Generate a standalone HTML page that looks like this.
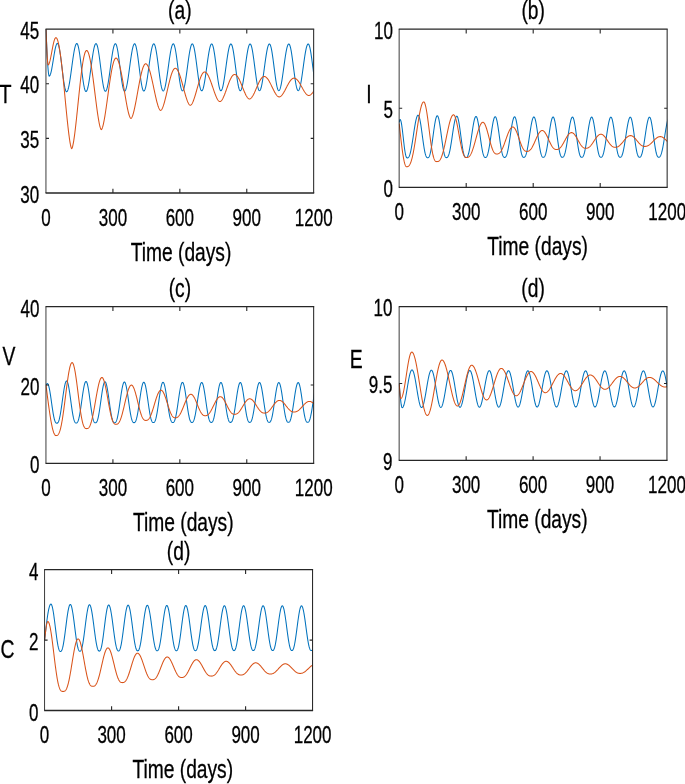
<!DOCTYPE html><html><head><meta charset="utf-8"><title>Figure</title>
<style>html,body{margin:0;padding:0;background:#fff;overflow:hidden}svg{display:block}text{font-family:"Liberation Sans",Arial,Helvetica,sans-serif;fill:#000;stroke:#000;stroke-width:0.3px}</style></head><body>
<svg width="685" height="784" viewBox="0 0 685 784">
<rect width="685" height="784" fill="#fff"/>
<g id="panel-a">
<clipPath id="cpa"><rect x="45.50" y="28.00" width="268.20" height="166.20"/></clipPath>
<g clip-path="url(#cpa)" fill="none" stroke-width="1.05" stroke-linejoin="round">
<path d="M46.00,29.20 L46.27,35.32 L46.53,41.34 L46.80,47.15 L47.07,52.65 L47.33,57.75 L47.60,62.36 L47.87,66.41 L48.13,69.82 L48.40,72.53 L48.67,74.50 L48.93,75.70 L49.20,76.10 L49.46,76.02 L49.71,75.79 L49.97,75.40 L50.23,74.86 L50.48,74.17 L50.74,73.34 L50.99,72.39 L51.25,71.31 L51.51,70.12 L51.76,68.83 L52.02,67.46 L52.27,66.01 L52.53,64.50 L52.79,62.94 L53.04,61.35 L53.30,59.75 L53.56,58.15 L53.81,56.56 L54.07,55.00 L54.33,53.49 L54.58,52.04 L54.84,50.67 L55.09,49.38 L55.35,48.19 L55.61,47.11 L55.86,46.16 L56.12,45.33 L56.38,44.64 L56.63,44.10 L56.89,43.71 L57.14,43.48 L57.40,43.40 L57.66,43.49 L57.91,43.77 L58.17,44.22 L58.42,44.86 L58.68,45.67 L58.93,46.64 L59.19,47.78 L59.44,49.06 L59.70,50.49 L59.96,52.04 L60.21,53.72 L60.47,55.50 L60.72,57.37 L60.98,59.32 L61.23,61.34 L61.49,63.40 L61.74,65.49 L62.00,67.60 L62.26,69.71 L62.51,71.80 L62.77,73.86 L63.02,75.88 L63.28,77.83 L63.53,79.70 L63.79,81.48 L64.04,83.16 L64.30,84.71 L64.56,86.14 L64.81,87.42 L65.07,88.56 L65.32,89.53 L65.58,90.34 L65.83,90.98 L66.09,91.43 L66.34,91.71 L66.60,91.80 L66.85,91.73 L67.11,91.50 L67.36,91.13 L67.62,90.62 L67.88,89.96 L68.13,89.17 L68.38,88.24 L68.64,87.19 L68.89,86.02 L69.15,84.73 L69.41,83.34 L69.66,81.85 L69.91,80.28 L70.17,78.62 L70.42,76.90 L70.68,75.12 L70.94,73.30 L71.19,71.44 L71.44,69.56 L71.70,67.67 L71.95,65.77 L72.21,63.89 L72.46,62.03 L72.72,60.21 L72.97,58.43 L73.23,56.71 L73.48,55.06 L73.74,53.48 L73.99,51.99 L74.25,50.60 L74.50,49.31 L74.76,48.14 L75.02,47.09 L75.27,46.16 L75.52,45.37 L75.78,44.71 L76.03,44.20 L76.29,43.83 L76.55,43.61 L76.80,43.53 L77.06,43.62 L77.31,43.90 L77.57,44.35 L77.82,44.98 L78.08,45.78 L78.33,46.75 L78.59,47.87 L78.84,49.15 L79.10,50.56 L79.36,52.11 L79.61,53.77 L79.87,55.53 L80.12,57.39 L80.38,59.32 L80.63,61.32 L80.89,63.37 L81.14,65.44 L81.40,67.53 L81.66,69.63 L81.91,71.70 L82.17,73.75 L82.42,75.74 L82.68,77.68 L82.93,79.53 L83.19,81.30 L83.44,82.96 L83.70,84.50 L83.96,85.92 L84.21,87.19 L84.47,88.32 L84.72,89.29 L84.98,90.09 L85.23,90.72 L85.49,91.17 L85.74,91.44 L86.00,91.53 L86.25,91.46 L86.50,91.24 L86.75,90.87 L87.00,90.36 L87.25,89.71 L87.50,88.92 L87.75,88.01 L88.00,86.96 L88.25,85.80 L88.50,84.52 L88.75,83.14 L89.00,81.66 L89.25,80.10 L89.50,78.46 L89.75,76.75 L90.00,74.99 L90.25,73.18 L90.50,71.33 L90.75,69.46 L91.00,67.59 L91.25,65.71 L91.50,63.84 L91.75,61.99 L92.00,60.18 L92.25,58.42 L92.50,56.71 L92.75,55.07 L93.00,53.51 L93.25,52.03 L93.50,50.65 L93.75,49.37 L94.00,48.21 L94.25,47.17 L94.50,46.25 L94.75,45.46 L95.00,44.81 L95.25,44.30 L95.50,43.93 L95.75,43.71 L96.00,43.64 L96.25,43.72 L96.51,43.98 L96.76,44.41 L97.02,45.00 L97.27,45.75 L97.52,46.66 L97.78,47.73 L98.03,48.93 L98.29,50.27 L98.54,51.73 L98.79,53.30 L99.05,54.98 L99.30,56.75 L99.56,58.59 L99.81,60.50 L100.06,62.46 L100.32,64.45 L100.57,66.47 L100.83,68.49 L101.08,70.51 L101.34,72.51 L101.59,74.46 L101.84,76.37 L102.10,78.22 L102.35,79.98 L102.61,81.66 L102.86,83.24 L103.11,84.70 L103.37,86.03 L103.62,87.24 L103.88,88.30 L104.13,89.21 L104.38,89.97 L104.64,90.56 L104.89,90.98 L105.15,91.24 L105.40,91.33 L105.65,91.25 L105.90,91.03 L106.15,90.67 L106.40,90.16 L106.65,89.52 L106.90,88.73 L107.15,87.82 L107.40,86.78 L107.65,85.62 L107.90,84.36 L108.15,82.98 L108.40,81.51 L108.65,79.96 L108.90,78.33 L109.15,76.63 L109.40,74.88 L109.65,73.08 L109.90,71.25 L110.15,69.39 L110.40,67.52 L110.65,65.65 L110.90,63.80 L111.15,61.96 L111.40,60.17 L111.65,58.41 L111.90,56.71 L112.15,55.08 L112.40,53.53 L112.65,52.06 L112.90,50.69 L113.15,49.42 L113.40,48.26 L113.65,47.22 L113.90,46.31 L114.15,45.53 L114.40,44.88 L114.65,44.37 L114.90,44.01 L115.15,43.79 L115.40,43.72 L115.66,43.81 L115.91,44.08 L116.17,44.52 L116.42,45.15 L116.68,45.94 L116.93,46.90 L117.19,48.01 L117.44,49.27 L117.70,50.67 L117.96,52.19 L118.21,53.83 L118.47,55.58 L118.72,57.42 L118.98,59.33 L119.23,61.30 L119.49,63.32 L119.74,65.37 L120.00,67.44 L120.26,69.51 L120.51,71.56 L120.77,73.58 L121.02,75.56 L121.28,77.47 L121.53,79.30 L121.79,81.05 L122.04,82.69 L122.30,84.22 L122.56,85.62 L122.81,86.88 L123.07,87.99 L123.32,88.94 L123.58,89.74 L123.83,90.36 L124.09,90.81 L124.34,91.08 L124.60,91.17 L124.85,91.09 L125.10,90.88 L125.35,90.51 L125.60,90.01 L125.85,89.36 L126.10,88.58 L126.35,87.68 L126.60,86.64 L126.85,85.49 L127.10,84.23 L127.35,82.86 L127.60,81.40 L127.85,79.85 L128.10,78.23 L128.35,76.54 L128.60,74.79 L128.85,73.00 L129.10,71.18 L129.35,69.33 L129.60,67.47 L129.85,65.61 L130.10,63.77 L130.35,61.94 L130.60,60.15 L130.85,58.41 L131.10,56.72 L131.35,55.09 L131.60,53.55 L131.85,52.09 L132.10,50.72 L132.35,49.46 L132.60,48.30 L132.85,47.27 L133.10,46.36 L133.35,45.58 L133.60,44.94 L133.85,44.43 L134.10,44.07 L134.35,43.85 L134.60,43.78 L134.86,43.87 L135.11,44.14 L135.37,44.58 L135.62,45.20 L135.88,45.99 L136.13,46.95 L136.39,48.05 L136.64,49.31 L136.90,50.70 L137.16,52.22 L137.41,53.86 L137.67,55.59 L137.92,57.42 L138.18,59.33 L138.43,61.29 L138.69,63.31 L138.94,65.35 L139.20,67.41 L139.46,69.47 L139.71,71.51 L139.97,73.53 L140.22,75.49 L140.48,77.40 L140.73,79.23 L140.99,80.96 L141.24,82.60 L141.50,84.12 L141.76,85.51 L142.01,86.77 L142.27,87.88 L142.52,88.83 L142.78,89.62 L143.03,90.24 L143.29,90.68 L143.54,90.95 L143.80,91.04 L144.05,90.97 L144.30,90.75 L144.55,90.39 L144.80,89.89 L145.05,89.24 L145.30,88.47 L145.55,87.56 L145.80,86.53 L146.05,85.39 L146.30,84.13 L146.55,82.77 L146.80,81.31 L147.05,79.77 L147.30,78.15 L147.55,76.47 L147.80,74.73 L148.05,72.95 L148.30,71.13 L148.55,69.29 L148.80,67.43 L149.05,65.58 L149.30,63.74 L149.55,61.92 L149.80,60.14 L150.05,58.40 L150.30,56.72 L150.55,55.10 L150.80,53.56 L151.05,52.10 L151.30,50.74 L151.55,49.48 L151.80,48.34 L152.05,47.31 L152.30,46.40 L152.55,45.63 L152.80,44.98 L153.05,44.48 L153.30,44.12 L153.55,43.90 L153.80,43.83 L154.05,43.91 L154.31,44.17 L154.56,44.59 L154.82,45.17 L155.07,45.92 L155.32,46.82 L155.58,47.87 L155.83,49.06 L156.09,50.38 L156.34,51.82 L156.59,53.38 L156.85,55.03 L157.10,56.78 L157.36,58.60 L157.61,60.49 L157.86,62.42 L158.12,64.39 L158.37,66.39 L158.63,68.39 L158.88,70.38 L159.14,72.35 L159.39,74.28 L159.64,76.17 L159.90,77.99 L160.15,79.74 L160.41,81.39 L160.66,82.95 L160.91,84.39 L161.17,85.71 L161.42,86.90 L161.68,87.95 L161.93,88.85 L162.18,89.60 L162.44,90.18 L162.69,90.60 L162.95,90.86 L163.20,90.94 L163.45,90.87 L163.70,90.65 L163.96,90.29 L164.21,89.79 L164.46,89.15 L164.72,88.38 L164.97,87.48 L165.22,86.45 L165.47,85.30 L165.72,84.05 L165.98,82.69 L166.23,81.24 L166.48,79.70 L166.73,78.09 L166.99,76.41 L167.24,74.68 L167.49,72.90 L167.75,71.09 L168.00,69.25 L168.25,67.40 L168.50,65.56 L168.75,63.72 L169.01,61.91 L169.26,60.13 L169.51,58.40 L169.77,56.72 L170.02,55.11 L170.27,53.57 L170.52,52.12 L170.78,50.76 L171.03,49.51 L171.28,48.36 L171.53,47.33 L171.78,46.43 L172.04,45.66 L172.29,45.02 L172.54,44.52 L172.80,44.16 L173.05,43.94 L173.30,43.87 L173.56,43.96 L173.81,44.22 L174.07,44.67 L174.32,45.28 L174.58,46.07 L174.83,47.01 L175.09,48.12 L175.34,49.36 L175.60,50.75 L175.86,52.26 L176.11,53.89 L176.37,55.62 L176.62,57.44 L176.88,59.33 L177.13,61.28 L177.39,63.29 L177.64,65.32 L177.90,67.37 L178.16,69.42 L178.41,71.45 L178.67,73.45 L178.92,75.40 L179.18,77.30 L179.43,79.12 L179.69,80.85 L179.94,82.47 L180.20,83.98 L180.46,85.37 L180.71,86.62 L180.97,87.72 L181.22,88.67 L181.48,89.45 L181.73,90.07 L181.99,90.51 L182.24,90.78 L182.50,90.87 L182.75,90.79 L183.00,90.56 L183.25,90.19 L183.51,89.66 L183.76,88.99 L184.01,88.18 L184.26,87.23 L184.51,86.16 L184.76,84.96 L185.01,83.65 L185.26,82.24 L185.52,80.72 L185.77,79.12 L186.02,77.45 L186.27,75.71 L186.52,73.92 L186.77,72.08 L187.02,70.21 L187.27,68.33 L187.53,66.44 L187.78,64.55 L188.03,62.68 L188.28,60.85 L188.53,59.05 L188.78,57.31 L189.03,55.64 L189.28,54.04 L189.54,52.53 L189.79,51.11 L190.04,49.80 L190.29,48.61 L190.54,47.53 L190.79,46.59 L191.04,45.78 L191.29,45.10 L191.55,44.58 L191.80,44.20 L192.05,43.97 L192.30,43.90 L192.55,43.98 L192.81,44.23 L193.06,44.65 L193.32,45.24 L193.57,45.98 L193.82,46.87 L194.08,47.92 L194.33,49.10 L194.59,50.42 L194.84,51.86 L195.09,53.40 L195.35,55.05 L195.60,56.79 L195.86,58.61 L196.11,60.48 L196.36,62.41 L196.62,64.37 L196.87,66.36 L197.13,68.35 L197.38,70.33 L197.64,72.29 L197.89,74.22 L198.14,76.10 L198.40,77.91 L198.65,79.65 L198.91,81.30 L199.16,82.85 L199.41,84.29 L199.67,85.60 L199.92,86.79 L200.18,87.83 L200.43,88.73 L200.68,89.47 L200.94,90.05 L201.19,90.47 L201.45,90.72 L201.70,90.81 L201.95,90.74 L202.20,90.52 L202.45,90.16 L202.70,89.66 L202.95,89.02 L203.20,88.25 L203.45,87.35 L203.70,86.33 L203.95,85.19 L204.20,83.94 L204.45,82.59 L204.70,81.14 L204.95,79.61 L205.20,78.01 L205.45,76.34 L205.70,74.61 L205.95,72.84 L206.20,71.03 L206.45,69.20 L206.70,67.36 L206.95,65.52 L207.20,63.70 L207.45,61.89 L207.70,60.12 L207.95,58.39 L208.20,56.72 L208.45,55.11 L208.70,53.58 L208.95,52.14 L209.20,50.79 L209.45,49.54 L209.70,48.40 L209.95,47.37 L210.20,46.47 L210.45,45.70 L210.70,45.07 L210.95,44.57 L211.20,44.21 L211.45,43.99 L211.70,43.92 L211.96,44.01 L212.21,44.27 L212.47,44.72 L212.72,45.33 L212.98,46.11 L213.23,47.06 L213.49,48.15 L213.74,49.40 L214.00,50.78 L214.26,52.29 L214.51,53.91 L214.77,55.63 L215.02,57.44 L215.28,59.33 L215.53,61.28 L215.79,63.27 L216.04,65.30 L216.30,67.34 L216.56,69.38 L216.81,71.41 L217.07,73.40 L217.32,75.35 L217.58,77.24 L217.83,79.05 L218.09,80.77 L218.34,82.40 L218.60,83.90 L218.86,85.28 L219.11,86.53 L219.37,87.62 L219.62,88.57 L219.88,89.35 L220.13,89.96 L220.39,90.41 L220.64,90.67 L220.90,90.76 L221.15,90.69 L221.40,90.47 L221.65,90.12 L221.90,89.62 L222.15,88.98 L222.40,88.21 L222.65,87.31 L222.90,86.29 L223.15,85.15 L223.40,83.90 L223.65,82.55 L223.90,81.11 L224.15,79.58 L224.40,77.98 L224.65,76.31 L224.90,74.58 L225.15,72.82 L225.40,71.01 L225.65,69.19 L225.90,67.35 L226.15,65.51 L226.40,63.69 L226.65,61.88 L226.90,60.11 L227.15,58.39 L227.40,56.72 L227.65,55.12 L227.90,53.59 L228.15,52.14 L228.40,50.79 L228.65,49.55 L228.90,48.41 L229.15,47.39 L229.40,46.49 L229.65,45.72 L229.90,45.08 L230.15,44.58 L230.40,44.23 L230.65,44.01 L230.90,43.94 L231.15,44.02 L231.41,44.27 L231.66,44.69 L231.92,45.27 L232.17,46.01 L232.42,46.91 L232.68,47.95 L232.93,49.13 L233.19,50.44 L233.44,51.88 L233.69,53.42 L233.95,55.07 L234.20,56.80 L234.46,58.61 L234.71,60.48 L234.96,62.40 L235.22,64.36 L235.47,66.34 L235.73,68.32 L235.98,70.30 L236.24,72.26 L236.49,74.18 L236.74,76.05 L237.00,77.86 L237.25,79.60 L237.51,81.24 L237.76,82.79 L238.01,84.22 L238.27,85.53 L238.52,86.71 L238.78,87.76 L239.03,88.65 L239.28,89.39 L239.54,89.97 L239.79,90.39 L240.05,90.64 L240.30,90.73 L240.55,90.65 L240.80,90.42 L241.05,90.05 L241.31,89.52 L241.56,88.85 L241.81,88.05 L242.06,87.11 L242.31,86.04 L242.56,84.84 L242.81,83.54 L243.06,82.13 L243.32,80.62 L243.57,79.03 L243.82,77.36 L244.07,75.63 L244.32,73.85 L244.57,72.02 L244.82,70.16 L245.07,68.28 L245.33,66.40 L245.58,64.52 L245.83,62.66 L246.08,60.83 L246.33,59.05 L246.58,57.31 L246.83,55.64 L247.08,54.05 L247.34,52.55 L247.59,51.14 L247.84,49.83 L248.09,48.64 L248.34,47.57 L248.59,46.63 L248.84,45.82 L249.09,45.15 L249.35,44.63 L249.60,44.25 L249.85,44.03 L250.10,43.95 L250.35,44.03 L250.61,44.29 L250.86,44.70 L251.12,45.29 L251.37,46.03 L251.62,46.92 L251.88,47.96 L252.13,49.14 L252.39,50.45 L252.64,51.88 L252.89,53.43 L253.15,55.07 L253.40,56.80 L253.66,58.61 L253.91,60.48 L254.16,62.40 L254.42,64.36 L254.67,66.33 L254.93,68.32 L255.18,70.29 L255.44,72.25 L255.69,74.17 L255.94,76.04 L256.20,77.85 L256.45,79.58 L256.71,81.22 L256.96,82.77 L257.21,84.20 L257.47,85.51 L257.72,86.69 L257.98,87.73 L258.23,88.62 L258.48,89.36 L258.74,89.94 L258.99,90.36 L259.25,90.61 L259.50,90.70 L259.75,90.62 L260.01,90.40 L260.26,90.02 L260.52,89.50 L260.77,88.83 L261.02,88.02 L261.28,87.08 L261.53,86.01 L261.78,84.82 L262.04,83.52 L262.29,82.11 L262.55,80.60 L262.80,79.01 L263.05,77.35 L263.31,75.62 L263.56,73.83 L263.82,72.00 L264.07,70.15 L264.32,68.27 L264.58,66.39 L264.83,64.51 L265.08,62.66 L265.34,60.83 L265.59,59.04 L265.85,57.31 L266.10,55.65 L266.35,54.06 L266.61,52.55 L266.86,51.14 L267.12,49.84 L267.37,48.65 L267.62,47.58 L267.88,46.64 L268.13,45.83 L268.38,45.16 L268.64,44.64 L268.89,44.26 L269.15,44.04 L269.40,43.96 L269.65,44.05 L269.91,44.30 L270.16,44.72 L270.42,45.30 L270.67,46.04 L270.92,46.93 L271.18,47.97 L271.43,49.15 L271.69,50.46 L271.94,51.89 L272.19,53.43 L272.45,55.07 L272.70,56.80 L272.96,58.61 L273.21,60.48 L273.46,62.40 L273.72,64.35 L273.97,66.33 L274.23,68.31 L274.48,70.29 L274.74,72.24 L274.99,74.16 L275.24,76.03 L275.50,77.83 L275.75,79.57 L276.01,81.21 L276.26,82.75 L276.51,84.18 L276.77,85.49 L277.02,86.67 L277.28,87.71 L277.53,88.60 L277.78,89.34 L278.04,89.92 L278.29,90.34 L278.55,90.59 L278.80,90.68 L279.05,90.60 L279.30,90.39 L279.55,90.03 L279.80,89.53 L280.05,88.90 L280.30,88.13 L280.55,87.24 L280.80,86.22 L281.05,85.08 L281.30,83.84 L281.55,82.49 L281.80,81.05 L282.05,79.53 L282.30,77.93 L282.55,76.26 L282.80,74.54 L283.05,72.78 L283.30,70.98 L283.55,69.16 L283.80,67.32 L284.05,65.49 L284.30,63.67 L284.55,61.87 L284.80,60.11 L285.05,58.39 L285.30,56.72 L285.55,55.12 L285.80,53.60 L286.05,52.16 L286.30,50.81 L286.55,49.57 L286.80,48.43 L287.05,47.41 L287.30,46.52 L287.55,45.75 L287.80,45.11 L288.05,44.62 L288.30,44.26 L288.55,44.04 L288.80,43.97 L289.05,44.05 L289.31,44.31 L289.56,44.72 L289.82,45.30 L290.07,46.04 L290.32,46.93 L290.58,47.97 L290.83,49.15 L291.09,50.46 L291.34,51.89 L291.59,53.43 L291.85,55.08 L292.10,56.81 L292.36,58.61 L292.61,60.48 L292.86,62.40 L293.12,64.35 L293.37,66.32 L293.63,68.31 L293.88,70.28 L294.14,72.23 L294.39,74.15 L294.64,76.02 L294.90,77.82 L295.15,79.55 L295.41,81.20 L295.66,82.74 L295.91,84.17 L296.17,85.48 L296.42,86.66 L296.68,87.70 L296.93,88.59 L297.18,89.33 L297.44,89.91 L297.69,90.32 L297.95,90.58 L298.20,90.66 L298.45,90.59 L298.70,90.37 L298.95,90.01 L299.20,89.52 L299.45,88.88 L299.70,88.12 L299.95,87.22 L300.20,86.20 L300.45,85.07 L300.70,83.82 L300.95,82.48 L301.20,81.04 L301.45,79.51 L301.70,77.92 L301.95,76.25 L302.20,74.53 L302.45,72.77 L302.70,70.97 L302.95,69.15 L303.20,67.32 L303.45,65.49 L303.70,63.67 L303.95,61.87 L304.20,60.11 L304.45,58.39 L304.70,56.72 L304.95,55.12 L305.20,53.60 L305.45,52.16 L305.70,50.81 L305.95,49.57 L306.20,48.43 L306.45,47.42 L306.70,46.52 L306.95,45.75 L307.20,45.12 L307.45,44.62 L307.70,44.26 L307.95,44.05 L308.20,43.98 L308.45,44.06 L308.70,44.31 L308.95,44.73 L309.21,45.31 L309.46,46.05 L309.71,46.94 L309.96,47.98 L310.21,49.16 L310.46,50.46 L310.71,51.89 L310.96,53.44 L311.22,55.08 L311.47,56.81 L311.72,58.61 L311.97,60.48 L312.22,62.40 L312.47,64.35 L312.72,66.32 L312.98,68.30 L313.23,70.28 L313.48,72.23 L313.73,74.14 L313.98,76.01 L314.23,77.82 L314.48,79.55" stroke="#0072BD"/>
<path d="M46.00,29.20 L46.27,36.16 L46.55,42.86 L46.83,49.03 L47.10,54.44 L47.38,58.88 L47.65,62.18 L47.93,64.21 L48.20,64.90 L48.46,64.78 L48.71,64.46 L48.97,63.98 L49.23,63.36 L49.48,62.60 L49.74,61.72 L50.00,60.73 L50.25,59.65 L50.51,58.48 L50.77,57.24 L51.02,55.94 L51.28,54.60 L51.54,53.23 L51.79,51.85 L52.05,50.46 L52.31,49.09 L52.56,47.74 L52.82,46.44 L53.08,45.18 L53.33,43.99 L53.59,42.87 L53.85,41.84 L54.10,40.91 L54.36,40.08 L54.62,39.37 L54.87,38.78 L55.13,38.31 L55.39,37.97 L55.64,37.77 L55.90,37.70 L56.15,37.76 L56.40,37.92 L56.65,38.20 L56.90,38.58 L57.15,39.07 L57.40,39.68 L57.66,40.38 L57.91,41.20 L58.16,42.12 L58.41,43.14 L58.66,44.26 L58.91,45.48 L59.16,46.79 L59.41,48.21 L59.66,49.71 L59.91,51.30 L60.16,52.98 L60.41,54.74 L60.67,56.59 L60.92,58.51 L61.17,60.50 L61.42,62.56 L61.67,64.69 L61.92,66.89 L62.17,69.14 L62.42,71.44 L62.67,73.80 L62.92,76.20 L63.17,78.64 L63.42,81.12 L63.67,83.64 L63.93,86.18 L64.18,88.74 L64.43,91.32 L64.68,93.92 L64.93,96.52 L65.18,99.13 L65.43,101.73 L65.68,104.33 L65.93,106.91 L66.18,109.48 L66.43,112.02 L66.68,114.53 L66.93,117.01 L67.19,119.44 L67.44,121.84 L67.69,124.17 L67.94,126.46 L68.19,128.67 L68.44,130.82 L68.69,132.89 L68.94,134.88 L69.19,136.78 L69.44,138.58 L69.69,140.28 L69.94,141.86 L70.20,143.32 L70.45,144.65 L70.70,145.83 L70.95,146.85 L71.20,147.69 L71.45,148.30 L71.70,148.60 L71.95,148.33 L72.21,147.77 L72.46,147.00 L72.71,146.05 L72.96,144.94 L73.22,143.68 L73.47,142.30 L73.72,140.79 L73.97,139.17 L74.23,137.45 L74.48,135.63 L74.73,133.72 L74.98,131.73 L75.24,129.66 L75.49,127.53 L75.74,125.34 L75.99,123.09 L76.25,120.79 L76.50,118.45 L76.75,116.07 L77.00,113.67 L77.26,111.23 L77.51,108.78 L77.76,106.32 L78.01,103.85 L78.27,101.38 L78.52,98.92 L78.77,96.46 L79.02,94.02 L79.28,91.60 L79.53,89.21 L79.78,86.85 L80.03,84.53 L80.29,82.25 L80.54,80.01 L80.79,77.83 L81.04,75.70 L81.30,73.64 L81.55,71.64 L81.80,69.71 L82.05,67.85 L82.31,66.07 L82.56,64.37 L82.81,62.76 L83.06,61.23 L83.32,59.79 L83.57,58.45 L83.82,57.21 L84.07,56.07 L84.33,55.02 L84.58,54.08 L84.83,53.25 L85.08,52.53 L85.34,51.91 L85.59,51.40 L85.84,51.01 L86.09,50.73 L86.35,50.56 L86.60,50.50 L86.85,50.55 L87.11,50.69 L87.36,50.94 L87.61,51.27 L87.87,51.71 L88.12,52.24 L88.37,52.86 L88.63,53.57 L88.88,54.37 L89.13,55.27 L89.39,56.24 L89.64,57.31 L89.89,58.45 L90.15,59.67 L90.40,60.98 L90.66,62.35 L90.91,63.79 L91.16,65.31 L91.42,66.88 L91.67,68.52 L91.92,70.21 L92.18,71.96 L92.43,73.75 L92.68,75.59 L92.94,77.47 L93.19,79.39 L93.44,81.34 L93.70,83.31 L93.95,85.31 L94.20,87.33 L94.46,89.35 L94.71,91.39 L94.96,93.43 L95.22,95.47 L95.47,97.50 L95.72,99.52 L95.98,101.52 L96.23,103.50 L96.48,105.45 L96.74,107.37 L96.99,109.25 L97.24,111.08 L97.50,112.87 L97.75,114.61 L98.01,116.28 L98.26,117.89 L98.51,119.43 L98.77,120.89 L99.02,122.27 L99.27,123.56 L99.53,124.76 L99.78,125.85 L100.03,126.83 L100.29,127.69 L100.54,128.42 L100.79,129.00 L101.05,129.41 L101.30,129.60 L101.55,129.44 L101.81,129.09 L102.06,128.58 L102.31,127.94 L102.57,127.19 L102.82,126.32 L103.07,125.36 L103.33,124.30 L103.58,123.15 L103.83,121.93 L104.09,120.62 L104.34,119.25 L104.59,117.81 L104.85,116.30 L105.10,114.75 L105.36,113.14 L105.61,111.49 L105.86,109.79 L106.12,108.06 L106.37,106.30 L106.62,104.52 L106.88,102.71 L107.13,100.88 L107.38,99.04 L107.64,97.20 L107.89,95.35 L108.14,93.50 L108.40,91.66 L108.65,89.83 L108.90,88.02 L109.16,86.22 L109.41,84.45 L109.66,82.71 L109.92,81.00 L110.17,79.32 L110.42,77.69 L110.68,76.09 L110.93,74.55 L111.18,73.06 L111.44,71.62 L111.69,70.24 L111.94,68.92 L112.20,67.67 L112.45,66.48 L112.71,65.36 L112.96,64.32 L113.21,63.35 L113.47,62.46 L113.72,61.64 L113.97,60.91 L114.23,60.25 L114.48,59.69 L114.73,59.20 L114.99,58.81 L115.24,58.50 L115.49,58.28 L115.75,58.14 L116.00,58.10 L116.25,58.14 L116.51,58.25 L116.76,58.43 L117.01,58.69 L117.26,59.02 L117.52,59.42 L117.77,59.89 L118.02,60.43 L118.27,61.04 L118.53,61.71 L118.78,62.45 L119.03,63.26 L119.28,64.13 L119.54,65.05 L119.79,66.04 L120.04,67.08 L120.29,68.17 L120.55,69.32 L120.80,70.51 L121.05,71.75 L121.30,73.03 L121.56,74.35 L121.81,75.71 L122.06,77.10 L122.31,78.52 L122.57,79.97 L122.82,81.45 L123.07,82.94 L123.32,84.45 L123.58,85.97 L123.83,87.50 L124.08,89.04 L124.33,90.58 L124.59,92.11 L124.84,93.65 L125.09,95.17 L125.34,96.68 L125.60,98.17 L125.85,99.64 L126.10,101.09 L126.35,102.51 L126.61,103.89 L126.86,105.24 L127.11,106.55 L127.36,107.82 L127.62,109.03 L127.87,110.20 L128.12,111.31 L128.37,112.35 L128.63,113.34 L128.88,114.25 L129.13,115.09 L129.38,115.86 L129.64,116.54 L129.89,117.13 L130.14,117.63 L130.39,118.01 L130.65,118.28 L130.90,118.40 L131.15,118.30 L131.40,118.07 L131.65,117.73 L131.90,117.29 L132.15,116.77 L132.41,116.17 L132.66,115.49 L132.91,114.74 L133.16,113.92 L133.41,113.04 L133.66,112.10 L133.91,111.11 L134.16,110.06 L134.41,108.97 L134.66,107.83 L134.91,106.65 L135.16,105.44 L135.42,104.19 L135.67,102.91 L135.92,101.60 L136.17,100.27 L136.42,98.92 L136.67,97.55 L136.92,96.17 L137.17,94.78 L137.42,93.39 L137.67,91.99 L137.92,90.59 L138.17,89.20 L138.43,87.82 L138.68,86.45 L138.93,85.09 L139.18,83.75 L139.43,82.43 L139.68,81.14 L139.93,79.87 L140.18,78.63 L140.43,77.43 L140.68,76.26 L140.93,75.13 L141.18,74.04 L141.44,73.00 L141.69,72.00 L141.94,71.05 L142.19,70.15 L142.44,69.31 L142.69,68.51 L142.94,67.78 L143.19,67.10 L143.44,66.48 L143.69,65.93 L143.94,65.43 L144.19,65.00 L144.45,64.64 L144.70,64.34 L144.95,64.10 L145.20,63.93 L145.45,63.83 L145.70,63.80 L145.95,63.83 L146.21,63.92 L146.46,64.06 L146.71,64.26 L146.96,64.52 L147.22,64.84 L147.47,65.21 L147.72,65.64 L147.97,66.12 L148.23,66.65 L148.48,67.24 L148.73,67.88 L148.98,68.56 L149.24,69.29 L149.49,70.07 L149.74,70.89 L149.99,71.75 L150.25,72.65 L150.50,73.59 L150.75,74.56 L151.00,75.57 L151.26,76.61 L151.51,77.67 L151.76,78.76 L152.01,79.88 L152.27,81.01 L152.52,82.16 L152.77,83.33 L153.02,84.51 L153.28,85.69 L153.53,86.89 L153.78,88.08 L154.03,89.28 L154.29,90.47 L154.54,91.66 L154.79,92.84 L155.04,94.00 L155.30,95.16 L155.55,96.29 L155.80,97.40 L156.05,98.49 L156.31,99.55 L156.56,100.58 L156.81,101.58 L157.06,102.54 L157.32,103.47 L157.57,104.35 L157.82,105.18 L158.07,105.97 L158.33,106.71 L158.58,107.39 L158.83,108.01 L159.08,108.57 L159.34,109.07 L159.59,109.50 L159.84,109.86 L160.09,110.13 L160.35,110.32 L160.60,110.40 L160.85,110.33 L161.11,110.16 L161.36,109.91 L161.61,109.59 L161.87,109.20 L162.12,108.74 L162.37,108.23 L162.63,107.66 L162.88,107.03 L163.13,106.35 L163.39,105.63 L163.64,104.86 L163.89,104.05 L164.15,103.20 L164.40,102.31 L164.66,101.39 L164.91,100.44 L165.16,99.46 L165.42,98.45 L165.67,97.42 L165.92,96.38 L166.18,95.31 L166.43,94.24 L166.68,93.15 L166.94,92.05 L167.19,90.95 L167.44,89.85 L167.70,88.75 L167.95,87.65 L168.20,86.56 L168.46,85.48 L168.71,84.41 L168.96,83.36 L169.22,82.32 L169.47,81.31 L169.72,80.31 L169.98,79.34 L170.23,78.40 L170.48,77.49 L170.74,76.61 L170.99,75.77 L171.24,74.96 L171.50,74.19 L171.75,73.46 L172.01,72.78 L172.26,72.13 L172.51,71.54 L172.77,70.99 L173.02,70.49 L173.27,70.03 L173.53,69.63 L173.78,69.28 L174.03,68.98 L174.29,68.74 L174.54,68.55 L174.79,68.41 L175.05,68.33 L175.30,68.30 L175.55,68.32 L175.80,68.39 L176.05,68.50 L176.30,68.66 L176.55,68.87 L176.80,69.11 L177.05,69.40 L177.30,69.74 L177.55,70.11 L177.80,70.53 L178.05,70.99 L178.30,71.48 L178.55,72.02 L178.80,72.59 L179.05,73.20 L179.30,73.84 L179.55,74.51 L179.80,75.22 L180.05,75.95 L180.30,76.71 L180.55,77.50 L180.80,78.31 L181.05,79.14 L181.30,80.00 L181.55,80.87 L181.80,81.76 L182.05,82.66 L182.30,83.57 L182.55,84.49 L182.80,85.42 L183.05,86.36 L183.30,87.30 L183.55,88.24 L183.80,89.17 L184.05,90.10 L184.30,91.03 L184.55,91.95 L184.80,92.85 L185.05,93.75 L185.30,94.62 L185.55,95.48 L185.80,96.32 L186.05,97.14 L186.30,97.93 L186.55,98.69 L186.80,99.42 L187.05,100.13 L187.30,100.79 L187.55,101.43 L187.80,102.02 L188.05,102.57 L188.30,103.09 L188.55,103.55 L188.80,103.97 L189.05,104.34 L189.30,104.65 L189.55,104.91 L189.80,105.11 L190.05,105.25 L190.30,105.30 L190.55,105.25 L190.80,105.12 L191.05,104.93 L191.30,104.68 L191.55,104.38 L191.81,104.02 L192.06,103.61 L192.31,103.16 L192.56,102.66 L192.81,102.12 L193.06,101.55 L193.31,100.93 L193.56,100.28 L193.81,99.60 L194.06,98.88 L194.31,98.14 L194.56,97.38 L194.82,96.59 L195.07,95.77 L195.32,94.94 L195.57,94.10 L195.82,93.24 L196.07,92.37 L196.32,91.49 L196.57,90.60 L196.82,89.71 L197.07,88.82 L197.32,87.93 L197.58,87.05 L197.83,86.17 L198.08,85.30 L198.33,84.43 L198.58,83.59 L198.83,82.75 L199.08,81.94 L199.33,81.14 L199.58,80.37 L199.83,79.62 L200.08,78.89 L200.34,78.20 L200.59,77.53 L200.84,76.89 L201.09,76.29 L201.34,75.72 L201.59,75.19 L201.84,74.69 L202.09,74.23 L202.34,73.82 L202.59,73.44 L202.84,73.11 L203.09,72.82 L203.35,72.57 L203.60,72.36 L203.85,72.21 L204.10,72.09 L204.35,72.02 L204.60,72.00 L204.85,72.02 L205.10,72.07 L205.35,72.16 L205.60,72.28 L205.85,72.44 L206.10,72.64 L206.36,72.87 L206.61,73.13 L206.86,73.42 L207.11,73.75 L207.36,74.11 L207.61,74.50 L207.86,74.92 L208.11,75.37 L208.36,75.85 L208.61,76.35 L208.86,76.88 L209.11,77.43 L209.37,78.01 L209.62,78.61 L209.87,79.23 L210.12,79.87 L210.37,80.52 L210.62,81.20 L210.87,81.88 L211.12,82.58 L211.37,83.29 L211.62,84.01 L211.87,84.74 L212.12,85.47 L212.38,86.21 L212.63,86.95 L212.88,87.69 L213.13,88.43 L213.38,89.17 L213.63,89.90 L213.88,90.63 L214.13,91.35 L214.38,92.06 L214.63,92.75 L214.88,93.44 L215.13,94.10 L215.39,94.75 L215.64,95.39 L215.89,96.00 L216.14,96.59 L216.39,97.15 L216.64,97.69 L216.89,98.20 L217.14,98.69 L217.39,99.14 L217.64,99.56 L217.89,99.95 L218.14,100.30 L218.40,100.62 L218.65,100.89 L218.90,101.13 L219.15,101.32 L219.40,101.47 L219.65,101.56 L219.90,101.60 L220.15,101.56 L220.41,101.47 L220.66,101.33 L220.91,101.14 L221.17,100.90 L221.42,100.63 L221.67,100.32 L221.93,99.97 L222.18,99.59 L222.43,99.17 L222.69,98.72 L222.94,98.24 L223.19,97.73 L223.45,97.20 L223.70,96.64 L223.96,96.05 L224.21,95.45 L224.46,94.83 L224.72,94.19 L224.97,93.53 L225.22,92.86 L225.48,92.18 L225.73,91.48 L225.98,90.78 L226.24,90.07 L226.49,89.36 L226.74,88.65 L227.00,87.93 L227.25,87.22 L227.50,86.51 L227.76,85.80 L228.01,85.11 L228.26,84.42 L228.52,83.74 L228.77,83.07 L229.02,82.42 L229.28,81.79 L229.53,81.17 L229.78,80.57 L230.04,79.99 L230.29,79.44 L230.54,78.90 L230.80,78.40 L231.05,77.91 L231.31,77.46 L231.56,77.04 L231.81,76.64 L232.07,76.28 L232.32,75.95 L232.57,75.65 L232.83,75.38 L233.08,75.15 L233.33,74.95 L233.59,74.79 L233.84,74.66 L234.09,74.57 L234.35,74.52 L234.60,74.50 L234.85,74.52 L235.11,74.56 L235.36,74.64 L235.61,74.75 L235.86,74.90 L236.12,75.07 L236.37,75.27 L236.62,75.51 L236.87,75.77 L237.13,76.06 L237.38,76.38 L237.63,76.73 L237.88,77.10 L238.14,77.50 L238.39,77.93 L238.64,78.37 L238.89,78.84 L239.15,79.33 L239.40,79.84 L239.65,80.37 L239.90,80.92 L240.16,81.48 L240.41,82.05 L240.66,82.64 L240.91,83.24 L241.17,83.85 L241.42,84.47 L241.67,85.10 L241.92,85.73 L242.18,86.36 L242.43,87.00 L242.68,87.63 L242.93,88.27 L243.19,88.90 L243.44,89.53 L243.69,90.15 L243.94,90.76 L244.20,91.36 L244.45,91.95 L244.70,92.53 L244.95,93.10 L245.21,93.64 L245.46,94.17 L245.71,94.68 L245.96,95.17 L246.22,95.64 L246.47,96.09 L246.72,96.50 L246.97,96.90 L247.23,97.26 L247.48,97.59 L247.73,97.90 L247.98,98.17 L248.24,98.40 L248.49,98.60 L248.74,98.77 L248.99,98.89 L249.25,98.97 L249.50,99.00 L249.75,98.97 L250.01,98.90 L250.26,98.78 L250.51,98.63 L250.77,98.44 L251.02,98.22 L251.27,97.97 L251.53,97.68 L251.78,97.37 L252.03,97.03 L252.29,96.66 L252.54,96.27 L252.79,95.85 L253.05,95.41 L253.30,94.95 L253.56,94.47 L253.81,93.97 L254.06,93.45 L254.32,92.92 L254.57,92.38 L254.82,91.82 L255.08,91.26 L255.33,90.68 L255.58,90.10 L255.84,89.51 L256.09,88.92 L256.34,88.32 L256.60,87.73 L256.85,87.13 L257.10,86.54 L257.36,85.96 L257.61,85.37 L257.86,84.80 L258.12,84.23 L258.37,83.68 L258.62,83.13 L258.88,82.60 L259.13,82.08 L259.38,81.58 L259.64,81.10 L259.89,80.63 L260.14,80.19 L260.40,79.76 L260.65,79.36 L260.91,78.98 L261.16,78.63 L261.41,78.30 L261.67,77.99 L261.92,77.71 L262.17,77.46 L262.43,77.24 L262.68,77.04 L262.93,76.88 L263.19,76.74 L263.44,76.64 L263.69,76.56 L263.95,76.52 L264.20,76.50 L264.45,76.51 L264.70,76.55 L264.95,76.62 L265.20,76.71 L265.45,76.82 L265.70,76.96 L265.95,77.13 L266.20,77.32 L266.45,77.53 L266.70,77.77 L266.95,78.03 L267.20,78.31 L267.45,78.62 L267.70,78.94 L267.95,79.29 L268.20,79.65 L268.45,80.03 L268.70,80.43 L268.95,80.85 L269.20,81.28 L269.45,81.72 L269.70,82.18 L269.95,82.65 L270.20,83.13 L270.45,83.62 L270.70,84.12 L270.95,84.63 L271.20,85.14 L271.45,85.66 L271.70,86.17 L271.95,86.70 L272.20,87.22 L272.45,87.74 L272.70,88.26 L272.95,88.78 L273.20,89.29 L273.45,89.79 L273.70,90.29 L273.95,90.78 L274.20,91.26 L274.45,91.73 L274.70,92.19 L274.95,92.63 L275.20,93.06 L275.45,93.47 L275.70,93.86 L275.95,94.24 L276.20,94.59 L276.45,94.93 L276.70,95.24 L276.95,95.53 L277.20,95.79 L277.45,96.03 L277.70,96.25 L277.95,96.43 L278.20,96.59 L278.45,96.72 L278.70,96.81 L278.95,96.88 L279.20,96.90 L279.45,96.88 L279.71,96.82 L279.96,96.73 L280.21,96.61 L280.46,96.46 L280.72,96.29 L280.97,96.09 L281.22,95.86 L281.47,95.61 L281.73,95.34 L281.98,95.04 L282.23,94.72 L282.48,94.39 L282.74,94.03 L282.99,93.66 L283.24,93.27 L283.49,92.87 L283.75,92.45 L284.00,92.02 L284.25,91.58 L284.50,91.13 L284.76,90.67 L285.01,90.20 L285.26,89.72 L285.51,89.24 L285.77,88.75 L286.02,88.26 L286.27,87.77 L286.52,87.28 L286.78,86.80 L287.03,86.31 L287.28,85.83 L287.53,85.35 L287.79,84.88 L288.04,84.41 L288.29,83.96 L288.54,83.51 L288.80,83.08 L289.05,82.66 L289.30,82.25 L289.55,81.85 L289.81,81.47 L290.06,81.11 L290.31,80.76 L290.56,80.43 L290.82,80.12 L291.07,79.83 L291.32,79.56 L291.57,79.31 L291.83,79.09 L292.08,78.88 L292.33,78.70 L292.58,78.54 L292.84,78.41 L293.09,78.30 L293.34,78.21 L293.59,78.15 L293.85,78.11 L294.10,78.10 L294.35,78.11 L294.61,78.15 L294.86,78.21 L295.11,78.29 L295.37,78.40 L295.62,78.53 L295.87,78.68 L296.13,78.85 L296.38,79.05 L296.63,79.27 L296.89,79.50 L297.14,79.76 L297.39,80.04 L297.65,80.34 L297.90,80.65 L298.16,80.98 L298.41,81.33 L298.66,81.69 L298.92,82.07 L299.17,82.46 L299.42,82.87 L299.68,83.28 L299.93,83.70 L300.18,84.14 L300.44,84.58 L300.69,85.02 L300.94,85.48 L301.20,85.93 L301.45,86.39 L301.70,86.86 L301.96,87.32 L302.21,87.78 L302.46,88.24 L302.72,88.69 L302.97,89.14 L303.22,89.59 L303.48,90.02 L303.73,90.45 L303.98,90.87 L304.24,91.28 L304.49,91.68 L304.74,92.06 L305.00,92.43 L305.25,92.78 L305.51,93.12 L305.76,93.44 L306.01,93.74 L306.27,94.02 L306.52,94.28 L306.77,94.52 L307.03,94.73 L307.28,94.92 L307.53,95.09 L307.79,95.23 L308.04,95.34 L308.29,95.43 L308.55,95.48 L308.80,95.50 L309.05,95.48 L309.30,95.43 L309.55,95.36 L309.80,95.26 L310.05,95.14 L310.31,94.99 L310.56,94.82 L310.81,94.63 L311.06,94.42 L311.31,94.19 L311.56,93.94 L311.81,93.68 L312.06,93.39 L312.31,93.09 L312.56,92.78 L312.81,92.45 L313.06,92.11 L313.32,91.75 L313.57,91.39 L313.82,91.01 L314.07,90.63 L314.32,90.23 L314.57,89.83" stroke="#D95319"/>
</g>
<path d="M112.92,193.00 v-4.30 M112.92,29.20 v4.30 M179.85,193.00 v-4.30 M179.85,29.20 v4.30 M246.77,193.00 v-4.30 M246.77,29.20 v4.30 M46.00,83.80 h3.00 M313.70,83.80 h-3.00 M46.00,138.40 h3.00 M313.70,138.40 h-3.00" stroke="#262626" stroke-width="1.1" fill="none"/>
<path d="M45.55,29.20 H314.20 M45.55,193.00 H314.20" fill="none" stroke="#262626" stroke-width="1.3"/>
<path d="M45.95,29.20 V193.00" fill="none" stroke="#262626" stroke-width="0.9"/>
<path d="M313.65,29.20 V193.00" fill="none" stroke="#262626" stroke-width="1.05"/>
<text transform="translate(46.00,225.50) scale(0.715,1)" font-size="23.80" text-anchor="middle">0</text>
<text transform="translate(112.92,225.50) scale(0.715,1)" font-size="23.80" text-anchor="middle">300</text>
<text transform="translate(179.85,225.50) scale(0.715,1)" font-size="23.80" text-anchor="middle">600</text>
<text transform="translate(246.77,225.50) scale(0.715,1)" font-size="23.80" text-anchor="middle">900</text>
<text transform="translate(313.70,225.50) scale(0.715,1)" font-size="23.80" text-anchor="middle">1200</text>
<text transform="translate(39.25,38.76) scale(0.715,1)" font-size="23.80" text-anchor="end">45</text>
<text transform="translate(39.25,93.36) scale(0.715,1)" font-size="23.80" text-anchor="end">40</text>
<text transform="translate(39.25,147.96) scale(0.715,1)" font-size="23.80" text-anchor="end">35</text>
<text transform="translate(39.25,202.56) scale(0.715,1)" font-size="23.80" text-anchor="end">30</text>
<text transform="translate(181.05,261.30) scale(0.762,1)" font-size="25.20" text-anchor="middle">Time (days)</text>
<text transform="translate(179.85,18.60) scale(0.762,1)" font-size="25.20" text-anchor="middle">(a)</text>
<text transform="translate(5.30,102.70) scale(0.762,1)" font-size="26.40" text-anchor="middle">T</text>
</g>
<g id="panel-b">
<clipPath id="cpb"><rect x="398.70" y="28.00" width="268.50" height="160.55"/></clipPath>
<g clip-path="url(#cpb)" fill="none" stroke-width="1.05" stroke-linejoin="round">
<path d="M399.20,122.50 L399.35,121.72 L399.50,121.00 L399.65,120.38 L399.80,119.90 L399.95,119.60 L400.10,119.50 L400.36,119.65 L400.61,120.09 L400.87,120.83 L401.13,121.83 L401.39,123.10 L401.64,124.60 L401.90,126.32 L402.16,128.22 L402.41,130.27 L402.67,132.44 L402.93,134.69 L403.19,136.99 L403.44,139.30 L403.70,141.58 L403.96,143.81 L404.21,145.94 L404.47,147.95 L404.73,149.82 L404.99,151.51 L405.24,153.01 L405.50,154.32 L405.76,155.41 L406.01,156.29 L406.27,156.96 L406.53,157.43 L406.79,157.73 L407.04,157.87 L407.30,157.90 L407.55,157.89 L407.80,157.84 L408.05,157.73 L408.30,157.55 L408.56,157.30 L408.81,156.96 L409.06,156.53 L409.31,156.00 L409.56,155.37 L409.81,154.64 L410.06,153.82 L410.31,152.89 L410.57,151.86 L410.82,150.74 L411.07,149.54 L411.32,148.24 L411.57,146.87 L411.82,145.43 L412.07,143.93 L412.32,142.37 L412.57,140.76 L412.83,139.12 L413.08,137.46 L413.33,135.78 L413.58,134.10 L413.83,132.43 L414.08,130.78 L414.33,129.16 L414.58,127.58 L414.83,126.05 L415.09,124.59 L415.34,123.20 L415.59,121.90 L415.84,120.69 L416.09,119.58 L416.34,118.59 L416.59,117.71 L416.84,116.95 L417.10,116.33 L417.35,115.84 L417.60,115.48 L417.85,115.27 L418.10,115.20 L418.35,115.29 L418.61,115.56 L418.86,116.01 L419.11,116.64 L419.36,117.43 L419.62,118.38 L419.87,119.48 L420.12,120.73 L420.37,122.10 L420.63,123.60 L420.88,125.19 L421.13,126.88 L421.38,128.64 L421.64,130.46 L421.89,132.32 L422.14,134.20 L422.39,136.10 L422.65,137.99 L422.90,139.85 L423.15,141.68 L423.41,143.45 L423.66,145.16 L423.91,146.79 L424.16,148.33 L424.42,149.76 L424.67,151.09 L424.92,152.30 L425.17,153.39 L425.43,154.35 L425.68,155.19 L425.93,155.89 L426.18,156.47 L426.44,156.93 L426.69,157.28 L426.94,157.52 L427.19,157.66 L427.45,157.73 L427.70,157.75 L427.95,157.73 L428.21,157.66 L428.46,157.52 L428.71,157.28 L428.96,156.94 L429.22,156.48 L429.47,155.91 L429.72,155.21 L429.97,154.38 L430.23,153.43 L430.48,152.36 L430.73,151.16 L430.98,149.85 L431.24,148.43 L431.49,146.91 L431.74,145.30 L431.99,143.62 L432.25,141.87 L432.50,140.06 L432.75,138.22 L433.01,136.36 L433.26,134.49 L433.51,132.64 L433.76,130.80 L434.02,129.01 L434.27,127.28 L434.52,125.61 L434.77,124.04 L435.03,122.57 L435.28,121.21 L435.53,119.99 L435.78,118.90 L436.04,117.96 L436.29,117.18 L436.54,116.57 L436.79,116.12 L437.05,115.86 L437.30,115.77 L437.56,115.87 L437.81,116.16 L438.07,116.65 L438.32,117.33 L438.58,118.20 L438.83,119.23 L439.09,120.43 L439.34,121.78 L439.60,123.27 L439.86,124.87 L440.11,126.59 L440.37,128.38 L440.62,130.25 L440.88,132.17 L441.13,134.13 L441.39,136.09 L441.64,138.05 L441.90,139.99 L442.16,141.88 L442.41,143.72 L442.67,145.49 L442.92,147.16 L443.18,148.73 L443.43,150.19 L443.69,151.53 L443.94,152.74 L444.20,153.81 L444.46,154.74 L444.71,155.53 L444.97,156.19 L445.22,156.70 L445.48,157.09 L445.73,157.36 L445.99,157.53 L446.24,157.61 L446.50,157.62 L446.75,157.61 L447.00,157.56 L447.25,157.44 L447.50,157.24 L447.76,156.96 L448.01,156.58 L448.26,156.11 L448.51,155.53 L448.76,154.84 L449.01,154.05 L449.26,153.15 L449.51,152.15 L449.77,151.04 L450.02,149.84 L450.27,148.55 L450.52,147.17 L450.77,145.71 L451.02,144.19 L451.27,142.60 L451.52,140.97 L451.78,139.31 L452.03,137.61 L452.28,135.90 L452.53,134.20 L452.78,132.50 L453.03,130.83 L453.28,129.19 L453.53,127.60 L453.79,126.08 L454.04,124.63 L454.29,123.26 L454.54,121.99 L454.79,120.82 L455.04,119.77 L455.29,118.84 L455.54,118.04 L455.80,117.37 L456.05,116.85 L456.30,116.48 L456.55,116.25 L456.80,116.17 L457.06,116.27 L457.31,116.56 L457.57,117.05 L457.82,117.72 L458.08,118.57 L458.33,119.59 L458.59,120.78 L458.84,122.11 L459.10,123.57 L459.36,125.16 L459.61,126.85 L459.87,128.63 L460.12,130.47 L460.38,132.37 L460.63,134.29 L460.89,136.24 L461.14,138.17 L461.40,140.08 L461.66,141.96 L461.91,143.77 L462.17,145.52 L462.42,147.17 L462.68,148.73 L462.93,150.17 L463.19,151.49 L463.44,152.69 L463.70,153.75 L463.96,154.67 L464.21,155.46 L464.47,156.10 L464.72,156.62 L464.98,157.00 L465.23,157.27 L465.49,157.44 L465.74,157.51 L466.00,157.53 L466.25,157.52 L466.50,157.46 L466.75,157.33 L467.00,157.12 L467.25,156.83 L467.50,156.43 L467.75,155.93 L468.00,155.32 L468.25,154.60 L468.50,153.77 L468.75,152.83 L469.00,151.78 L469.25,150.62 L469.50,149.37 L469.75,148.02 L470.00,146.59 L470.25,145.08 L470.50,143.50 L470.75,141.87 L471.00,140.20 L471.25,138.49 L471.50,136.76 L471.75,135.02 L472.00,133.30 L472.25,131.59 L472.50,129.91 L472.75,128.28 L473.00,126.72 L473.25,125.22 L473.50,123.81 L473.75,122.49 L474.00,121.29 L474.25,120.19 L474.50,119.23 L474.75,118.40 L475.00,117.71 L475.25,117.17 L475.50,116.78 L475.75,116.54 L476.00,116.46 L476.25,116.56 L476.51,116.83 L476.76,117.29 L477.02,117.92 L477.27,118.72 L477.52,119.68 L477.78,120.79 L478.03,122.04 L478.29,123.43 L478.54,124.93 L478.79,126.53 L479.05,128.22 L479.30,129.98 L479.56,131.79 L479.81,133.63 L480.06,135.50 L480.32,137.37 L480.57,139.23 L480.83,141.06 L481.08,142.84 L481.34,144.56 L481.59,146.21 L481.84,147.77 L482.10,149.23 L482.35,150.59 L482.61,151.83 L482.86,152.95 L483.11,153.94 L483.37,154.80 L483.62,155.53 L483.88,156.13 L484.13,156.61 L484.38,156.97 L484.64,157.22 L484.89,157.37 L485.15,157.44 L485.40,157.46 L485.65,157.44 L485.90,157.38 L486.15,157.25 L486.41,157.03 L486.66,156.71 L486.91,156.29 L487.16,155.76 L487.41,155.12 L487.66,154.36 L487.91,153.48 L488.16,152.49 L488.42,151.39 L488.67,150.18 L488.92,148.87 L489.17,147.46 L489.42,145.97 L489.67,144.40 L489.92,142.77 L490.17,141.09 L490.43,139.36 L490.68,137.61 L490.93,135.85 L491.18,134.08 L491.43,132.33 L491.68,130.61 L491.93,128.94 L492.18,127.32 L492.44,125.77 L492.69,124.31 L492.94,122.95 L493.19,121.69 L493.44,120.56 L493.69,119.56 L493.94,118.69 L494.19,117.97 L494.45,117.41 L494.70,117.00 L494.95,116.75 L495.20,116.67 L495.45,116.76 L495.71,117.04 L495.96,117.49 L496.22,118.11 L496.47,118.91 L496.72,119.86 L496.98,120.97 L497.23,122.21 L497.49,123.59 L497.74,125.08 L497.99,126.67 L498.25,128.34 L498.50,130.09 L498.76,131.89 L499.01,133.72 L499.26,135.58 L499.52,137.44 L499.77,139.28 L500.03,141.10 L500.28,142.87 L500.54,144.58 L500.79,146.21 L501.04,147.77 L501.30,149.22 L501.55,150.57 L501.81,151.80 L502.06,152.91 L502.31,153.90 L502.57,154.75 L502.82,155.48 L503.08,156.08 L503.33,156.55 L503.58,156.91 L503.84,157.16 L504.09,157.31 L504.35,157.38 L504.60,157.40 L504.85,157.39 L505.10,157.33 L505.35,157.20 L505.60,157.00 L505.85,156.70 L506.10,156.31 L506.35,155.81 L506.60,155.21 L506.85,154.49 L507.10,153.67 L507.35,152.74 L507.60,151.70 L507.85,150.56 L508.10,149.31 L508.35,147.98 L508.60,146.57 L508.85,145.07 L509.10,143.52 L509.35,141.91 L509.60,140.25 L509.85,138.56 L510.10,136.86 L510.35,135.14 L510.60,133.44 L510.85,131.75 L511.10,130.10 L511.35,128.49 L511.60,126.94 L511.85,125.46 L512.10,124.07 L512.35,122.77 L512.60,121.58 L512.85,120.50 L513.10,119.55 L513.35,118.73 L513.60,118.05 L513.85,117.52 L514.10,117.13 L514.35,116.90 L514.60,116.82 L514.86,116.92 L515.11,117.20 L515.37,117.68 L515.62,118.34 L515.88,119.17 L516.13,120.17 L516.39,121.32 L516.64,122.63 L516.90,124.06 L517.16,125.61 L517.41,127.26 L517.67,129.00 L517.92,130.81 L518.18,132.66 L518.43,134.55 L518.69,136.45 L518.94,138.35 L519.20,140.22 L519.46,142.06 L519.71,143.84 L519.97,145.55 L520.22,147.17 L520.48,148.70 L520.73,150.11 L520.99,151.41 L521.24,152.59 L521.50,153.63 L521.76,154.54 L522.01,155.31 L522.27,155.95 L522.52,156.45 L522.78,156.83 L523.03,157.10 L523.29,157.26 L523.54,157.34 L523.80,157.36 L524.05,157.34 L524.30,157.28 L524.56,157.16 L524.81,156.95 L525.06,156.66 L525.31,156.27 L525.57,155.77 L525.82,155.17 L526.07,154.46 L526.32,153.64 L526.58,152.71 L526.83,151.67 L527.08,150.53 L527.33,149.29 L527.59,147.97 L527.84,146.56 L528.09,145.07 L528.34,143.52 L528.60,141.91 L528.85,140.26 L529.10,138.58 L529.36,136.88 L529.61,135.18 L529.86,133.48 L530.11,131.80 L530.37,130.15 L530.62,128.55 L530.87,127.00 L531.12,125.53 L531.38,124.15 L531.63,122.85 L531.88,121.67 L532.13,120.59 L532.38,119.65 L532.64,118.83 L532.89,118.15 L533.14,117.62 L533.39,117.24 L533.65,117.01 L533.90,116.93 L534.15,117.02 L534.41,117.29 L534.66,117.74 L534.92,118.36 L535.17,119.14 L535.42,120.09 L535.68,121.18 L535.93,122.42 L536.19,123.78 L536.44,125.26 L536.69,126.83 L536.95,128.49 L537.20,130.22 L537.46,132.01 L537.71,133.83 L537.96,135.67 L538.22,137.51 L538.47,139.34 L538.73,141.14 L538.98,142.89 L539.24,144.59 L539.49,146.21 L539.74,147.75 L540.00,149.20 L540.25,150.53 L540.51,151.76 L540.76,152.86 L541.01,153.84 L541.27,154.69 L541.52,155.41 L541.78,156.00 L542.03,156.48 L542.28,156.83 L542.54,157.08 L542.79,157.23 L543.05,157.31 L543.30,157.32 L543.55,157.31 L543.80,157.24 L544.05,157.11 L544.31,156.89 L544.56,156.58 L544.81,156.16 L545.06,155.64 L545.31,155.00 L545.56,154.25 L545.81,153.38 L546.06,152.40 L546.32,151.31 L546.57,150.11 L546.82,148.81 L547.07,147.42 L547.32,145.95 L547.57,144.40 L547.82,142.78 L548.07,141.12 L548.33,139.41 L548.58,137.68 L548.83,135.94 L549.08,134.20 L549.33,132.47 L549.58,130.77 L549.83,129.11 L550.08,127.52 L550.34,125.99 L550.59,124.55 L550.84,123.20 L551.09,121.96 L551.34,120.84 L551.59,119.85 L551.84,119.00 L552.09,118.29 L552.35,117.73 L552.60,117.33 L552.85,117.09 L553.10,117.01 L553.36,117.10 L553.61,117.39 L553.87,117.86 L554.12,118.51 L554.38,119.34 L554.63,120.33 L554.89,121.48 L555.14,122.77 L555.40,124.20 L555.66,125.74 L555.91,127.38 L556.17,129.11 L556.42,130.90 L556.68,132.74 L556.93,134.62 L557.19,136.51 L557.44,138.39 L557.70,140.25 L557.96,142.08 L558.21,143.85 L558.47,145.55 L558.72,147.16 L558.98,148.68 L559.23,150.09 L559.49,151.38 L559.74,152.55 L560.00,153.58 L560.26,154.49 L560.51,155.26 L560.77,155.89 L561.02,156.39 L561.28,156.77 L561.53,157.04 L561.79,157.20 L562.04,157.28 L562.30,157.29 L562.55,157.28 L562.81,157.22 L563.06,157.10 L563.32,156.89 L563.57,156.60 L563.83,156.21 L564.08,155.71 L564.34,155.11 L564.59,154.41 L564.85,153.59 L565.11,152.66 L565.36,151.63 L565.62,150.50 L565.87,149.26 L566.12,147.94 L566.38,146.54 L566.63,145.06 L566.89,143.52 L567.14,141.92 L567.40,140.28 L567.65,138.60 L567.91,136.91 L568.16,135.21 L568.42,133.52 L568.67,131.85 L568.93,130.21 L569.18,128.62 L569.44,127.08 L569.69,125.62 L569.95,124.24 L570.21,122.95 L570.46,121.77 L570.72,120.71 L570.97,119.76 L571.23,118.95 L571.48,118.28 L571.74,117.75 L571.99,117.37 L572.25,117.14 L572.50,117.06 L572.76,117.16 L573.01,117.44 L573.27,117.91 L573.52,118.56 L573.78,119.39 L574.03,120.38 L574.29,121.52 L574.54,122.81 L574.80,124.24 L575.06,125.77 L575.31,127.41 L575.57,129.14 L575.82,130.93 L576.08,132.77 L576.33,134.64 L576.59,136.52 L576.84,138.40 L577.10,140.26 L577.36,142.08 L577.61,143.85 L577.87,145.54 L578.12,147.16 L578.38,148.67 L578.63,150.08 L578.89,151.37 L579.14,152.53 L579.40,153.57 L579.66,154.47 L579.91,155.24 L580.17,155.87 L580.42,156.37 L580.68,156.75 L580.93,157.02 L581.19,157.18 L581.44,157.26 L581.70,157.27 L581.95,157.26 L582.20,157.20 L582.45,157.08 L582.70,156.87 L582.95,156.58 L583.20,156.19 L583.45,155.70 L583.70,155.10 L583.95,154.39 L584.20,153.57 L584.45,152.65 L584.70,151.62 L584.95,150.48 L585.20,149.25 L585.45,147.93 L585.70,146.53 L585.95,145.05 L586.20,143.51 L586.45,141.92 L586.70,140.28 L586.95,138.61 L587.20,136.92 L587.45,135.22 L587.70,133.53 L587.95,131.86 L588.20,130.23 L588.45,128.64 L588.70,127.11 L588.95,125.65 L589.20,124.27 L589.45,122.98 L589.70,121.81 L589.95,120.74 L590.20,119.80 L590.45,118.99 L590.70,118.32 L590.95,117.79 L591.20,117.41 L591.45,117.18 L591.70,117.10 L591.96,117.20 L592.21,117.48 L592.47,117.95 L592.72,118.60 L592.98,119.42 L593.23,120.41 L593.49,121.56 L593.74,122.85 L594.00,124.26 L594.26,125.80 L594.51,127.44 L594.77,129.16 L595.02,130.94 L595.28,132.78 L595.53,134.65 L595.79,136.53 L596.04,138.41 L596.30,140.27 L596.56,142.09 L596.81,143.85 L597.07,145.54 L597.32,147.15 L597.58,148.66 L597.83,150.07 L598.09,151.36 L598.34,152.52 L598.60,153.56 L598.86,154.46 L599.11,155.22 L599.37,155.86 L599.62,156.36 L599.88,156.74 L600.13,157.00 L600.39,157.16 L600.64,157.24 L600.90,157.26 L601.15,157.24 L601.40,157.18 L601.65,157.06 L601.90,156.86 L602.15,156.56 L602.40,156.17 L602.65,155.68 L602.90,155.08 L603.15,154.37 L603.40,153.56 L603.65,152.63 L603.90,151.60 L604.15,150.47 L604.40,149.24 L604.65,147.93 L604.90,146.52 L605.15,145.05 L605.40,143.51 L605.65,141.92 L605.90,140.28 L606.15,138.61 L606.40,136.92 L606.65,135.23 L606.90,133.54 L607.15,131.87 L607.40,130.24 L607.65,128.65 L607.90,127.12 L608.15,125.66 L608.40,124.29 L608.65,123.01 L608.90,121.83 L609.15,120.76 L609.40,119.82 L609.65,119.02 L609.90,118.34 L610.15,117.82 L610.40,117.43 L610.65,117.21 L610.90,117.13 L611.16,117.22 L611.41,117.51 L611.67,117.97 L611.92,118.62 L612.18,119.45 L612.43,120.44 L612.69,121.58 L612.94,122.87 L613.20,124.28 L613.46,125.82 L613.71,127.45 L613.97,129.17 L614.22,130.96 L614.48,132.79 L614.73,134.66 L614.99,136.54 L615.24,138.42 L615.50,140.27 L615.76,142.09 L616.01,143.85 L616.27,145.54 L616.52,147.15 L616.78,148.66 L617.03,150.06 L617.29,151.35 L617.54,152.51 L617.80,153.55 L618.06,154.45 L618.31,155.21 L618.57,155.84 L618.82,156.35 L619.08,156.72 L619.33,156.99 L619.59,157.15 L619.84,157.23 L620.10,157.24 L620.36,157.23 L620.61,157.17 L620.87,157.05 L621.12,156.84 L621.38,156.55 L621.63,156.16 L621.88,155.67 L622.14,155.07 L622.39,154.36 L622.65,153.55 L622.90,152.62 L623.16,151.59 L623.41,150.46 L623.67,149.24 L623.92,147.92 L624.18,146.52 L624.43,145.05 L624.69,143.51 L624.94,141.91 L625.20,140.28 L625.46,138.61 L625.71,136.93 L625.97,135.23 L626.22,133.55 L626.48,131.88 L626.73,130.25 L626.99,128.66 L627.24,127.13 L627.50,125.68 L627.75,124.30 L628.00,123.02 L628.26,121.84 L628.51,120.78 L628.77,119.84 L629.02,119.03 L629.28,118.36 L629.53,117.84 L629.79,117.45 L630.04,117.23 L630.30,117.15 L630.56,117.24 L630.81,117.53 L631.07,117.99 L631.32,118.64 L631.58,119.47 L631.83,120.45 L632.09,121.60 L632.34,122.88 L632.60,124.30 L632.86,125.83 L633.11,127.46 L633.37,129.18 L633.62,130.97 L633.88,132.80 L634.13,134.66 L634.39,136.54 L634.64,138.42 L634.90,140.27 L635.16,142.09 L635.41,143.85 L635.67,145.54 L635.92,147.14 L636.18,148.65 L636.43,150.06 L636.69,151.34 L636.94,152.51 L637.20,153.54 L637.46,154.44 L637.71,155.20 L637.97,155.83 L638.22,156.34 L638.48,156.71 L638.73,156.98 L638.99,157.14 L639.24,157.22 L639.50,157.23 L639.75,157.22 L640.00,157.16 L640.25,157.04 L640.50,156.83 L640.75,156.54 L641.00,156.15 L641.25,155.66 L641.50,155.06 L641.75,154.35 L642.00,153.54 L642.25,152.62 L642.50,151.59 L642.75,150.46 L643.00,149.23 L643.25,147.91 L643.50,146.51 L643.75,145.04 L644.00,143.50 L644.25,141.91 L644.50,140.28 L644.75,138.61 L645.00,136.93 L645.25,135.24 L645.50,133.55 L645.75,131.89 L646.00,130.25 L646.25,128.67 L646.50,127.14 L646.75,125.68 L647.00,124.31 L647.25,123.03 L647.50,121.85 L647.75,120.79 L648.00,119.85 L648.25,119.05 L648.50,118.38 L648.75,117.85 L649.00,117.47 L649.25,117.24 L649.50,117.16 L649.76,117.26 L650.01,117.54 L650.27,118.01 L650.52,118.66 L650.78,119.48 L651.03,120.47 L651.29,121.61 L651.54,122.89 L651.80,124.31 L652.06,125.84 L652.31,127.47 L652.57,129.19 L652.82,130.97 L653.08,132.80 L653.33,134.67 L653.59,136.55 L653.84,138.42 L654.10,140.27 L654.36,142.09 L654.61,143.85 L654.87,145.53 L655.12,147.14 L655.38,148.65 L655.63,150.05 L655.89,151.34 L656.14,152.50 L656.40,153.53 L656.66,154.43 L656.91,155.20 L657.17,155.83 L657.42,156.33 L657.68,156.71 L657.93,156.97 L658.19,157.13 L658.44,157.21 L658.70,157.23 L658.95,157.22 L659.21,157.16 L659.46,157.05 L659.72,156.87 L659.97,156.61 L660.23,156.26 L660.48,155.83 L660.74,155.29 L660.99,154.66 L661.25,153.93 L661.50,153.11 L661.76,152.18 L662.01,151.16 L662.27,150.05 L662.52,148.86 L662.78,147.58 L663.03,146.24 L663.29,144.82 L663.54,143.35 L663.80,141.83 L664.05,140.28 L664.30,138.69 L664.56,137.09 L664.81,135.48 L665.07,133.87 L665.32,132.28 L665.58,130.72 L665.83,129.20 L666.09,127.72 L666.34,126.31 L666.60,124.96 L666.85,123.70 L667.11,122.52 L667.36,121.44 L667.62,120.48 L667.87,119.62 L668.13,118.88" stroke="#0072BD"/>
<path d="M399.20,123.50 L399.45,125.84 L399.70,128.17 L399.96,130.49 L400.21,132.79 L400.46,135.06 L400.71,137.29 L400.96,139.49 L401.21,141.64 L401.47,143.74 L401.72,145.77 L401.97,147.74 L402.22,149.64 L402.47,151.47 L402.72,153.21 L402.98,154.86 L403.23,156.43 L403.48,157.89 L403.73,159.26 L403.98,160.52 L404.23,161.67 L404.49,162.71 L404.74,163.63 L404.99,164.44 L405.24,165.13 L405.49,165.69 L405.74,166.13 L406.00,166.45 L406.25,166.64 L406.50,166.70 L406.75,166.70 L407.01,166.69 L407.26,166.66 L407.51,166.62 L407.76,166.55 L408.02,166.45 L408.27,166.31 L408.52,166.14 L408.78,165.92 L409.03,165.66 L409.28,165.34 L409.54,164.98 L409.79,164.56 L410.04,164.08 L410.29,163.55 L410.55,162.96 L410.80,162.30 L411.05,161.58 L411.31,160.80 L411.56,159.95 L411.81,159.05 L412.06,158.08 L412.32,157.04 L412.57,155.95 L412.82,154.80 L413.08,153.59 L413.33,152.32 L413.58,151.01 L413.84,149.64 L414.09,148.22 L414.34,146.76 L414.59,145.26 L414.85,143.72 L415.10,142.15 L415.35,140.54 L415.61,138.92 L415.86,137.27 L416.11,135.60 L416.36,133.93 L416.62,132.25 L416.87,130.57 L417.12,128.89 L417.38,127.22 L417.63,125.56 L417.88,123.92 L418.14,122.31 L418.39,120.73 L418.64,119.18 L418.89,117.67 L419.15,116.20 L419.40,114.78 L419.65,113.42 L419.91,112.12 L420.16,110.87 L420.41,109.70 L420.66,108.59 L420.92,107.56 L421.17,106.61 L421.42,105.73 L421.68,104.94 L421.93,104.24 L422.18,103.62 L422.44,103.10 L422.69,102.67 L422.94,102.33 L423.19,102.09 L423.45,101.95 L423.70,101.90 L423.95,101.98 L424.21,102.20 L424.46,102.57 L424.72,103.09 L424.97,103.76 L425.22,104.56 L425.48,105.50 L425.73,106.57 L425.98,107.76 L426.24,109.07 L426.49,110.49 L426.75,112.01 L427.00,113.62 L427.25,115.32 L427.51,117.10 L427.76,118.94 L428.02,120.83 L428.27,122.77 L428.52,124.74 L428.78,126.74 L429.03,128.75 L429.28,130.77 L429.54,132.78 L429.79,134.77 L430.05,136.74 L430.30,138.67 L430.55,140.56 L430.81,142.40 L431.06,144.18 L431.32,145.89 L431.57,147.52 L431.82,149.08 L432.08,150.55 L432.33,151.93 L432.58,153.22 L432.84,154.41 L433.09,155.50 L433.35,156.50 L433.60,157.39 L433.85,158.19 L434.11,158.89 L434.36,159.50 L434.62,160.02 L434.87,160.45 L435.12,160.80 L435.38,161.07 L435.63,161.28 L435.88,161.43 L436.14,161.52 L436.39,161.57 L436.65,161.60 L436.90,161.60 L437.15,161.60 L437.40,161.59 L437.65,161.56 L437.91,161.51 L438.16,161.44 L438.41,161.34 L438.66,161.21 L438.91,161.04 L439.16,160.84 L439.42,160.59 L439.67,160.31 L439.92,159.99 L440.17,159.62 L440.42,159.20 L440.67,158.74 L440.92,158.23 L441.18,157.67 L441.43,157.07 L441.68,156.42 L441.93,155.72 L442.18,154.98 L442.43,154.19 L442.68,153.35 L442.94,152.47 L443.19,151.55 L443.44,150.60 L443.69,149.60 L443.94,148.57 L444.19,147.50 L444.45,146.41 L444.70,145.29 L444.95,144.14 L445.20,142.97 L445.45,141.79 L445.70,140.58 L445.95,139.37 L446.21,138.15 L446.46,136.92 L446.71,135.69 L446.96,134.47 L447.21,133.25 L447.46,132.04 L447.72,130.85 L447.97,129.67 L448.22,128.52 L448.47,127.39 L448.72,126.28 L448.97,125.22 L449.22,124.18 L449.48,123.19 L449.73,122.24 L449.98,121.33 L450.23,120.48 L450.48,119.67 L450.73,118.92 L450.98,118.23 L451.24,117.59 L451.49,117.01 L451.74,116.50 L451.99,116.06 L452.24,115.67 L452.49,115.36 L452.75,115.12 L453.00,114.94 L453.25,114.84 L453.50,114.80 L453.75,114.85 L454.00,115.00 L454.26,115.26 L454.51,115.61 L454.76,116.06 L455.01,116.61 L455.26,117.25 L455.52,117.98 L455.77,118.79 L456.02,119.69 L456.27,120.66 L456.52,121.70 L456.77,122.81 L457.03,123.97 L457.28,125.20 L457.53,126.46 L457.78,127.77 L458.03,129.12 L458.29,130.49 L458.54,131.88 L458.79,133.29 L459.04,134.70 L459.29,136.12 L459.55,137.53 L459.80,138.92 L460.05,140.30 L460.30,141.64 L460.55,142.96 L460.81,144.24 L461.06,145.48 L461.31,146.67 L461.56,147.81 L461.81,148.90 L462.07,149.92 L462.32,150.88 L462.57,151.78 L462.82,152.61 L463.07,153.37 L463.33,154.06 L463.58,154.69 L463.83,155.24 L464.08,155.72 L464.33,156.14 L464.58,156.50 L464.84,156.79 L465.09,157.02 L465.34,157.20 L465.59,157.33 L465.84,157.42 L466.10,157.47 L466.35,157.50 L466.60,157.50 L466.85,157.50 L467.10,157.48 L467.35,157.46 L467.60,157.41 L467.85,157.34 L468.10,157.25 L468.36,157.13 L468.61,156.98 L468.86,156.80 L469.11,156.59 L469.36,156.34 L469.61,156.06 L469.86,155.75 L470.11,155.40 L470.36,155.01 L470.61,154.59 L470.86,154.13 L471.11,153.63 L471.36,153.10 L471.62,152.53 L471.87,151.93 L472.12,151.29 L472.37,150.63 L472.62,149.93 L472.87,149.20 L473.12,148.44 L473.37,147.66 L473.62,146.85 L473.87,146.03 L474.12,145.18 L474.37,144.31 L474.62,143.42 L474.88,142.53 L475.13,141.62 L475.38,140.71 L475.63,139.79 L475.88,138.86 L476.13,137.94 L476.38,137.02 L476.63,136.10 L476.88,135.19 L477.13,134.30 L477.38,133.42 L477.63,132.55 L477.88,131.70 L478.14,130.88 L478.39,130.08 L478.64,129.31 L478.89,128.56 L479.14,127.85 L479.39,127.18 L479.64,126.54 L479.89,125.93 L480.14,125.37 L480.39,124.85 L480.64,124.38 L480.89,123.95 L481.14,123.57 L481.40,123.24 L481.65,122.95 L481.90,122.72 L482.15,122.54 L482.40,122.40 L482.65,122.33 L482.90,122.30 L483.15,122.33 L483.41,122.43 L483.66,122.59 L483.91,122.82 L484.16,123.11 L484.42,123.46 L484.67,123.87 L484.92,124.34 L485.17,124.86 L485.43,125.44 L485.68,126.07 L485.93,126.74 L486.19,127.47 L486.44,128.23 L486.69,129.03 L486.94,129.87 L487.20,130.74 L487.45,131.64 L487.70,132.56 L487.95,133.50 L488.21,134.45 L488.46,135.42 L488.71,136.40 L488.97,137.37 L489.22,138.35 L489.47,139.33 L489.72,140.29 L489.98,141.24 L490.23,142.18 L490.48,143.10 L490.73,143.99 L490.99,144.86 L491.24,145.70 L491.49,146.50 L491.75,147.27 L492.00,148.01 L492.25,148.70 L492.50,149.36 L492.76,149.97 L493.01,150.54 L493.26,151.06 L493.51,151.54 L493.77,151.97 L494.02,152.36 L494.27,152.70 L494.53,153.00 L494.78,153.25 L495.03,153.46 L495.28,153.63 L495.54,153.77 L495.79,153.87 L496.04,153.94 L496.29,153.98 L496.55,154.00 L496.80,154.00 L497.05,154.00 L497.31,153.98 L497.56,153.96 L497.82,153.91 L498.07,153.84 L498.32,153.76 L498.58,153.64 L498.83,153.51 L499.09,153.34 L499.34,153.15 L499.59,152.93 L499.85,152.68 L500.10,152.41 L500.36,152.10 L500.61,151.76 L500.86,151.40 L501.12,151.00 L501.37,150.58 L501.63,150.12 L501.88,149.64 L502.13,149.14 L502.39,148.61 L502.64,148.05 L502.90,147.47 L503.15,146.87 L503.40,146.25 L503.66,145.61 L503.91,144.95 L504.17,144.28 L504.42,143.59 L504.67,142.89 L504.93,142.19 L505.18,141.47 L505.43,140.75 L505.69,140.03 L505.94,139.31 L506.20,138.59 L506.45,137.87 L506.70,137.16 L506.96,136.46 L507.21,135.76 L507.47,135.08 L507.72,134.42 L507.97,133.77 L508.23,133.14 L508.48,132.53 L508.74,131.94 L508.99,131.38 L509.24,130.85 L509.50,130.34 L509.75,129.87 L510.01,129.43 L510.26,129.02 L510.51,128.64 L510.77,128.30 L511.02,128.00 L511.28,127.74 L511.53,127.52 L511.78,127.33 L512.04,127.19 L512.29,127.08 L512.55,127.02 L512.80,127.00 L513.05,127.02 L513.30,127.09 L513.56,127.21 L513.81,127.37 L514.06,127.58 L514.31,127.83 L514.56,128.13 L514.81,128.47 L515.07,128.85 L515.32,129.27 L515.57,129.72 L515.82,130.21 L516.07,130.74 L516.32,131.29 L516.58,131.88 L516.83,132.49 L517.08,133.13 L517.33,133.79 L517.58,134.46 L517.84,135.16 L518.09,135.86 L518.34,136.58 L518.59,137.30 L518.84,138.03 L519.09,138.76 L519.35,139.50 L519.60,140.22 L519.85,140.94 L520.10,141.66 L520.35,142.36 L520.61,143.04 L520.86,143.71 L521.11,144.37 L521.36,145.00 L521.61,145.60 L521.86,146.19 L522.12,146.74 L522.37,147.27 L522.62,147.77 L522.87,148.23 L523.12,148.67 L523.38,149.07 L523.63,149.44 L523.88,149.77 L524.13,150.08 L524.38,150.34 L524.63,150.58 L524.89,150.78 L525.14,150.95 L525.39,151.09 L525.64,151.20 L525.89,151.28 L526.14,151.34 L526.40,151.38 L526.65,151.40 L526.90,151.40 L527.15,151.40 L527.40,151.38 L527.65,151.36 L527.90,151.31 L528.15,151.25 L528.40,151.17 L528.66,151.07 L528.91,150.94 L529.16,150.79 L529.41,150.62 L529.66,150.43 L529.91,150.21 L530.16,149.96 L530.41,149.70 L530.66,149.40 L530.91,149.09 L531.16,148.75 L531.41,148.39 L531.67,148.00 L531.92,147.60 L532.17,147.17 L532.42,146.72 L532.67,146.26 L532.92,145.78 L533.17,145.28 L533.42,144.77 L533.67,144.24 L533.92,143.70 L534.17,143.16 L534.42,142.60 L534.68,142.04 L534.93,141.47 L535.18,140.90 L535.43,140.33 L535.68,139.76 L535.93,139.19 L536.18,138.62 L536.43,138.06 L536.68,137.51 L536.93,136.97 L537.18,136.44 L537.43,135.92 L537.69,135.42 L537.94,134.93 L538.19,134.46 L538.44,134.01 L538.69,133.59 L538.94,133.18 L539.19,132.80 L539.44,132.45 L539.69,132.12 L539.94,131.82 L540.19,131.55 L540.44,131.31 L540.70,131.09 L540.95,130.91 L541.20,130.77 L541.45,130.65 L541.70,130.57 L541.95,130.52 L542.20,130.50 L542.45,130.52 L542.70,130.57 L542.95,130.65 L543.20,130.77 L543.45,130.93 L543.71,131.11 L543.96,131.33 L544.21,131.58 L544.46,131.86 L544.71,132.16 L544.96,132.50 L545.21,132.86 L545.46,133.25 L545.71,133.66 L545.96,134.09 L546.21,134.55 L546.46,135.02 L546.72,135.51 L546.97,136.01 L547.22,136.53 L547.47,137.06 L547.72,137.60 L547.97,138.14 L548.22,138.69 L548.47,139.25 L548.72,139.80 L548.97,140.36 L549.22,140.91 L549.48,141.45 L549.73,141.99 L549.98,142.52 L550.23,143.04 L550.48,143.55 L550.73,144.05 L550.98,144.53 L551.23,144.99 L551.48,145.43 L551.73,145.86 L551.98,146.26 L552.24,146.64 L552.49,147.00 L552.74,147.34 L552.99,147.65 L553.24,147.94 L553.49,148.20 L553.74,148.43 L553.99,148.65 L554.24,148.83 L554.49,148.99 L554.74,149.13 L554.99,149.24 L555.25,149.33 L555.50,149.40 L555.75,149.45 L556.00,149.48 L556.25,149.50 L556.50,149.50 L556.75,149.50 L557.00,149.48 L557.25,149.46 L557.50,149.42 L557.75,149.36 L558.00,149.29 L558.25,149.19 L558.50,149.08 L558.75,148.95 L559.00,148.80 L559.25,148.63 L559.50,148.44 L559.75,148.23 L560.00,148.00 L560.25,147.74 L560.50,147.47 L560.75,147.18 L561.00,146.87 L561.25,146.55 L561.50,146.20 L561.75,145.84 L562.00,145.46 L562.25,145.07 L562.50,144.67 L562.75,144.25 L563.00,143.83 L563.25,143.39 L563.50,142.94 L563.75,142.49 L564.00,142.03 L564.25,141.57 L564.50,141.11 L564.75,140.64 L565.00,140.17 L565.25,139.71 L565.50,139.25 L565.75,138.79 L566.00,138.34 L566.25,137.89 L566.50,137.46 L566.75,137.04 L567.00,136.62 L567.25,136.23 L567.50,135.84 L567.75,135.48 L568.00,135.13 L568.25,134.80 L568.50,134.49 L568.75,134.19 L569.00,133.93 L569.25,133.68 L569.50,133.46 L569.75,133.26 L570.00,133.09 L570.25,132.94 L570.50,132.82 L570.75,132.72 L571.00,132.65 L571.25,132.61 L571.50,132.60 L571.75,132.61 L572.00,132.66 L572.25,132.73 L572.50,132.82 L572.75,132.95 L573.01,133.10 L573.26,133.27 L573.51,133.48 L573.76,133.70 L574.01,133.95 L574.26,134.23 L574.51,134.52 L574.76,134.84 L575.01,135.17 L575.26,135.52 L575.51,135.89 L575.76,136.28 L576.02,136.68 L576.27,137.09 L576.52,137.51 L576.77,137.95 L577.02,138.39 L577.27,138.83 L577.52,139.28 L577.77,139.74 L578.02,140.19 L578.27,140.65 L578.52,141.10 L578.78,141.55 L579.03,142.00 L579.28,142.43 L579.53,142.86 L579.78,143.29 L580.03,143.70 L580.28,144.09 L580.53,144.48 L580.78,144.85 L581.03,145.20 L581.28,145.54 L581.54,145.86 L581.79,146.16 L582.04,146.45 L582.29,146.71 L582.54,146.95 L582.79,147.17 L583.04,147.37 L583.29,147.55 L583.54,147.71 L583.79,147.85 L584.04,147.97 L584.29,148.07 L584.55,148.15 L584.80,148.21 L585.05,148.25 L585.30,148.28 L585.55,148.30 L585.80,148.30 L586.05,148.30 L586.30,148.28 L586.55,148.26 L586.81,148.23 L587.06,148.17 L587.31,148.11 L587.56,148.03 L587.81,147.93 L588.06,147.82 L588.32,147.69 L588.57,147.54 L588.82,147.38 L589.07,147.19 L589.32,147.00 L589.57,146.78 L589.83,146.55 L590.08,146.31 L590.33,146.04 L590.58,145.77 L590.83,145.48 L591.08,145.17 L591.34,144.86 L591.59,144.53 L591.84,144.19 L592.09,143.84 L592.34,143.49 L592.59,143.12 L592.85,142.75 L593.10,142.37 L593.35,141.99 L593.60,141.61 L593.85,141.22 L594.11,140.83 L594.36,140.45 L594.61,140.06 L594.86,139.68 L595.11,139.30 L595.36,138.93 L595.62,138.56 L595.87,138.20 L596.12,137.85 L596.37,137.51 L596.62,137.18 L596.87,136.87 L597.12,136.57 L597.38,136.28 L597.63,136.01 L597.88,135.75 L598.13,135.51 L598.38,135.29 L598.63,135.09 L598.89,134.90 L599.14,134.74 L599.39,134.60 L599.64,134.48 L599.89,134.38 L600.14,134.30 L600.40,134.24 L600.65,134.21 L600.90,134.20 L601.15,134.21 L601.40,134.25 L601.65,134.30 L601.90,134.38 L602.15,134.48 L602.41,134.61 L602.66,134.75 L602.91,134.92 L603.16,135.11 L603.41,135.31 L603.66,135.54 L603.91,135.78 L604.16,136.04 L604.41,136.32 L604.66,136.61 L604.91,136.91 L605.16,137.23 L605.42,137.56 L605.67,137.90 L605.92,138.25 L606.17,138.61 L606.42,138.97 L606.67,139.34 L606.92,139.71 L607.17,140.09 L607.42,140.47 L607.67,140.85 L607.92,141.22 L608.18,141.60 L608.43,141.97 L608.68,142.33 L608.93,142.69 L609.18,143.04 L609.43,143.39 L609.68,143.72 L609.93,144.04 L610.18,144.35 L610.43,144.65 L610.68,144.94 L610.94,145.21 L611.19,145.46 L611.44,145.70 L611.69,145.93 L611.94,146.13 L612.19,146.32 L612.44,146.49 L612.69,146.65 L612.94,146.79 L613.19,146.91 L613.44,147.01 L613.69,147.10 L613.95,147.17 L614.20,147.22 L614.45,147.26 L614.70,147.28 L614.95,147.30 L615.20,147.30 L615.45,147.30 L615.70,147.29 L615.95,147.27 L616.20,147.24 L616.45,147.19 L616.70,147.14 L616.96,147.07 L617.21,146.99 L617.46,146.89 L617.71,146.79 L617.96,146.67 L618.21,146.53 L618.46,146.38 L618.71,146.22 L618.96,146.04 L619.21,145.86 L619.46,145.66 L619.71,145.44 L619.97,145.22 L620.22,144.98 L620.47,144.74 L620.72,144.48 L620.97,144.21 L621.22,143.94 L621.47,143.66 L621.72,143.37 L621.97,143.07 L622.22,142.77 L622.47,142.47 L622.72,142.16 L622.98,141.85 L623.23,141.53 L623.48,141.22 L623.73,140.90 L623.98,140.59 L624.23,140.28 L624.48,139.97 L624.73,139.67 L624.98,139.37 L625.23,139.07 L625.48,138.78 L625.73,138.50 L625.99,138.23 L626.24,137.97 L626.49,137.72 L626.74,137.48 L626.99,137.25 L627.24,137.03 L627.49,136.83 L627.74,136.64 L627.99,136.46 L628.24,136.30 L628.49,136.16 L628.74,136.03 L629.00,135.92 L629.25,135.82 L629.50,135.74 L629.75,135.68 L630.00,135.64 L630.25,135.61 L630.50,135.60 L630.75,135.61 L631.00,135.64 L631.25,135.68 L631.50,135.75 L631.75,135.83 L632.01,135.93 L632.26,136.05 L632.51,136.19 L632.76,136.34 L633.01,136.50 L633.26,136.69 L633.51,136.88 L633.76,137.10 L634.01,137.32 L634.26,137.56 L634.51,137.81 L634.76,138.07 L635.02,138.33 L635.27,138.61 L635.52,138.90 L635.77,139.19 L636.02,139.49 L636.27,139.79 L636.52,140.10 L636.77,140.40 L637.02,140.71 L637.27,141.02 L637.52,141.33 L637.78,141.64 L638.03,141.95 L638.28,142.25 L638.53,142.54 L638.78,142.83 L639.03,143.12 L639.28,143.39 L639.53,143.66 L639.78,143.92 L640.03,144.17 L640.28,144.40 L640.54,144.63 L640.79,144.84 L641.04,145.04 L641.29,145.23 L641.54,145.40 L641.79,145.56 L642.04,145.71 L642.29,145.84 L642.54,145.96 L642.79,146.06 L643.04,146.15 L643.29,146.22 L643.55,146.28 L643.80,146.33 L644.05,146.36 L644.30,146.39 L644.55,146.40 L644.80,146.40 L645.05,146.40 L645.30,146.39 L645.56,146.37 L645.81,146.34 L646.06,146.30 L646.31,146.26 L646.57,146.20 L646.82,146.13 L647.07,146.05 L647.32,145.95 L647.58,145.85 L647.83,145.73 L648.08,145.61 L648.33,145.47 L648.59,145.32 L648.84,145.16 L649.09,144.99 L649.34,144.81 L649.60,144.62 L649.85,144.42 L650.10,144.21 L650.35,144.00 L650.61,143.77 L650.86,143.54 L651.11,143.30 L651.36,143.06 L651.62,142.81 L651.87,142.56 L652.12,142.31 L652.37,142.05 L652.63,141.79 L652.88,141.53 L653.13,141.26 L653.38,141.00 L653.64,140.74 L653.89,140.48 L654.14,140.22 L654.39,139.97 L654.65,139.72 L654.90,139.48 L655.15,139.24 L655.40,139.01 L655.66,138.78 L655.91,138.56 L656.16,138.35 L656.41,138.15 L656.67,137.97 L656.92,137.79 L657.17,137.62 L657.42,137.46 L657.68,137.31 L657.93,137.18 L658.18,137.06 L658.43,136.95 L658.69,136.86 L658.94,136.78 L659.19,136.72 L659.44,136.67 L659.70,136.63 L659.95,136.61 L660.20,136.60 L660.45,136.61 L660.71,136.63 L660.96,136.67 L661.21,136.72 L661.46,136.79 L661.72,136.87 L661.97,136.97 L662.22,137.08 L662.47,137.21 L662.73,137.34 L662.98,137.50 L663.23,137.66 L663.48,137.83 L663.74,138.02 L663.99,138.21 L664.24,138.42 L664.49,138.63 L664.75,138.85 L665.00,139.08 L665.25,139.32 L665.51,139.56 L665.76,139.81 L666.01,140.06 L666.26,140.31 L666.52,140.57 L666.77,140.82 L667.02,141.08 L667.27,141.34 L667.53,141.59 L667.78,141.85 L668.03,142.10" stroke="#D95319"/>
</g>
<path d="M466.20,187.35 v-4.30 M466.20,29.20 v4.30 M533.20,187.35 v-4.30 M533.20,29.20 v4.30 M600.20,187.35 v-4.30 M600.20,29.20 v4.30 M399.20,108.20 h3.00 M667.20,108.20 h-3.00" stroke="#262626" stroke-width="1.1" fill="none"/>
<path d="M398.75,29.20 H667.70 M398.75,187.35 H667.70" fill="none" stroke="#262626" stroke-width="1.3"/>
<path d="M399.15,29.20 V187.35" fill="none" stroke="#262626" stroke-width="0.9"/>
<path d="M667.15,29.20 V187.35" fill="none" stroke="#262626" stroke-width="1.05"/>
<text transform="translate(399.20,219.50) scale(0.715,1)" font-size="23.80" text-anchor="middle">0</text>
<text transform="translate(466.20,219.50) scale(0.715,1)" font-size="23.80" text-anchor="middle">300</text>
<text transform="translate(533.20,219.50) scale(0.715,1)" font-size="23.80" text-anchor="middle">600</text>
<text transform="translate(600.20,219.50) scale(0.715,1)" font-size="23.80" text-anchor="middle">900</text>
<text transform="translate(667.20,219.50) scale(0.715,1)" font-size="23.80" text-anchor="middle">1200</text>
<text transform="translate(392.85,39.21) scale(0.715,1)" font-size="23.80" text-anchor="end">10</text>
<text transform="translate(392.85,118.21) scale(0.715,1)" font-size="23.80" text-anchor="end">5</text>
<text transform="translate(392.85,197.36) scale(0.715,1)" font-size="23.80" text-anchor="end">0</text>
<text transform="translate(537.60,255.10) scale(0.762,1)" font-size="25.20" text-anchor="middle">Time (days)</text>
<text transform="translate(533.20,18.60) scale(0.762,1)" font-size="25.20" text-anchor="middle">(b)</text>
<text transform="translate(368.90,102.60) scale(0.762,1)" font-size="25.40" text-anchor="middle">I</text>
</g>
<g id="panel-c">
<clipPath id="cpc"><rect x="45.50" y="305.40" width="268.20" height="159.25"/></clipPath>
<g clip-path="url(#cpc)" fill="none" stroke-width="1.05" stroke-linejoin="round">
<path d="M46.00,385.00 L46.23,384.64 L46.47,384.30 L46.70,384.01 L46.93,383.79 L47.17,383.65 L47.40,383.60 L47.65,383.69 L47.91,383.95 L48.16,384.39 L48.42,385.00 L48.67,385.77 L48.92,386.70 L49.18,387.77 L49.43,388.98 L49.69,390.31 L49.94,391.76 L50.19,393.30 L50.45,394.93 L50.70,396.62 L50.96,398.37 L51.21,400.15 L51.46,401.96 L51.72,403.76 L51.97,405.56 L52.23,407.32 L52.48,409.04 L52.74,410.70 L52.99,412.30 L53.24,413.81 L53.50,415.22 L53.75,416.53 L54.01,417.73 L54.26,418.82 L54.51,419.78 L54.77,420.61 L55.02,421.32 L55.28,421.90 L55.53,422.37 L55.78,422.72 L56.04,422.96 L56.29,423.11 L56.55,423.18 L56.80,423.20 L57.05,423.19 L57.30,423.12 L57.55,422.99 L57.81,422.77 L58.06,422.44 L58.31,422.02 L58.56,421.48 L58.81,420.82 L59.06,420.04 L59.31,419.14 L59.56,418.12 L59.82,416.99 L60.07,415.74 L60.32,414.39 L60.57,412.94 L60.82,411.40 L61.07,409.78 L61.32,408.09 L61.57,406.35 L61.83,404.56 L62.08,402.74 L62.33,400.91 L62.58,399.09 L62.83,397.27 L63.08,395.49 L63.33,393.75 L63.58,392.07 L63.84,390.46 L64.09,388.94 L64.34,387.53 L64.59,386.22 L64.84,385.04 L65.09,384.00 L65.34,383.10 L65.59,382.35 L65.85,381.77 L66.10,381.34 L66.35,381.09 L66.60,381.00 L66.85,381.09 L67.11,381.36 L67.36,381.80 L67.61,382.42 L67.86,383.20 L68.12,384.14 L68.37,385.23 L68.62,386.46 L68.87,387.82 L69.13,389.29 L69.38,390.87 L69.63,392.53 L69.88,394.27 L70.14,396.06 L70.39,397.90 L70.64,399.76 L70.89,401.63 L71.15,403.49 L71.40,405.33 L71.65,407.14 L71.91,408.89 L72.16,410.57 L72.41,412.18 L72.66,413.70 L72.92,415.12 L73.17,416.43 L73.42,417.63 L73.67,418.70 L73.93,419.65 L74.18,420.47 L74.43,421.17 L74.68,421.74 L74.94,422.20 L75.19,422.54 L75.44,422.77 L75.69,422.92 L75.95,422.99 L76.20,423.00 L76.45,422.99 L76.70,422.92 L76.95,422.79 L77.21,422.57 L77.46,422.25 L77.71,421.83 L77.96,421.29 L78.21,420.64 L78.46,419.87 L78.71,418.99 L78.96,417.98 L79.22,416.86 L79.47,415.63 L79.72,414.30 L79.97,412.87 L80.22,411.35 L80.47,409.76 L80.72,408.10 L80.97,406.38 L81.23,404.62 L81.48,402.83 L81.73,401.03 L81.98,399.23 L82.23,397.45 L82.48,395.69 L82.73,393.98 L82.98,392.33 L83.24,390.75 L83.49,389.26 L83.74,387.87 L83.99,386.59 L84.24,385.43 L84.49,384.40 L84.74,383.52 L84.99,382.78 L85.25,382.21 L85.50,381.79 L85.75,381.54 L86.00,381.45 L86.25,381.55 L86.51,381.82 L86.76,382.28 L87.02,382.92 L87.27,383.73 L87.52,384.70 L87.78,385.83 L88.03,387.10 L88.29,388.50 L88.54,390.02 L88.79,391.64 L89.05,393.35 L89.30,395.12 L89.56,396.96 L89.81,398.82 L90.06,400.71 L90.32,402.60 L90.57,404.48 L90.83,406.33 L91.08,408.13 L91.34,409.86 L91.59,411.53 L91.84,413.10 L92.10,414.58 L92.35,415.94 L92.61,417.19 L92.86,418.32 L93.11,419.31 L93.37,420.18 L93.62,420.91 L93.88,421.52 L94.13,421.99 L94.38,422.35 L94.64,422.61 L94.89,422.76 L95.15,422.83 L95.40,422.85 L95.65,422.83 L95.91,422.76 L96.16,422.62 L96.41,422.39 L96.66,422.05 L96.92,421.61 L97.17,421.04 L97.42,420.36 L97.67,419.55 L97.93,418.61 L98.18,417.56 L98.43,416.39 L98.68,415.11 L98.94,413.72 L99.19,412.23 L99.44,410.66 L99.69,409.01 L99.95,407.29 L100.20,405.53 L100.45,403.73 L100.71,401.91 L100.96,400.08 L101.21,398.27 L101.46,396.47 L101.72,394.72 L101.97,393.03 L102.22,391.40 L102.47,389.86 L102.73,388.43 L102.98,387.10 L103.23,385.90 L103.48,384.84 L103.74,383.92 L103.99,383.16 L104.24,382.56 L104.49,382.13 L104.75,381.87 L105.00,381.78 L105.25,381.87 L105.51,382.13 L105.76,382.56 L106.01,383.16 L106.26,383.92 L106.52,384.83 L106.77,385.89 L107.02,387.08 L107.27,388.40 L107.53,389.84 L107.78,391.37 L108.03,392.99 L108.28,394.68 L108.54,396.43 L108.79,398.21 L109.04,400.03 L109.29,401.85 L109.55,403.66 L109.80,405.46 L110.05,407.21 L110.31,408.92 L110.56,410.57 L110.81,412.13 L111.06,413.62 L111.32,415.00 L111.57,416.28 L111.82,417.45 L112.07,418.50 L112.33,419.43 L112.58,420.24 L112.83,420.92 L113.08,421.49 L113.34,421.93 L113.59,422.27 L113.84,422.50 L114.09,422.64 L114.35,422.71 L114.60,422.73 L114.85,422.71 L115.10,422.65 L115.35,422.52 L115.61,422.30 L115.86,421.98 L116.11,421.57 L116.36,421.04 L116.61,420.40 L116.86,419.64 L117.11,418.77 L117.36,417.78 L117.62,416.68 L117.87,415.47 L118.12,414.17 L118.37,412.76 L118.62,411.27 L118.87,409.71 L119.12,408.08 L119.37,406.40 L119.63,404.68 L119.88,402.93 L120.13,401.17 L120.38,399.40 L120.63,397.66 L120.88,395.94 L121.13,394.27 L121.38,392.65 L121.64,391.10 L121.89,389.64 L122.14,388.28 L122.39,387.03 L122.64,385.90 L122.89,384.89 L123.14,384.03 L123.39,383.31 L123.65,382.75 L123.90,382.34 L124.15,382.09 L124.40,382.01 L124.65,382.10 L124.91,382.36 L125.16,382.78 L125.41,383.38 L125.66,384.13 L125.92,385.03 L126.17,386.08 L126.42,387.27 L126.67,388.58 L126.93,390.00 L127.18,391.52 L127.43,393.12 L127.68,394.80 L127.94,396.53 L128.19,398.30 L128.44,400.10 L128.69,401.91 L128.95,403.71 L129.20,405.49 L129.45,407.23 L129.71,408.92 L129.96,410.55 L130.21,412.11 L130.46,413.58 L130.72,414.96 L130.97,416.23 L131.22,417.39 L131.47,418.43 L131.73,419.36 L131.98,420.16 L132.23,420.84 L132.48,421.40 L132.74,421.84 L132.99,422.18 L133.24,422.41 L133.49,422.55 L133.75,422.62 L134.00,422.63 L134.25,422.62 L134.50,422.55 L134.75,422.42 L135.01,422.20 L135.26,421.89 L135.51,421.48 L135.76,420.95 L136.01,420.32 L136.26,419.56 L136.51,418.69 L136.76,417.71 L137.02,416.62 L137.27,415.42 L137.52,414.12 L137.77,412.72 L138.02,411.24 L138.27,409.69 L138.52,408.07 L138.77,406.40 L139.03,404.69 L139.28,402.95 L139.53,401.20 L139.78,399.45 L140.03,397.71 L140.28,396.01 L140.53,394.35 L140.78,392.74 L141.04,391.21 L141.29,389.76 L141.54,388.40 L141.79,387.16 L142.04,386.04 L142.29,385.04 L142.54,384.18 L142.79,383.47 L143.05,382.91 L143.30,382.50 L143.55,382.26 L143.80,382.18 L144.05,382.26 L144.31,382.52 L144.56,382.95 L144.81,383.53 L145.06,384.28 L145.32,385.18 L145.57,386.22 L145.82,387.40 L146.07,388.70 L146.33,390.11 L146.58,391.62 L146.83,393.22 L147.08,394.88 L147.34,396.60 L147.59,398.36 L147.84,400.15 L148.09,401.95 L148.35,403.73 L148.60,405.50 L148.85,407.24 L149.11,408.92 L149.36,410.54 L149.61,412.09 L149.86,413.55 L150.12,414.92 L150.37,416.19 L150.62,417.34 L150.87,418.38 L151.13,419.30 L151.38,420.10 L151.63,420.77 L151.88,421.33 L152.14,421.77 L152.39,422.10 L152.64,422.33 L152.89,422.48 L153.15,422.54 L153.40,422.56 L153.65,422.54 L153.91,422.48 L154.16,422.33 L154.41,422.10 L154.66,421.77 L154.92,421.33 L155.17,420.78 L155.42,420.10 L155.67,419.30 L155.93,418.39 L156.18,417.35 L156.43,416.20 L156.68,414.94 L156.94,413.58 L157.19,412.12 L157.44,410.57 L157.69,408.96 L157.95,407.28 L158.20,405.55 L158.45,403.79 L158.71,402.00 L158.96,400.21 L159.21,398.43 L159.46,396.68 L159.72,394.96 L159.97,393.30 L160.22,391.71 L160.47,390.21 L160.73,388.80 L160.98,387.50 L161.23,386.33 L161.48,385.29 L161.74,384.39 L161.99,383.65 L162.24,383.06 L162.49,382.64 L162.75,382.38 L163.00,382.30 L163.25,382.38 L163.50,382.62 L163.75,383.02 L164.01,383.58 L164.26,384.29 L164.51,385.14 L164.76,386.13 L165.01,387.25 L165.26,388.48 L165.51,389.83 L165.76,391.27 L166.02,392.79 L166.27,394.38 L166.52,396.03 L166.77,397.73 L167.02,399.45 L167.27,401.19 L167.52,402.93 L167.77,404.66 L168.03,406.36 L168.28,408.02 L168.53,409.63 L168.78,411.17 L169.03,412.64 L169.28,414.03 L169.53,415.32 L169.78,416.52 L170.04,417.60 L170.29,418.58 L170.54,419.45 L170.79,420.19 L171.04,420.83 L171.29,421.35 L171.54,421.76 L171.79,422.08 L172.05,422.29 L172.30,422.42 L172.55,422.49 L172.80,422.50 L173.06,422.49 L173.31,422.42 L173.57,422.28 L173.82,422.05 L174.08,421.72 L174.33,421.28 L174.59,420.72 L174.84,420.05 L175.10,419.26 L175.35,418.34 L175.61,417.31 L175.86,416.16 L176.12,414.90 L176.37,413.54 L176.63,412.09 L176.88,410.55 L177.14,408.94 L177.39,407.27 L177.65,405.55 L177.91,403.79 L178.16,402.01 L178.42,400.23 L178.67,398.46 L178.93,396.71 L179.18,395.00 L179.44,393.35 L179.69,391.76 L179.95,390.26 L180.20,388.86 L180.46,387.57 L180.71,386.40 L180.97,385.37 L181.22,384.47 L181.48,383.73 L181.73,383.14 L181.99,382.72 L182.24,382.47 L182.50,382.38 L182.75,382.47 L183.01,382.74 L183.26,383.19 L183.52,383.80 L183.77,384.58 L184.02,385.52 L184.28,386.61 L184.53,387.83 L184.79,389.18 L185.04,390.65 L185.29,392.21 L185.55,393.86 L185.80,395.58 L186.06,397.35 L186.31,399.15 L186.56,400.98 L186.82,402.81 L187.07,404.62 L187.33,406.41 L187.58,408.15 L187.84,409.83 L188.09,411.44 L188.34,412.97 L188.60,414.40 L188.85,415.73 L189.11,416.94 L189.36,418.03 L189.61,419.00 L189.87,419.85 L190.12,420.56 L190.38,421.15 L190.63,421.62 L190.88,421.97 L191.14,422.22 L191.39,422.37 L191.65,422.44 L191.90,422.46 L192.15,422.44 L192.40,422.38 L192.65,422.25 L192.91,422.03 L193.16,421.72 L193.41,421.31 L193.66,420.79 L193.91,420.16 L194.16,419.41 L194.41,418.55 L194.66,417.58 L194.92,416.49 L195.17,415.31 L195.42,414.02 L195.67,412.64 L195.92,411.17 L196.17,409.64 L196.42,408.04 L196.67,406.38 L196.93,404.69 L197.18,402.97 L197.43,401.24 L197.68,399.51 L197.93,397.80 L198.18,396.11 L198.43,394.47 L198.68,392.88 L198.94,391.37 L199.19,389.93 L199.44,388.60 L199.69,387.37 L199.94,386.26 L200.19,385.27 L200.44,384.42 L200.69,383.72 L200.95,383.17 L201.20,382.77 L201.45,382.53 L201.70,382.44 L201.95,382.53 L202.21,382.78 L202.46,383.20 L202.71,383.79 L202.96,384.53 L203.22,385.41 L203.47,386.45 L203.72,387.61 L203.97,388.90 L204.23,390.29 L204.48,391.79 L204.73,393.36 L204.98,395.01 L205.24,396.71 L205.49,398.46 L205.74,400.22 L205.99,402.00 L206.25,403.77 L206.50,405.52 L206.75,407.24 L207.01,408.90 L207.26,410.51 L207.51,412.04 L207.76,413.49 L208.02,414.85 L208.27,416.10 L208.52,417.24 L208.77,418.27 L209.03,419.19 L209.28,419.98 L209.53,420.65 L209.78,421.20 L210.04,421.64 L210.29,421.97 L210.54,422.20 L210.79,422.34 L211.05,422.41 L211.30,422.42 L211.55,422.41 L211.81,422.34 L212.06,422.20 L212.31,421.97 L212.56,421.64 L212.82,421.20 L213.07,420.65 L213.32,419.98 L213.57,419.19 L213.83,418.28 L214.08,417.25 L214.33,416.11 L214.58,414.85 L214.84,413.50 L215.09,412.05 L215.34,410.52 L215.59,408.92 L215.85,407.25 L216.10,405.54 L216.35,403.79 L216.61,402.02 L216.86,400.25 L217.11,398.48 L217.36,396.74 L217.62,395.04 L217.87,393.40 L218.12,391.82 L218.37,390.33 L218.63,388.93 L218.88,387.65 L219.13,386.49 L219.38,385.46 L219.64,384.57 L219.89,383.83 L220.14,383.25 L220.39,382.83 L220.65,382.57 L220.90,382.49 L221.15,382.57 L221.41,382.83 L221.66,383.25 L221.91,383.83 L222.16,384.56 L222.42,385.45 L222.67,386.48 L222.92,387.64 L223.17,388.93 L223.43,390.32 L223.68,391.81 L223.93,393.39 L224.18,395.03 L224.44,396.73 L224.69,398.47 L224.94,400.23 L225.19,402.01 L225.45,403.77 L225.70,405.52 L225.95,407.23 L226.21,408.90 L226.46,410.50 L226.71,412.03 L226.96,413.48 L227.22,414.83 L227.47,416.08 L227.72,417.22 L227.97,418.25 L228.23,419.16 L228.48,419.95 L228.73,420.62 L228.98,421.18 L229.24,421.61 L229.49,421.94 L229.74,422.17 L229.99,422.31 L230.25,422.38 L230.50,422.39 L230.75,422.38 L231.00,422.32 L231.25,422.19 L231.51,421.97 L231.76,421.66 L232.01,421.25 L232.26,420.73 L232.51,420.10 L232.76,419.36 L233.01,418.50 L233.26,417.53 L233.52,416.45 L233.77,415.26 L234.02,413.98 L234.27,412.60 L234.52,411.15 L234.77,409.61 L235.02,408.02 L235.27,406.37 L235.53,404.69 L235.78,402.97 L236.03,401.25 L236.28,399.52 L236.53,397.81 L236.78,396.13 L237.03,394.50 L237.28,392.92 L237.54,391.41 L237.79,389.98 L238.04,388.65 L238.29,387.42 L238.54,386.32 L238.79,385.34 L239.04,384.49 L239.29,383.79 L239.55,383.24 L239.80,382.84 L240.05,382.60 L240.30,382.52 L240.55,382.61 L240.81,382.88 L241.06,383.32 L241.32,383.93 L241.57,384.70 L241.82,385.64 L242.08,386.72 L242.33,387.94 L242.59,389.28 L242.84,390.74 L243.09,392.29 L243.35,393.93 L243.60,395.63 L243.86,397.39 L244.11,399.19 L244.36,401.00 L244.62,402.82 L244.87,404.63 L245.13,406.40 L245.38,408.14 L245.64,409.81 L245.89,411.41 L246.14,412.93 L246.40,414.35 L246.65,415.67 L246.91,416.88 L247.16,417.97 L247.41,418.93 L247.67,419.77 L247.92,420.49 L248.18,421.07 L248.43,421.54 L248.68,421.89 L248.94,422.14 L249.19,422.29 L249.45,422.36 L249.70,422.37 L249.95,422.36 L250.20,422.30 L250.45,422.17 L250.71,421.95 L250.96,421.64 L251.21,421.23 L251.46,420.71 L251.71,420.08 L251.96,419.34 L252.21,418.48 L252.46,417.51 L252.72,416.43 L252.97,415.25 L253.22,413.97 L253.47,412.59 L253.72,411.14 L253.97,409.60 L254.22,408.01 L254.47,406.37 L254.73,404.68 L254.98,402.97 L255.23,401.25 L255.48,399.53 L255.73,397.82 L255.98,396.14 L256.23,394.51 L256.48,392.93 L256.74,391.42 L256.99,389.99 L257.24,388.66 L257.49,387.44 L257.74,386.33 L257.99,385.36 L258.24,384.51 L258.49,383.81 L258.75,383.26 L259.00,382.86 L259.25,382.62 L259.50,382.54 L259.76,382.63 L260.01,382.88 L260.27,383.30 L260.52,383.88 L260.78,384.61 L261.03,385.50 L261.29,386.53 L261.54,387.69 L261.80,388.97 L262.05,390.36 L262.31,391.84 L262.56,393.41 L262.82,395.05 L263.07,396.75 L263.33,398.48 L263.58,400.24 L263.84,402.01 L264.09,403.77 L264.35,405.52 L264.61,407.23 L264.86,408.89 L265.12,410.49 L265.37,412.01 L265.63,413.46 L265.88,414.81 L266.14,416.06 L266.39,417.20 L266.65,418.22 L266.90,419.13 L267.16,419.92 L267.41,420.59 L267.67,421.14 L267.92,421.58 L268.18,421.91 L268.43,422.14 L268.69,422.28 L268.94,422.34 L269.20,422.36 L269.45,422.34 L269.71,422.28 L269.96,422.14 L270.21,421.91 L270.46,421.58 L270.72,421.14 L270.97,420.59 L271.22,419.92 L271.47,419.13 L271.73,418.22 L271.98,417.20 L272.23,416.06 L272.48,414.81 L272.74,413.46 L272.99,412.02 L273.24,410.49 L273.49,408.89 L273.75,407.23 L274.00,405.52 L274.25,403.78 L274.51,402.02 L274.76,400.25 L275.01,398.49 L275.26,396.76 L275.52,395.06 L275.77,393.42 L276.02,391.86 L276.27,390.37 L276.53,388.98 L276.78,387.70 L277.03,386.54 L277.28,385.51 L277.54,384.63 L277.79,383.89 L278.04,383.31 L278.29,382.90 L278.55,382.64 L278.80,382.56 L279.05,382.64 L279.31,382.90 L279.56,383.31 L279.81,383.89 L280.06,384.63 L280.32,385.51 L280.57,386.54 L280.82,387.70 L281.07,388.98 L281.33,390.37 L281.58,391.85 L281.83,393.42 L282.08,395.06 L282.34,396.75 L282.59,398.49 L282.84,400.24 L283.09,402.01 L283.35,403.77 L283.60,405.52 L283.85,407.22 L284.11,408.88 L284.36,410.48 L284.61,412.01 L284.86,413.45 L285.12,414.80 L285.37,416.05 L285.62,417.19 L285.87,418.21 L286.13,419.12 L286.38,419.91 L286.63,420.58 L286.88,421.13 L287.14,421.56 L287.39,421.89 L287.64,422.12 L287.89,422.26 L288.15,422.33 L288.40,422.34 L288.65,422.33 L288.90,422.27 L289.15,422.14 L289.41,421.92 L289.66,421.61 L289.91,421.20 L290.16,420.68 L290.41,420.05 L290.66,419.31 L290.91,418.46 L291.16,417.49 L291.42,416.41 L291.67,415.23 L291.92,413.95 L292.17,412.58 L292.42,411.12 L292.67,409.59 L292.92,408.00 L293.17,406.36 L293.43,404.68 L293.68,402.97 L293.93,401.25 L294.18,399.53 L294.43,397.82 L294.68,396.15 L294.93,394.51 L295.18,392.94 L295.44,391.43 L295.69,390.01 L295.94,388.68 L296.19,387.46 L296.44,386.36 L296.69,385.38 L296.94,384.54 L297.19,383.84 L297.45,383.29 L297.70,382.89 L297.95,382.65 L298.20,382.57 L298.45,382.66 L298.71,382.93 L298.96,383.37 L299.22,383.98 L299.47,384.75 L299.72,385.68 L299.98,386.76 L300.23,387.97 L300.49,389.31 L300.74,390.77 L300.99,392.32 L301.25,393.95 L301.50,395.65 L301.76,397.41 L302.01,399.20 L302.26,401.01 L302.52,402.82 L302.77,404.62 L303.03,406.40 L303.28,408.12 L303.54,409.79 L303.79,411.39 L304.04,412.91 L304.30,414.33 L304.55,415.65 L304.81,416.85 L305.06,417.94 L305.31,418.90 L305.57,419.74 L305.82,420.45 L306.08,421.04 L306.33,421.50 L306.58,421.85 L306.84,422.10 L307.09,422.25 L307.35,422.32 L307.60,422.33 L307.85,422.32 L308.11,422.26 L308.36,422.13 L308.62,421.91 L308.87,421.60 L309.12,421.19 L309.38,420.67 L309.63,420.05 L309.88,419.30 L310.14,418.45 L310.39,417.48 L310.65,416.40 L310.90,415.22 L311.15,413.94 L311.41,412.57 L311.66,411.11 L311.92,409.59 L312.17,408.00 L312.42,406.35 L312.68,404.67 L312.93,402.97 L313.18,401.25 L313.44,399.53 L313.69,397.82 L313.95,396.15 L314.20,394.52 L314.45,392.94" stroke="#0072BD"/>
<path d="M46.00,385.00 L46.25,387.04 L46.51,389.07 L46.76,391.10 L47.02,393.12 L47.27,395.12 L47.52,397.11 L47.78,399.08 L48.03,401.02 L48.28,402.94 L48.54,404.83 L48.79,406.69 L49.05,408.51 L49.30,410.30 L49.55,412.04 L49.81,413.74 L50.06,415.40 L50.32,417.00 L50.57,418.55 L50.82,420.05 L51.08,421.49 L51.33,422.87 L51.58,424.20 L51.84,425.45 L52.09,426.64 L52.35,427.77 L52.60,428.82 L52.85,429.80 L53.11,430.71 L53.36,431.55 L53.62,432.31 L53.87,433.00 L54.12,433.60 L54.38,434.13 L54.63,434.58 L54.88,434.94 L55.14,435.23 L55.39,435.44 L55.65,435.56 L55.90,435.60 L56.15,435.60 L56.41,435.58 L56.66,435.55 L56.91,435.49 L57.17,435.40 L57.42,435.26 L57.67,435.08 L57.92,434.85 L58.18,434.56 L58.43,434.21 L58.68,433.80 L58.94,433.31 L59.19,432.76 L59.44,432.13 L59.70,431.43 L59.95,430.64 L60.20,429.78 L60.46,428.84 L60.71,427.81 L60.96,426.71 L61.22,425.53 L61.47,424.27 L61.72,422.93 L61.97,421.52 L62.23,420.04 L62.48,418.48 L62.73,416.87 L62.99,415.19 L63.24,413.45 L63.49,411.66 L63.75,409.82 L64.00,407.94 L64.25,406.02 L64.51,404.07 L64.76,402.09 L65.01,400.10 L65.27,398.09 L65.52,396.08 L65.77,394.06 L66.02,392.06 L66.28,390.07 L66.53,388.10 L66.78,386.16 L67.04,384.25 L67.29,382.39 L67.54,380.57 L67.80,378.81 L68.05,377.11 L68.30,375.49 L68.56,373.93 L68.81,372.45 L69.06,371.06 L69.32,369.77 L69.57,368.56 L69.82,367.46 L70.07,366.46 L70.33,365.57 L70.58,364.79 L70.83,364.13 L71.09,363.58 L71.34,363.15 L71.59,362.85 L71.85,362.66 L72.10,362.60 L72.35,362.67 L72.60,362.87 L72.85,363.20 L73.10,363.66 L73.35,364.25 L73.60,364.97 L73.85,365.80 L74.10,366.76 L74.35,367.83 L74.60,369.01 L74.85,370.30 L75.10,371.68 L75.35,373.16 L75.60,374.72 L75.85,376.35 L76.10,378.06 L76.35,379.84 L76.60,381.67 L76.85,383.55 L77.10,385.46 L77.35,387.41 L77.60,389.39 L77.85,391.38 L78.10,393.37 L78.35,395.37 L78.60,397.35 L78.85,399.32 L79.10,401.27 L79.35,403.18 L79.60,405.06 L79.85,406.88 L80.10,408.66 L80.35,410.38 L80.60,412.04 L80.85,413.63 L81.10,415.15 L81.35,416.59 L81.60,417.95 L81.85,419.23 L82.10,420.42 L82.35,421.53 L82.60,422.55 L82.85,423.48 L83.10,424.32 L83.35,425.08 L83.60,425.75 L83.85,426.34 L84.10,426.85 L84.35,427.28 L84.60,427.64 L84.85,427.93 L85.10,428.16 L85.35,428.33 L85.60,428.46 L85.85,428.53 L86.10,428.58 L86.35,428.60 L86.60,428.60 L86.85,428.60 L87.10,428.58 L87.35,428.54 L87.60,428.48 L87.85,428.38 L88.10,428.24 L88.36,428.06 L88.61,427.83 L88.86,427.56 L89.11,427.23 L89.36,426.85 L89.61,426.41 L89.86,425.91 L90.11,425.36 L90.36,424.74 L90.61,424.06 L90.86,423.32 L91.11,422.53 L91.37,421.67 L91.62,420.75 L91.87,419.78 L92.12,418.75 L92.37,417.67 L92.62,416.54 L92.87,415.36 L93.12,414.14 L93.37,412.87 L93.62,411.57 L93.87,410.23 L94.12,408.87 L94.38,407.48 L94.63,406.06 L94.88,404.63 L95.13,403.19 L95.38,401.75 L95.63,400.30 L95.88,398.86 L96.13,397.42 L96.38,396.00 L96.63,394.60 L96.88,393.22 L97.13,391.87 L97.39,390.56 L97.64,389.28 L97.89,388.05 L98.14,386.87 L98.39,385.74 L98.64,384.67 L98.89,383.66 L99.14,382.71 L99.39,381.84 L99.64,381.04 L99.89,380.31 L100.14,379.66 L100.40,379.09 L100.65,378.61 L100.90,378.21 L101.15,377.90 L101.40,377.68 L101.65,377.54 L101.90,377.50 L102.15,377.55 L102.40,377.69 L102.66,377.93 L102.91,378.26 L103.16,378.69 L103.41,379.21 L103.66,379.81 L103.91,380.50 L104.17,381.28 L104.42,382.13 L104.67,383.06 L104.92,384.05 L105.17,385.12 L105.43,386.25 L105.68,387.43 L105.93,388.66 L106.18,389.94 L106.43,391.26 L106.68,392.62 L106.94,394.00 L107.19,395.40 L107.44,396.83 L107.69,398.26 L107.94,399.70 L108.19,401.13 L108.45,402.56 L108.70,403.98 L108.95,405.38 L109.20,406.75 L109.45,408.10 L109.71,409.41 L109.96,410.68 L110.21,411.91 L110.46,413.09 L110.71,414.22 L110.96,415.30 L111.22,416.32 L111.47,417.28 L111.72,418.18 L111.97,419.02 L112.22,419.79 L112.47,420.50 L112.73,421.14 L112.98,421.71 L113.23,422.22 L113.48,422.67 L113.73,423.05 L113.99,423.38 L114.24,423.65 L114.49,423.86 L114.74,424.03 L114.99,424.15 L115.24,424.23 L115.50,424.27 L115.75,424.30 L116.00,424.30 L116.25,424.30 L116.50,424.28 L116.76,424.24 L117.01,424.18 L117.26,424.09 L117.51,423.97 L117.77,423.81 L118.02,423.62 L118.27,423.38 L118.52,423.10 L118.78,422.78 L119.03,422.42 L119.28,422.01 L119.53,421.55 L119.79,421.05 L120.04,420.50 L120.29,419.91 L120.54,419.27 L120.80,418.59 L121.05,417.86 L121.30,417.09 L121.55,416.29 L121.81,415.44 L122.06,414.56 L122.31,413.64 L122.56,412.69 L122.82,411.71 L123.07,410.71 L123.32,409.68 L123.57,408.64 L123.83,407.57 L124.08,406.50 L124.33,405.41 L124.58,404.32 L124.84,403.22 L125.09,402.13 L125.34,401.04 L125.59,399.95 L125.85,398.88 L126.10,397.83 L126.35,396.80 L126.60,395.79 L126.86,394.80 L127.11,393.85 L127.36,392.93 L127.61,392.05 L127.87,391.21 L128.12,390.41 L128.37,389.66 L128.62,388.96 L128.88,388.31 L129.13,387.72 L129.38,387.18 L129.63,386.70 L129.89,386.28 L130.14,385.92 L130.39,385.63 L130.64,385.40 L130.90,385.23 L131.15,385.13 L131.40,385.10 L131.65,385.13 L131.90,385.23 L132.15,385.39 L132.40,385.62 L132.65,385.91 L132.90,386.26 L133.15,386.67 L133.40,387.14 L133.65,387.67 L133.90,388.25 L134.15,388.88 L134.40,389.57 L134.65,390.30 L134.90,391.08 L135.15,391.89 L135.40,392.75 L135.65,393.64 L135.90,394.56 L136.15,395.50 L136.40,396.47 L136.65,397.46 L136.90,398.47 L137.15,399.49 L137.40,400.52 L137.65,401.55 L137.90,402.58 L138.15,403.61 L138.40,404.63 L138.65,405.65 L138.90,406.65 L139.15,407.63 L139.40,408.59 L139.65,409.52 L139.90,410.43 L140.15,411.31 L140.40,412.15 L140.65,412.97 L140.90,413.74 L141.15,414.47 L141.40,415.17 L141.65,415.82 L141.90,416.43 L142.15,416.99 L142.40,417.51 L142.65,417.98 L142.90,418.41 L143.15,418.79 L143.40,419.12 L143.65,419.41 L143.90,419.66 L144.15,419.87 L144.40,420.04 L144.65,420.17 L144.90,420.27 L145.15,420.34 L145.40,420.38 L145.65,420.40 L145.90,420.40 L146.15,420.40 L146.40,420.38 L146.66,420.34 L146.91,420.29 L147.16,420.20 L147.41,420.09 L147.66,419.95 L147.91,419.78 L148.16,419.57 L148.42,419.33 L148.67,419.05 L148.92,418.74 L149.17,418.39 L149.42,418.01 L149.68,417.59 L149.93,417.13 L150.18,416.64 L150.43,416.11 L150.68,415.55 L150.93,414.95 L151.19,414.33 L151.44,413.67 L151.69,412.99 L151.94,412.28 L152.19,411.54 L152.44,410.78 L152.69,410.01 L152.95,409.21 L153.20,408.40 L153.45,407.57 L153.70,406.74 L153.95,405.90 L154.21,405.05 L154.46,404.20 L154.71,403.36 L154.96,402.51 L155.21,401.68 L155.46,400.85 L155.72,400.03 L155.97,399.23 L156.22,398.45 L156.47,397.69 L156.72,396.96 L156.97,396.25 L157.22,395.57 L157.48,394.92 L157.73,394.30 L157.98,393.72 L158.23,393.18 L158.48,392.68 L158.74,392.22 L158.99,391.80 L159.24,391.43 L159.49,391.11 L159.74,390.83 L159.99,390.61 L160.25,390.43 L160.50,390.30 L160.75,390.23 L161.00,390.20 L161.25,390.23 L161.50,390.30 L161.75,390.43 L162.00,390.61 L162.25,390.84 L162.51,391.11 L162.76,391.44 L163.01,391.81 L163.26,392.22 L163.51,392.68 L163.76,393.18 L164.01,393.72 L164.26,394.29 L164.51,394.90 L164.76,395.54 L165.01,396.22 L165.26,396.92 L165.52,397.64 L165.77,398.39 L166.02,399.15 L166.27,399.93 L166.52,400.72 L166.77,401.53 L167.02,402.34 L167.27,403.15 L167.52,403.96 L167.77,404.77 L168.02,405.58 L168.28,406.37 L168.53,407.16 L168.78,407.93 L169.03,408.69 L169.28,409.42 L169.53,410.14 L169.78,410.83 L170.03,411.49 L170.28,412.13 L170.53,412.74 L170.78,413.31 L171.04,413.85 L171.29,414.36 L171.54,414.84 L171.79,415.27 L172.04,415.67 L172.29,416.04 L172.54,416.37 L172.79,416.66 L173.04,416.91 L173.29,417.13 L173.54,417.31 L173.79,417.47 L174.05,417.59 L174.30,417.68 L174.55,417.74 L174.80,417.78 L175.05,417.80 L175.30,417.80 L175.55,417.80 L175.80,417.78 L176.05,417.75 L176.31,417.70 L176.56,417.64 L176.81,417.55 L177.06,417.44 L177.31,417.30 L177.56,417.14 L177.82,416.96 L178.07,416.75 L178.32,416.51 L178.57,416.24 L178.82,415.95 L179.07,415.64 L179.33,415.29 L179.58,414.92 L179.83,414.53 L180.08,414.11 L180.33,413.67 L180.58,413.21 L180.84,412.72 L181.09,412.21 L181.34,411.69 L181.59,411.14 L181.84,410.58 L182.09,410.01 L182.35,409.42 L182.60,408.82 L182.85,408.21 L183.10,407.59 L183.35,406.96 L183.60,406.33 L183.85,405.70 L184.11,405.07 L184.36,404.44 L184.61,403.81 L184.86,403.19 L185.11,402.57 L185.36,401.96 L185.62,401.37 L185.87,400.79 L186.12,400.22 L186.37,399.67 L186.62,399.14 L186.87,398.62 L187.13,398.13 L187.38,397.67 L187.63,397.22 L187.88,396.81 L188.13,396.42 L188.38,396.06 L188.64,395.74 L188.89,395.44 L189.14,395.18 L189.39,394.95 L189.64,394.75 L189.89,394.59 L190.15,394.46 L190.40,394.37 L190.65,394.32 L190.90,394.30 L191.15,394.32 L191.40,394.38 L191.65,394.47 L191.90,394.61 L192.15,394.78 L192.41,394.99 L192.66,395.23 L192.91,395.51 L193.16,395.83 L193.41,396.17 L193.66,396.55 L193.91,396.96 L194.16,397.40 L194.41,397.86 L194.66,398.35 L194.91,398.86 L195.16,399.39 L195.42,399.94 L195.67,400.51 L195.92,401.09 L196.17,401.69 L196.42,402.30 L196.67,402.91 L196.92,403.53 L197.17,404.15 L197.42,404.78 L197.67,405.40 L197.92,406.02 L198.18,406.64 L198.43,407.24 L198.68,407.84 L198.93,408.43 L199.18,409.00 L199.43,409.56 L199.68,410.10 L199.93,410.62 L200.18,411.12 L200.43,411.60 L200.68,412.05 L200.94,412.48 L201.19,412.89 L201.44,413.27 L201.69,413.62 L201.94,413.94 L202.19,414.23 L202.44,414.50 L202.69,414.74 L202.94,414.95 L203.19,415.13 L203.44,415.28 L203.69,415.41 L203.95,415.51 L204.20,415.59 L204.45,415.64 L204.70,415.68 L204.95,415.70 L205.20,415.70 L205.45,415.70 L205.70,415.68 L205.95,415.65 L206.21,415.61 L206.46,415.54 L206.71,415.46 L206.96,415.36 L207.21,415.23 L207.47,415.08 L207.72,414.91 L207.97,414.72 L208.22,414.51 L208.47,414.27 L208.72,414.01 L208.97,413.72 L209.23,413.42 L209.48,413.09 L209.73,412.75 L209.98,412.38 L210.23,411.99 L210.48,411.59 L210.74,411.16 L210.99,410.72 L211.24,410.27 L211.49,409.80 L211.74,409.32 L212.00,408.83 L212.25,408.33 L212.50,407.82 L212.75,407.30 L213.00,406.78 L213.25,406.26 L213.50,405.74 L213.76,405.21 L214.01,404.69 L214.26,404.17 L214.51,403.66 L214.76,403.15 L215.02,402.65 L215.27,402.16 L215.52,401.69 L215.77,401.22 L216.02,400.78 L216.27,400.35 L216.53,399.93 L216.78,399.54 L217.03,399.17 L217.28,398.82 L217.53,398.49 L217.78,398.19 L218.03,397.91 L218.29,397.66 L218.54,397.44 L218.79,397.25 L219.04,397.08 L219.29,396.94 L219.55,396.84 L219.80,396.76 L220.05,396.72 L220.30,396.70 L220.55,396.72 L220.80,396.76 L221.05,396.84 L221.30,396.95 L221.55,397.09 L221.81,397.26 L222.06,397.45 L222.31,397.68 L222.56,397.93 L222.81,398.22 L223.06,398.52 L223.31,398.85 L223.56,399.21 L223.81,399.58 L224.06,399.98 L224.31,400.39 L224.56,400.82 L224.82,401.27 L225.07,401.73 L225.32,402.21 L225.57,402.69 L225.82,403.18 L226.07,403.68 L226.32,404.19 L226.57,404.70 L226.82,405.21 L227.07,405.72 L227.32,406.23 L227.58,406.73 L227.83,407.23 L228.08,407.72 L228.33,408.20 L228.58,408.68 L228.83,409.14 L229.08,409.58 L229.33,410.01 L229.58,410.43 L229.83,410.83 L230.08,411.20 L230.34,411.56 L230.59,411.90 L230.84,412.22 L231.09,412.51 L231.34,412.79 L231.59,413.04 L231.84,413.26 L232.09,413.46 L232.34,413.64 L232.59,413.80 L232.84,413.93 L233.09,414.04 L233.35,414.13 L233.60,414.20 L233.85,414.25 L234.10,414.28 L234.35,414.30 L234.60,414.30 L234.85,414.30 L235.10,414.28 L235.35,414.26 L235.61,414.22 L235.86,414.16 L236.11,414.09 L236.36,414.00 L236.61,413.89 L236.86,413.77 L237.12,413.62 L237.37,413.46 L237.62,413.28 L237.87,413.08 L238.12,412.86 L238.38,412.62 L238.63,412.37 L238.88,412.10 L239.13,411.81 L239.38,411.51 L239.63,411.19 L239.88,410.85 L240.14,410.50 L240.39,410.14 L240.64,409.77 L240.89,409.39 L241.14,409.00 L241.39,408.60 L241.65,408.19 L241.90,407.77 L242.15,407.35 L242.40,406.93 L242.65,406.51 L242.91,406.08 L243.16,405.65 L243.41,405.23 L243.66,404.81 L243.91,404.40 L244.16,403.99 L244.41,403.58 L244.67,403.19 L244.92,402.81 L245.17,402.43 L245.42,402.07 L245.67,401.73 L245.92,401.40 L246.18,401.08 L246.43,400.78 L246.68,400.50 L246.93,400.24 L247.18,400.00 L247.44,399.77 L247.69,399.57 L247.94,399.39 L248.19,399.24 L248.44,399.11 L248.69,399.00 L248.94,398.91 L249.20,398.85 L249.45,398.81 L249.70,398.80 L249.95,398.81 L250.20,398.85 L250.45,398.90 L250.70,398.99 L250.95,399.09 L251.21,399.22 L251.46,399.36 L251.71,399.53 L251.96,399.72 L252.21,399.93 L252.46,400.16 L252.71,400.41 L252.96,400.68 L253.21,400.96 L253.46,401.26 L253.71,401.57 L253.96,401.90 L254.22,402.24 L254.47,402.59 L254.72,402.95 L254.97,403.32 L255.22,403.70 L255.47,404.08 L255.72,404.48 L255.97,404.87 L256.22,405.27 L256.47,405.66 L256.72,406.06 L256.97,406.46 L257.23,406.85 L257.48,407.25 L257.73,407.63 L257.98,408.01 L258.23,408.38 L258.48,408.75 L258.73,409.10 L258.98,409.44 L259.23,409.78 L259.48,410.09 L259.73,410.40 L259.98,410.69 L260.24,410.97 L260.49,411.23 L260.74,411.47 L260.99,411.70 L261.24,411.91 L261.49,412.10 L261.74,412.28 L261.99,412.44 L262.24,412.58 L262.49,412.70 L262.74,412.80 L262.99,412.89 L263.25,412.96 L263.50,413.02 L263.75,413.06 L264.00,413.08 L264.25,413.10 L264.50,413.10 L264.75,413.10 L265.01,413.08 L265.26,413.06 L265.51,413.02 L265.76,412.97 L266.02,412.91 L266.27,412.83 L266.52,412.73 L266.77,412.62 L267.03,412.50 L267.28,412.35 L267.53,412.19 L267.78,412.02 L268.04,411.83 L268.29,411.63 L268.54,411.41 L268.79,411.17 L269.05,410.93 L269.30,410.67 L269.55,410.39 L269.80,410.11 L270.06,409.81 L270.31,409.51 L270.56,409.19 L270.81,408.87 L271.07,408.54 L271.32,408.20 L271.57,407.86 L271.82,407.51 L272.08,407.16 L272.33,406.81 L272.58,406.46 L272.83,406.11 L273.09,405.75 L273.34,405.41 L273.59,405.06 L273.84,404.72 L274.10,404.39 L274.35,404.06 L274.60,403.74 L274.85,403.43 L275.11,403.13 L275.36,402.84 L275.61,402.56 L275.86,402.30 L276.12,402.05 L276.37,401.82 L276.62,401.60 L276.87,401.40 L277.13,401.21 L277.38,401.04 L277.63,400.90 L277.88,400.77 L278.14,400.65 L278.39,400.56 L278.64,400.49 L278.89,400.44 L279.15,400.41 L279.40,400.40 L279.65,400.41 L279.91,400.44 L280.16,400.49 L280.41,400.55 L280.67,400.64 L280.92,400.74 L281.17,400.87 L281.43,401.01 L281.68,401.16 L281.93,401.34 L282.19,401.53 L282.44,401.73 L282.69,401.95 L282.95,402.18 L283.20,402.43 L283.46,402.69 L283.71,402.96 L283.96,403.24 L284.22,403.53 L284.47,403.83 L284.72,404.13 L284.98,404.44 L285.23,404.76 L285.48,405.08 L285.74,405.40 L285.99,405.73 L286.24,406.06 L286.50,406.38 L286.75,406.71 L287.00,407.03 L287.26,407.35 L287.51,407.67 L287.76,407.98 L288.02,408.28 L288.27,408.58 L288.52,408.87 L288.78,409.14 L289.03,409.41 L289.28,409.67 L289.54,409.92 L289.79,410.15 L290.04,410.38 L290.30,410.58 L290.55,410.78 L290.81,410.96 L291.06,411.13 L291.31,411.28 L291.57,411.41 L291.82,411.54 L292.07,411.64 L292.33,411.74 L292.58,411.81 L292.83,411.88 L293.09,411.92 L293.34,411.96 L293.59,411.98 L293.85,412.00 L294.10,412.00 L294.35,412.00 L294.60,411.99 L294.85,411.97 L295.10,411.94 L295.35,411.90 L295.60,411.84 L295.86,411.78 L296.11,411.70 L296.36,411.61 L296.61,411.51 L296.86,411.40 L297.11,411.27 L297.36,411.14 L297.61,410.98 L297.86,410.82 L298.11,410.65 L298.36,410.46 L298.61,410.27 L298.87,410.06 L299.12,409.85 L299.37,409.62 L299.62,409.39 L299.87,409.15 L300.12,408.90 L300.37,408.64 L300.62,408.38 L300.87,408.11 L301.12,407.84 L301.37,407.56 L301.62,407.28 L301.88,407.00 L302.13,406.72 L302.38,406.43 L302.63,406.15 L302.88,405.87 L303.13,405.59 L303.38,405.31 L303.63,405.04 L303.88,404.77 L304.13,404.50 L304.38,404.25 L304.63,404.00 L304.89,403.75 L305.14,403.52 L305.39,403.29 L305.64,403.08 L305.89,402.87 L306.14,402.68 L306.39,402.50 L306.64,402.33 L306.89,402.17 L307.14,402.03 L307.39,401.90 L307.64,401.78 L307.90,401.68 L308.15,401.60 L308.40,401.53 L308.65,401.47 L308.90,401.43 L309.15,401.41 L309.40,401.40 L309.65,401.41 L309.90,401.43 L310.16,401.47 L310.41,401.53 L310.66,401.60 L310.91,401.69 L311.16,401.79 L311.41,401.91 L311.67,402.04 L311.92,402.18 L312.17,402.34 L312.42,402.51 L312.67,402.70 L312.92,402.89 L313.18,403.10 L313.43,403.31 L313.68,403.54 L313.93,403.77 L314.18,404.02 L314.43,404.27 L314.69,404.52" stroke="#D95319"/>
</g>
<path d="M112.92,463.45 v-4.30 M112.92,306.60 v4.30 M179.85,463.45 v-4.30 M179.85,306.60 v4.30 M246.77,463.45 v-4.30 M246.77,306.60 v4.30 M46.00,384.95 h3.00 M313.70,384.95 h-3.00" stroke="#262626" stroke-width="1.1" fill="none"/>
<path d="M45.55,306.60 H314.20 M45.55,463.45 H314.20" fill="none" stroke="#262626" stroke-width="1.3"/>
<path d="M45.95,306.60 V463.45" fill="none" stroke="#262626" stroke-width="0.9"/>
<path d="M313.65,306.60 V463.45" fill="none" stroke="#262626" stroke-width="1.05"/>
<text transform="translate(46.00,495.60) scale(0.715,1)" font-size="23.80" text-anchor="middle">0</text>
<text transform="translate(112.92,495.60) scale(0.715,1)" font-size="23.80" text-anchor="middle">300</text>
<text transform="translate(179.85,495.60) scale(0.715,1)" font-size="23.80" text-anchor="middle">600</text>
<text transform="translate(246.77,495.60) scale(0.715,1)" font-size="23.80" text-anchor="middle">900</text>
<text transform="translate(313.70,495.60) scale(0.715,1)" font-size="23.80" text-anchor="middle">1200</text>
<text transform="translate(39.40,316.61) scale(0.715,1)" font-size="23.80" text-anchor="end">40</text>
<text transform="translate(39.40,394.96) scale(0.715,1)" font-size="23.80" text-anchor="end">20</text>
<text transform="translate(39.40,473.46) scale(0.715,1)" font-size="23.80" text-anchor="end">0</text>
<text transform="translate(183.30,531.40) scale(0.762,1)" font-size="25.20" text-anchor="middle">Time (days)</text>
<text transform="translate(179.85,296.60) scale(0.762,1)" font-size="25.20" text-anchor="middle">(c)</text>
<text transform="translate(9.00,365.00) scale(0.762,1)" font-size="25.40" text-anchor="middle">V</text>
</g>
<g id="panel-d">
<clipPath id="cpd"><rect x="398.70" y="305.50" width="268.30" height="156.15"/></clipPath>
<g clip-path="url(#cpd)" fill="none" stroke-width="1.05" stroke-linejoin="round">
<path d="M399.20,383.50 L399.45,386.66 L399.70,389.76 L399.95,392.76 L400.20,395.60 L400.45,398.23 L400.70,400.61 L400.95,402.70 L401.20,404.46 L401.45,405.86 L401.70,406.88 L401.95,407.49 L402.20,407.70 L402.45,407.64 L402.70,407.46 L402.95,407.15 L403.21,406.73 L403.46,406.19 L403.71,405.54 L403.96,404.77 L404.21,403.91 L404.46,402.95 L404.71,401.89 L404.96,400.75 L405.22,399.54 L405.47,398.25 L405.72,396.90 L405.97,395.50 L406.22,394.06 L406.47,392.58 L406.72,391.08 L406.97,389.56 L407.23,388.04 L407.48,386.52 L407.73,385.02 L407.98,383.54 L408.23,382.10 L408.48,380.70 L408.73,379.35 L408.98,378.06 L409.24,376.85 L409.49,375.71 L409.74,374.65 L409.99,373.69 L410.24,372.83 L410.49,372.06 L410.74,371.41 L410.99,370.87 L411.25,370.45 L411.50,370.14 L411.75,369.96 L412.00,369.90 L412.25,369.96 L412.51,370.16 L412.76,370.48 L413.01,370.92 L413.26,371.48 L413.52,372.17 L413.77,372.96 L414.02,373.87 L414.27,374.87 L414.53,375.97 L414.78,377.16 L415.03,378.42 L415.28,379.76 L415.54,381.16 L415.79,382.60 L416.04,384.09 L416.29,385.62 L416.55,387.16 L416.80,388.71 L417.05,390.26 L417.31,391.81 L417.56,393.33 L417.81,394.82 L418.06,396.27 L418.32,397.66 L418.57,399.00 L418.82,400.27 L419.07,401.45 L419.33,402.55 L419.58,403.56 L419.83,404.46 L420.08,405.26 L420.34,405.94 L420.59,406.50 L420.84,406.95 L421.09,407.27 L421.35,407.46 L421.60,407.52 L421.85,407.46 L422.10,407.28 L422.35,406.98 L422.61,406.56 L422.86,406.03 L423.11,405.38 L423.36,404.63 L423.61,403.78 L423.86,402.83 L424.11,401.79 L424.36,400.66 L424.62,399.46 L424.87,398.19 L425.12,396.86 L425.37,395.47 L425.62,394.05 L425.87,392.59 L426.12,391.10 L426.37,389.61 L426.63,388.10 L426.88,386.60 L427.13,385.12 L427.38,383.66 L427.63,382.23 L427.88,380.85 L428.13,379.52 L428.38,378.25 L428.64,377.05 L428.89,375.92 L429.14,374.88 L429.39,373.93 L429.64,373.07 L429.89,372.32 L430.14,371.68 L430.39,371.14 L430.65,370.73 L430.90,370.43 L431.15,370.24 L431.40,370.18 L431.65,370.25 L431.91,370.45 L432.16,370.78 L432.42,371.25 L432.67,371.83 L432.92,372.55 L433.18,373.37 L433.43,374.31 L433.69,375.36 L433.94,376.50 L434.19,377.72 L434.45,379.03 L434.70,380.41 L434.96,381.85 L435.21,383.34 L435.46,384.87 L435.72,386.42 L435.97,387.99 L436.23,389.57 L436.48,391.15 L436.74,392.70 L436.99,394.23 L437.24,395.72 L437.50,397.16 L437.75,398.54 L438.01,399.85 L438.26,401.07 L438.51,402.21 L438.77,403.26 L439.02,404.20 L439.28,405.02 L439.53,405.73 L439.78,406.32 L440.04,406.79 L440.29,407.12 L440.55,407.32 L440.80,407.39 L441.05,407.33 L441.30,407.15 L441.55,406.85 L441.81,406.43 L442.06,405.90 L442.31,405.27 L442.56,404.52 L442.81,403.68 L443.06,402.73 L443.31,401.70 L443.56,400.59 L443.82,399.39 L444.07,398.14 L444.32,396.82 L444.57,395.45 L444.82,394.03 L445.07,392.59 L445.32,391.12 L445.57,389.63 L445.83,388.14 L446.08,386.66 L446.33,385.19 L446.58,383.74 L446.83,382.33 L447.08,380.96 L447.33,379.64 L447.58,378.38 L447.84,377.19 L448.09,376.07 L448.34,375.04 L448.59,374.10 L448.84,373.25 L449.09,372.51 L449.34,371.87 L449.59,371.34 L449.85,370.92 L450.10,370.63 L450.35,370.45 L450.60,370.39 L450.85,370.45 L451.11,370.65 L451.36,370.98 L451.62,371.44 L451.87,372.02 L452.12,372.73 L452.38,373.55 L452.63,374.48 L452.89,375.52 L453.14,376.65 L453.39,377.86 L453.65,379.16 L453.90,380.53 L454.16,381.95 L454.41,383.43 L454.66,384.95 L454.92,386.49 L455.17,388.05 L455.43,389.62 L455.68,391.18 L455.94,392.72 L456.19,394.23 L456.44,395.71 L456.70,397.14 L456.95,398.50 L457.21,399.80 L457.46,401.02 L457.71,402.15 L457.97,403.18 L458.22,404.11 L458.48,404.94 L458.73,405.64 L458.98,406.22 L459.24,406.68 L459.49,407.01 L459.75,407.21 L460.00,407.28 L460.25,407.22 L460.50,407.04 L460.75,406.74 L461.01,406.33 L461.26,405.81 L461.51,405.17 L461.76,404.43 L462.01,403.59 L462.26,402.66 L462.51,401.63 L462.76,400.52 L463.02,399.34 L463.27,398.09 L463.52,396.78 L463.77,395.42 L464.02,394.02 L464.27,392.58 L464.52,391.12 L464.77,389.64 L465.03,388.17 L465.28,386.69 L465.53,385.23 L465.78,383.79 L466.03,382.39 L466.28,381.03 L466.53,379.72 L466.78,378.47 L467.04,377.29 L467.29,376.18 L467.54,375.15 L467.79,374.22 L468.04,373.38 L468.29,372.64 L468.54,372.00 L468.79,371.48 L469.05,371.07 L469.30,370.77 L469.55,370.59 L469.80,370.53 L470.05,370.59 L470.31,370.78 L470.56,371.09 L470.81,371.53 L471.06,372.08 L471.32,372.74 L471.57,373.52 L471.82,374.40 L472.07,375.38 L472.33,376.45 L472.58,377.60 L472.83,378.84 L473.08,380.14 L473.34,381.50 L473.59,382.91 L473.84,384.36 L474.09,385.85 L474.35,387.35 L474.60,388.86 L474.85,390.38 L475.11,391.88 L475.36,393.36 L475.61,394.82 L475.86,396.23 L476.12,397.59 L476.37,398.89 L476.62,400.12 L476.87,401.28 L477.13,402.35 L477.38,403.33 L477.63,404.21 L477.88,404.98 L478.14,405.65 L478.39,406.20 L478.64,406.63 L478.89,406.94 L479.15,407.13 L479.40,407.19 L479.65,407.14 L479.91,406.96 L480.16,406.66 L480.42,406.25 L480.67,405.73 L480.92,405.10 L481.18,404.36 L481.43,403.53 L481.68,402.60 L481.94,401.58 L482.19,400.48 L482.45,399.30 L482.70,398.05 L482.95,396.75 L483.21,395.40 L483.46,394.00 L483.72,392.57 L483.97,391.12 L484.22,389.65 L484.48,388.18 L484.73,386.71 L484.98,385.26 L485.24,383.83 L485.49,382.43 L485.75,381.08 L486.00,379.78 L486.25,378.53 L486.51,377.35 L486.76,376.25 L487.02,375.23 L487.27,374.30 L487.52,373.47 L487.78,372.73 L488.03,372.10 L488.28,371.58 L488.54,371.17 L488.79,370.87 L489.05,370.70 L489.30,370.64 L489.55,370.70 L489.81,370.90 L490.06,371.23 L490.32,371.68 L490.57,372.26 L490.82,372.95 L491.08,373.77 L491.33,374.69 L491.59,375.71 L491.84,376.83 L492.09,378.03 L492.35,379.32 L492.60,380.67 L492.86,382.08 L493.11,383.54 L493.36,385.04 L493.62,386.57 L493.87,388.11 L494.13,389.66 L494.38,391.20 L494.64,392.73 L494.89,394.23 L495.14,395.69 L495.40,397.10 L495.65,398.45 L495.91,399.73 L496.16,400.94 L496.41,402.06 L496.67,403.08 L496.92,404.00 L497.18,404.81 L497.43,405.51 L497.68,406.09 L497.94,406.54 L498.19,406.87 L498.45,407.06 L498.70,407.13 L498.95,407.07 L499.20,406.89 L499.45,406.60 L499.71,406.19 L499.96,405.67 L500.21,405.04 L500.46,404.31 L500.71,403.48 L500.96,402.55 L501.21,401.53 L501.46,400.44 L501.72,399.26 L501.97,398.02 L502.22,396.73 L502.47,395.38 L502.72,393.99 L502.97,392.56 L503.22,391.12 L503.47,389.65 L503.73,388.19 L503.98,386.73 L504.23,385.28 L504.48,383.85 L504.73,382.46 L504.98,381.11 L505.23,379.82 L505.48,378.58 L505.74,377.40 L505.99,376.31 L506.24,375.29 L506.49,374.36 L506.74,373.53 L506.99,372.80 L507.24,372.17 L507.49,371.65 L507.75,371.24 L508.00,370.95 L508.25,370.77 L508.50,370.71 L508.75,370.77 L509.01,370.96 L509.26,371.27 L509.51,371.70 L509.76,372.24 L510.02,372.90 L510.27,373.67 L510.52,374.55 L510.77,375.52 L511.03,376.58 L511.28,377.73 L511.53,378.95 L511.78,380.24 L512.04,381.59 L512.29,382.99 L512.54,384.43 L512.79,385.90 L513.05,387.39 L513.30,388.89 L513.55,390.40 L513.81,391.89 L514.06,393.36 L514.31,394.80 L514.56,396.20 L514.82,397.55 L515.07,398.84 L515.32,400.06 L515.57,401.21 L515.83,402.27 L516.08,403.24 L516.33,404.12 L516.58,404.89 L516.84,405.55 L517.09,406.09 L517.34,406.52 L517.59,406.83 L517.85,407.02 L518.10,407.08 L518.35,407.02 L518.60,406.84 L518.85,406.55 L519.11,406.14 L519.36,405.63 L519.61,405.00 L519.86,404.27 L520.11,403.44 L520.36,402.51 L520.61,401.50 L520.86,400.40 L521.12,399.24 L521.37,398.00 L521.62,396.71 L521.87,395.36 L522.12,393.97 L522.37,392.55 L522.62,391.11 L522.87,389.65 L523.13,388.19 L523.38,386.73 L523.63,385.29 L523.88,383.87 L524.13,382.48 L524.38,381.14 L524.63,379.84 L524.88,378.61 L525.14,377.44 L525.39,376.34 L525.64,375.33 L525.89,374.41 L526.14,373.58 L526.39,372.84 L526.64,372.22 L526.89,371.70 L527.15,371.29 L527.40,371.00 L527.65,370.82 L527.90,370.76 L528.16,370.83 L528.41,371.04 L528.67,371.38 L528.92,371.86 L529.18,372.46 L529.43,373.19 L529.69,374.04 L529.94,375.01 L530.20,376.08 L530.46,377.24 L530.71,378.50 L530.97,379.83 L531.22,381.24 L531.48,382.70 L531.73,384.21 L531.99,385.75 L532.24,387.32 L532.50,388.90 L532.76,390.48 L533.01,392.05 L533.27,393.60 L533.52,395.11 L533.78,396.57 L534.03,397.97 L534.29,399.30 L534.54,400.56 L534.80,401.73 L535.06,402.80 L535.31,403.76 L535.57,404.61 L535.82,405.34 L536.08,405.95 L536.33,406.42 L536.59,406.76 L536.84,406.97 L537.10,407.04 L537.35,406.98 L537.60,406.80 L537.85,406.51 L538.11,406.11 L538.36,405.59 L538.61,404.96 L538.86,404.23 L539.11,403.41 L539.36,402.48 L539.61,401.47 L539.86,400.38 L540.12,399.21 L540.37,397.98 L540.62,396.69 L540.87,395.35 L541.12,393.96 L541.37,392.55 L541.62,391.10 L541.87,389.65 L542.13,388.19 L542.38,386.74 L542.63,385.30 L542.88,383.88 L543.13,382.50 L543.38,381.15 L543.63,379.86 L543.88,378.63 L544.14,377.46 L544.39,376.37 L544.64,375.36 L544.89,374.44 L545.14,373.61 L545.39,372.88 L545.64,372.25 L545.89,371.74 L546.15,371.33 L546.40,371.04 L546.65,370.86 L546.90,370.80 L547.15,370.86 L547.41,371.05 L547.66,371.36 L547.91,371.78 L548.16,372.33 L548.42,372.98 L548.67,373.75 L548.92,374.62 L549.17,375.59 L549.43,376.65 L549.68,377.79 L549.93,379.00 L550.18,380.29 L550.44,381.63 L550.69,383.03 L550.94,384.46 L551.19,385.93 L551.45,387.41 L551.70,388.91 L551.95,390.40 L552.21,391.89 L552.46,393.35 L552.71,394.78 L552.96,396.18 L553.22,397.52 L553.47,398.81 L553.72,400.02 L553.97,401.17 L554.23,402.22 L554.48,403.19 L554.73,404.06 L554.98,404.83 L555.24,405.48 L555.49,406.03 L555.74,406.45 L555.99,406.76 L556.25,406.95 L556.50,407.01 L556.75,406.95 L557.01,406.77 L557.26,406.48 L557.52,406.08 L557.77,405.56 L558.02,404.94 L558.28,404.21 L558.53,403.38 L558.78,402.46 L559.04,401.45 L559.29,400.36 L559.55,399.20 L559.80,397.96 L560.05,396.67 L560.31,395.33 L560.56,393.95 L560.82,392.54 L561.07,391.10 L561.32,389.65 L561.58,388.19 L561.83,386.74 L562.08,385.30 L562.34,383.89 L562.59,382.50 L562.85,381.16 L563.10,379.87 L563.35,378.64 L563.61,377.48 L563.86,376.39 L564.12,375.38 L564.37,374.46 L564.62,373.63 L564.88,372.90 L565.13,372.28 L565.38,371.76 L565.64,371.36 L565.89,371.06 L566.15,370.89 L566.40,370.83 L566.65,370.90 L566.91,371.09 L567.16,371.41 L567.42,371.86 L567.67,372.44 L567.92,373.13 L568.18,373.93 L568.43,374.84 L568.69,375.86 L568.94,376.96 L569.19,378.16 L569.45,379.43 L569.70,380.77 L569.96,382.17 L570.21,383.61 L570.46,385.10 L570.72,386.61 L570.97,388.14 L571.23,389.67 L571.48,391.20 L571.74,392.72 L571.99,394.20 L572.24,395.65 L572.50,397.05 L572.75,398.39 L573.01,399.66 L573.26,400.85 L573.51,401.96 L573.77,402.97 L574.02,403.88 L574.28,404.69 L574.53,405.38 L574.78,405.95 L575.04,406.40 L575.29,406.72 L575.55,406.92 L575.80,406.98 L576.05,406.93 L576.30,406.75 L576.55,406.46 L576.81,406.05 L577.06,405.54 L577.31,404.91 L577.56,404.19 L577.81,403.36 L578.06,402.44 L578.31,401.43 L578.56,400.34 L578.82,399.18 L579.07,397.95 L579.32,396.66 L579.57,395.32 L579.82,393.94 L580.07,392.53 L580.32,391.10 L580.57,389.64 L580.83,388.19 L581.08,386.74 L581.33,385.30 L581.58,383.89 L581.83,382.51 L582.08,381.17 L582.33,379.88 L582.58,378.65 L582.84,377.49 L583.09,376.40 L583.34,375.39 L583.59,374.47 L583.84,373.65 L584.09,372.92 L584.34,372.30 L584.59,371.78 L584.85,371.38 L585.10,371.08 L585.35,370.91 L585.60,370.85 L585.85,370.92 L586.11,371.11 L586.36,371.43 L586.62,371.88 L586.87,372.45 L587.12,373.14 L587.38,373.95 L587.63,374.86 L587.89,375.87 L588.14,376.98 L588.39,378.17 L588.65,379.44 L588.90,380.78 L589.16,382.17 L589.41,383.62 L589.66,385.10 L589.92,386.61 L590.17,388.14 L590.43,389.67 L590.68,391.20 L590.94,392.71 L591.19,394.20 L591.44,395.64 L591.70,397.04 L591.95,398.38 L592.21,399.65 L592.46,400.84 L592.71,401.94 L592.97,402.96 L593.22,403.87 L593.48,404.67 L593.73,405.36 L593.98,405.93 L594.24,406.38 L594.49,406.71 L594.75,406.90 L595.00,406.97 L595.25,406.91 L595.50,406.73 L595.75,406.44 L596.01,406.04 L596.26,405.52 L596.51,404.90 L596.76,404.17 L597.01,403.35 L597.26,402.43 L597.51,401.42 L597.76,400.33 L598.02,399.17 L598.27,397.94 L598.52,396.65 L598.77,395.32 L599.02,393.94 L599.27,392.53 L599.52,391.09 L599.77,389.64 L600.03,388.19 L600.28,386.74 L600.53,385.30 L600.78,383.89 L601.03,382.51 L601.28,381.18 L601.53,379.89 L601.78,378.66 L602.04,377.50 L602.29,376.41 L602.54,375.40 L602.79,374.48 L603.04,373.66 L603.29,372.93 L603.54,372.31 L603.79,371.79 L604.05,371.39 L604.30,371.10 L604.55,370.92 L604.80,370.86 L605.05,370.93 L605.31,371.11 L605.56,371.42 L605.81,371.84 L606.06,372.38 L606.32,373.04 L606.57,373.80 L606.82,374.67 L607.07,375.63 L607.33,376.69 L607.58,377.83 L607.83,379.04 L608.08,380.32 L608.34,381.66 L608.59,383.05 L608.84,384.48 L609.09,385.94 L609.35,387.42 L609.60,388.91 L609.85,390.40 L610.11,391.88 L610.36,393.34 L610.61,394.77 L610.86,396.16 L611.12,397.50 L611.37,398.78 L611.62,399.99 L611.87,401.13 L612.13,402.18 L612.38,403.15 L612.63,404.01 L612.88,404.78 L613.14,405.43 L613.39,405.97 L613.64,406.40 L613.89,406.71 L614.15,406.89 L614.40,406.95 L614.65,406.89 L614.90,406.72 L615.15,406.43 L615.41,406.02 L615.66,405.51 L615.91,404.88 L616.16,404.16 L616.41,403.33 L616.66,402.41 L616.91,401.41 L617.16,400.32 L617.42,399.16 L617.67,397.93 L617.92,396.65 L618.17,395.31 L618.42,393.93 L618.67,392.52 L618.92,391.09 L619.17,389.64 L619.43,388.19 L619.68,386.74 L619.93,385.30 L620.18,383.89 L620.43,382.52 L620.68,381.18 L620.93,379.89 L621.18,378.67 L621.44,377.50 L621.69,376.42 L621.94,375.41 L622.19,374.49 L622.44,373.67 L622.69,372.94 L622.94,372.32 L623.19,371.80 L623.45,371.40 L623.70,371.11 L623.95,370.93 L624.20,370.87 L624.45,370.94 L624.71,371.13 L624.96,371.46 L625.22,371.90 L625.47,372.48 L625.72,373.16 L625.98,373.97 L626.23,374.88 L626.49,375.89 L626.74,376.99 L626.99,378.18 L627.25,379.45 L627.50,380.79 L627.76,382.18 L628.01,383.63 L628.26,385.11 L628.52,386.62 L628.77,388.14 L629.03,389.67 L629.28,391.20 L629.54,392.71 L629.79,394.19 L630.04,395.63 L630.30,397.03 L630.55,398.36 L630.81,399.63 L631.06,400.82 L631.31,401.93 L631.57,402.94 L631.82,403.85 L632.08,404.65 L632.33,405.34 L632.58,405.91 L632.84,406.36 L633.09,406.68 L633.35,406.87 L633.60,406.94 L633.85,406.88 L634.10,406.71 L634.35,406.42 L634.61,406.01 L634.86,405.50 L635.11,404.87 L635.36,404.15 L635.61,403.32 L635.86,402.41 L636.11,401.40 L636.36,400.31 L636.62,399.15 L636.87,397.93 L637.12,396.64 L637.37,395.30 L637.62,393.93 L637.87,392.52 L638.12,391.08 L638.37,389.64 L638.63,388.18 L638.88,386.74 L639.13,385.30 L639.38,383.89 L639.63,382.52 L639.88,381.18 L640.13,379.90 L640.38,378.67 L640.64,377.51 L640.89,376.42 L641.14,375.42 L641.39,374.50 L641.64,373.67 L641.89,372.95 L642.14,372.32 L642.39,371.81 L642.65,371.41 L642.90,371.12 L643.15,370.94 L643.40,370.88 L643.65,370.94 L643.91,371.13 L644.16,371.43 L644.41,371.86 L644.66,372.40 L644.92,373.05 L645.17,373.82 L645.42,374.68 L645.67,375.65 L645.93,376.70 L646.18,377.84 L646.43,379.05 L646.68,380.33 L646.94,381.67 L647.19,383.05 L647.44,384.48 L647.69,385.94 L647.95,387.42 L648.20,388.91 L648.45,390.39 L648.71,391.87 L648.96,393.33 L649.21,394.76 L649.46,396.15 L649.72,397.49 L649.97,398.76 L650.22,399.98 L650.47,401.11 L650.73,402.17 L650.98,403.13 L651.23,404.00 L651.48,404.76 L651.74,405.41 L651.99,405.95 L652.24,406.38 L652.49,406.69 L652.75,406.87 L653.00,406.93 L653.25,406.87 L653.50,406.70 L653.75,406.41 L654.01,406.00 L654.26,405.49 L654.51,404.87 L654.76,404.14 L655.01,403.32 L655.26,402.40 L655.51,401.39 L655.76,400.31 L656.02,399.15 L656.27,397.92 L656.52,396.63 L656.77,395.30 L657.02,393.92 L657.27,392.51 L657.52,391.08 L657.77,389.63 L658.03,388.18 L658.28,386.74 L658.53,385.30 L658.78,383.89 L659.03,382.52 L659.28,381.18 L659.53,379.90 L659.78,378.67 L660.04,377.51 L660.29,376.42 L660.54,375.42 L660.79,374.50 L661.04,373.68 L661.29,372.95 L661.54,372.33 L661.79,371.81 L662.05,371.41 L662.30,371.12 L662.55,370.95 L662.80,370.89 L663.05,370.95 L663.30,371.13 L663.55,371.44 L663.80,371.86 L664.05,372.40 L664.30,373.06 L664.55,373.82 L664.80,374.69 L665.05,375.65 L665.30,376.70 L665.55,377.84 L665.80,379.05 L666.05,380.33 L666.30,381.67 L666.55,383.05 L666.80,384.48 L667.05,385.94 L667.30,387.42 L667.55,388.91 L667.80,390.39" stroke="#0072BD"/>
<path d="M399.20,383.50 L399.47,387.38 L399.73,391.00 L400.00,394.11 L400.27,396.49 L400.53,397.99 L400.80,398.50 L401.05,398.44 L401.30,398.26 L401.55,397.97 L401.80,397.56 L402.05,397.04 L402.30,396.40 L402.55,395.66 L402.80,394.82 L403.05,393.87 L403.30,392.83 L403.55,391.70 L403.80,390.49 L404.05,389.20 L404.30,387.84 L404.55,386.42 L404.80,384.94 L405.05,383.41 L405.30,381.84 L405.55,380.23 L405.80,378.60 L406.05,376.96 L406.30,375.30 L406.55,373.64 L406.80,372.00 L407.05,370.37 L407.30,368.76 L407.55,367.19 L407.80,365.66 L408.05,364.18 L408.30,362.76 L408.55,361.40 L408.80,360.11 L409.05,358.90 L409.30,357.77 L409.55,356.73 L409.80,355.78 L410.05,354.94 L410.30,354.20 L410.55,353.56 L410.80,353.04 L411.05,352.63 L411.30,352.34 L411.55,352.16 L411.80,352.10 L412.05,352.14 L412.30,352.26 L412.55,352.46 L412.80,352.75 L413.05,353.11 L413.30,353.55 L413.55,354.07 L413.80,354.66 L414.05,355.33 L414.30,356.08 L414.55,356.89 L414.80,357.77 L415.05,358.72 L415.30,359.74 L415.55,360.81 L415.80,361.94 L416.05,363.13 L416.30,364.38 L416.55,365.67 L416.80,367.01 L417.05,368.39 L417.30,369.81 L417.55,371.27 L417.80,372.76 L418.05,374.28 L418.30,375.82 L418.55,377.38 L418.80,378.96 L419.05,380.55 L419.30,382.15 L419.55,383.75 L419.80,385.35 L420.05,386.95 L420.30,388.54 L420.55,390.12 L420.80,391.68 L421.05,393.22 L421.30,394.74 L421.55,396.23 L421.80,397.69 L422.05,399.11 L422.30,400.49 L422.55,401.83 L422.80,403.12 L423.05,404.37 L423.30,405.56 L423.55,406.69 L423.80,407.76 L424.05,408.78 L424.30,409.73 L424.55,410.61 L424.80,411.42 L425.05,412.17 L425.30,412.84 L425.55,413.43 L425.80,413.95 L426.05,414.39 L426.30,414.75 L426.55,415.04 L426.80,415.24 L427.05,415.36 L427.30,415.40 L427.55,415.36 L427.81,415.24 L428.06,415.04 L428.31,414.75 L428.57,414.39 L428.82,413.95 L429.07,413.43 L429.33,412.84 L429.58,412.17 L429.83,411.43 L430.09,410.63 L430.34,409.75 L430.59,408.81 L430.85,407.81 L431.10,406.75 L431.36,405.63 L431.61,404.46 L431.86,403.24 L432.12,401.98 L432.37,400.67 L432.62,399.33 L432.88,397.95 L433.13,396.54 L433.38,395.11 L433.64,393.65 L433.89,392.18 L434.14,390.69 L434.40,389.20 L434.65,387.70 L434.90,386.20 L435.16,384.71 L435.41,383.22 L435.66,381.75 L435.92,380.29 L436.17,378.86 L436.42,377.45 L436.68,376.07 L436.93,374.73 L437.18,373.42 L437.44,372.16 L437.69,370.94 L437.94,369.77 L438.20,368.65 L438.45,367.59 L438.71,366.59 L438.96,365.65 L439.21,364.77 L439.47,363.97 L439.72,363.23 L439.97,362.56 L440.23,361.97 L440.48,361.45 L440.73,361.01 L440.99,360.65 L441.24,360.36 L441.49,360.16 L441.75,360.04 L442.00,360.00 L442.25,360.03 L442.50,360.12 L442.76,360.27 L443.01,360.49 L443.26,360.76 L443.51,361.09 L443.77,361.48 L444.02,361.92 L444.27,362.43 L444.52,362.98 L444.78,363.59 L445.03,364.25 L445.28,364.97 L445.53,365.72 L445.79,366.53 L446.04,367.38 L446.29,368.27 L446.54,369.20 L446.80,370.16 L447.05,371.16 L447.30,372.19 L447.55,373.25 L447.81,374.34 L448.06,375.44 L448.31,376.57 L448.56,377.72 L448.82,378.88 L449.07,380.05 L449.32,381.22 L449.57,382.41 L449.83,383.59 L450.08,384.78 L450.33,385.95 L450.58,387.12 L450.84,388.28 L451.09,389.43 L451.34,390.56 L451.59,391.66 L451.85,392.75 L452.10,393.81 L452.35,394.84 L452.60,395.84 L452.86,396.80 L453.11,397.73 L453.36,398.62 L453.61,399.47 L453.87,400.28 L454.12,401.03 L454.37,401.75 L454.62,402.41 L454.88,403.02 L455.13,403.57 L455.38,404.08 L455.63,404.52 L455.89,404.91 L456.14,405.24 L456.39,405.51 L456.64,405.73 L456.90,405.88 L457.15,405.97 L457.40,406.00 L457.65,405.97 L457.90,405.88 L458.15,405.72 L458.40,405.51 L458.65,405.23 L458.91,404.89 L459.16,404.50 L459.41,404.05 L459.66,403.54 L459.91,402.98 L460.16,402.36 L460.41,401.70 L460.66,400.98 L460.91,400.22 L461.16,399.42 L461.41,398.57 L461.66,397.68 L461.92,396.76 L462.17,395.80 L462.42,394.81 L462.67,393.79 L462.92,392.75 L463.17,391.69 L463.42,390.61 L463.67,389.51 L463.92,388.40 L464.17,387.28 L464.42,386.16 L464.68,385.04 L464.93,383.92 L465.18,382.80 L465.43,381.69 L465.68,380.59 L465.93,379.51 L466.18,378.45 L466.43,377.41 L466.68,376.39 L466.93,375.40 L467.18,374.44 L467.44,373.52 L467.69,372.63 L467.94,371.78 L468.19,370.98 L468.44,370.22 L468.69,369.50 L468.94,368.84 L469.19,368.22 L469.44,367.66 L469.69,367.15 L469.94,366.70 L470.19,366.31 L470.45,365.97 L470.70,365.69 L470.95,365.48 L471.20,365.32 L471.45,365.23 L471.70,365.20 L471.95,365.22 L472.21,365.30 L472.46,365.42 L472.71,365.59 L472.96,365.81 L473.22,366.08 L473.47,366.39 L473.72,366.75 L473.97,367.15 L474.23,367.60 L474.48,368.09 L474.73,368.62 L474.98,369.19 L475.24,369.80 L475.49,370.45 L475.74,371.12 L475.99,371.84 L476.25,372.58 L476.50,373.35 L476.75,374.14 L477.00,374.96 L477.26,375.80 L477.51,376.66 L477.76,377.54 L478.01,378.43 L478.27,379.34 L478.52,380.25 L478.77,381.17 L479.02,382.09 L479.28,383.01 L479.53,383.93 L479.78,384.85 L480.03,385.76 L480.29,386.67 L480.54,387.56 L480.79,388.44 L481.04,389.30 L481.30,390.14 L481.55,390.96 L481.80,391.75 L482.05,392.52 L482.31,393.26 L482.56,393.98 L482.81,394.65 L483.06,395.30 L483.32,395.91 L483.57,396.48 L483.82,397.01 L484.07,397.50 L484.33,397.95 L484.58,398.35 L484.83,398.71 L485.08,399.02 L485.34,399.29 L485.59,399.51 L485.84,399.68 L486.09,399.80 L486.35,399.88 L486.60,399.90 L486.85,399.88 L487.11,399.81 L487.36,399.69 L487.61,399.53 L487.87,399.33 L488.12,399.08 L488.37,398.78 L488.63,398.44 L488.88,398.07 L489.13,397.65 L489.39,397.19 L489.64,396.69 L489.89,396.15 L490.15,395.58 L490.40,394.98 L490.66,394.35 L490.91,393.68 L491.16,392.99 L491.42,392.27 L491.67,391.53 L491.92,390.76 L492.18,389.98 L492.43,389.18 L492.68,388.36 L492.94,387.54 L493.19,386.70 L493.44,385.85 L493.70,385.00 L493.95,384.15 L494.20,383.30 L494.46,382.45 L494.71,381.60 L494.96,380.76 L495.22,379.94 L495.47,379.12 L495.72,378.32 L495.98,377.54 L496.23,376.77 L496.48,376.03 L496.74,375.31 L496.99,374.62 L497.24,373.95 L497.50,373.32 L497.75,372.72 L498.01,372.15 L498.26,371.61 L498.51,371.11 L498.77,370.65 L499.02,370.23 L499.27,369.86 L499.53,369.52 L499.78,369.22 L500.03,368.97 L500.29,368.77 L500.54,368.61 L500.79,368.49 L501.05,368.42 L501.30,368.40 L501.55,368.42 L501.81,368.48 L502.06,368.57 L502.31,368.71 L502.56,368.88 L502.82,369.09 L503.07,369.34 L503.32,369.62 L503.57,369.94 L503.83,370.30 L504.08,370.68 L504.33,371.10 L504.58,371.55 L504.84,372.03 L505.09,372.54 L505.34,373.08 L505.59,373.64 L505.85,374.23 L506.10,374.83 L506.35,375.46 L506.60,376.11 L506.86,376.77 L507.11,377.45 L507.36,378.14 L507.61,378.85 L507.87,379.56 L508.12,380.28 L508.37,381.01 L508.62,381.74 L508.88,382.46 L509.13,383.19 L509.38,383.92 L509.63,384.64 L509.89,385.35 L510.14,386.06 L510.39,386.75 L510.64,387.43 L510.90,388.09 L511.15,388.74 L511.40,389.37 L511.65,389.97 L511.91,390.56 L512.16,391.12 L512.41,391.66 L512.66,392.17 L512.92,392.65 L513.17,393.10 L513.42,393.52 L513.67,393.90 L513.93,394.26 L514.18,394.58 L514.43,394.86 L514.68,395.11 L514.94,395.32 L515.19,395.49 L515.44,395.63 L515.69,395.72 L515.95,395.78 L516.20,395.80 L516.45,395.78 L516.70,395.73 L516.95,395.65 L517.20,395.53 L517.45,395.37 L517.71,395.19 L517.96,394.97 L518.21,394.71 L518.46,394.43 L518.71,394.12 L518.96,393.77 L519.21,393.40 L519.46,393.00 L519.71,392.58 L519.96,392.13 L520.21,391.65 L520.46,391.15 L520.72,390.63 L520.97,390.09 L521.22,389.54 L521.47,388.96 L521.72,388.37 L521.97,387.77 L522.22,387.16 L522.47,386.53 L522.72,385.90 L522.97,385.26 L523.22,384.62 L523.47,383.97 L523.73,383.33 L523.98,382.68 L524.23,382.04 L524.48,381.40 L524.73,380.77 L524.98,380.14 L525.23,379.53 L525.48,378.93 L525.73,378.34 L525.98,377.76 L526.23,377.21 L526.48,376.67 L526.74,376.15 L526.99,375.65 L527.24,375.17 L527.49,374.72 L527.74,374.30 L527.99,373.90 L528.24,373.53 L528.49,373.18 L528.74,372.87 L528.99,372.59 L529.24,372.33 L529.49,372.11 L529.75,371.93 L530.00,371.77 L530.25,371.65 L530.50,371.57 L530.75,371.52 L531.00,371.50 L531.25,371.52 L531.50,371.56 L531.75,371.64 L532.00,371.76 L532.25,371.90 L532.51,372.07 L532.76,372.28 L533.01,372.51 L533.26,372.78 L533.51,373.07 L533.76,373.39 L534.01,373.74 L534.26,374.11 L534.51,374.50 L534.76,374.92 L535.01,375.36 L535.26,375.82 L535.52,376.30 L535.77,376.80 L536.02,377.31 L536.27,377.84 L536.52,378.38 L536.77,378.94 L537.02,379.50 L537.27,380.07 L537.52,380.64 L537.77,381.22 L538.02,381.81 L538.28,382.39 L538.53,382.98 L538.78,383.56 L539.03,384.13 L539.28,384.70 L539.53,385.26 L539.78,385.82 L540.03,386.36 L540.28,386.89 L540.53,387.40 L540.78,387.90 L541.04,388.38 L541.29,388.84 L541.54,389.28 L541.79,389.70 L542.04,390.09 L542.29,390.46 L542.54,390.81 L542.79,391.13 L543.04,391.42 L543.29,391.69 L543.54,391.92 L543.79,392.13 L544.05,392.30 L544.30,392.44 L544.55,392.56 L544.80,392.64 L545.05,392.68 L545.30,392.70 L545.55,392.69 L545.80,392.65 L546.05,392.59 L546.30,392.50 L546.55,392.38 L546.80,392.25 L547.06,392.08 L547.31,391.90 L547.56,391.69 L547.81,391.45 L548.06,391.20 L548.31,390.92 L548.56,390.63 L548.81,390.31 L549.06,389.98 L549.31,389.62 L549.56,389.25 L549.81,388.86 L550.07,388.46 L550.32,388.04 L550.57,387.61 L550.82,387.17 L551.07,386.72 L551.32,386.25 L551.57,385.78 L551.82,385.31 L552.07,384.82 L552.32,384.33 L552.57,383.84 L552.82,383.35 L553.08,382.85 L553.33,382.36 L553.58,381.87 L553.83,381.38 L554.08,380.89 L554.33,380.42 L554.58,379.95 L554.83,379.48 L555.08,379.03 L555.33,378.59 L555.58,378.16 L555.83,377.74 L556.09,377.34 L556.34,376.95 L556.59,376.58 L556.84,376.22 L557.09,375.89 L557.34,375.57 L557.59,375.28 L557.84,375.00 L558.09,374.75 L558.34,374.51 L558.59,374.30 L558.84,374.12 L559.10,373.95 L559.35,373.82 L559.60,373.70 L559.85,373.61 L560.10,373.55 L560.35,373.51 L560.60,373.50 L560.85,373.51 L561.11,373.55 L561.36,373.61 L561.61,373.70 L561.87,373.81 L562.12,373.95 L562.37,374.11 L562.63,374.29 L562.88,374.50 L563.13,374.73 L563.39,374.98 L563.64,375.25 L563.89,375.55 L564.15,375.86 L564.40,376.19 L564.66,376.53 L564.91,376.90 L565.16,377.27 L565.42,377.67 L565.67,378.07 L565.92,378.49 L566.18,378.92 L566.43,379.35 L566.68,379.80 L566.94,380.25 L567.19,380.71 L567.44,381.17 L567.70,381.63 L567.95,382.10 L568.20,382.57 L568.46,383.03 L568.71,383.49 L568.96,383.95 L569.22,384.40 L569.47,384.85 L569.72,385.28 L569.98,385.71 L570.23,386.13 L570.48,386.53 L570.74,386.93 L570.99,387.30 L571.24,387.67 L571.50,388.01 L571.75,388.34 L572.01,388.65 L572.26,388.95 L572.51,389.22 L572.77,389.47 L573.02,389.70 L573.27,389.91 L573.53,390.09 L573.78,390.25 L574.03,390.39 L574.29,390.50 L574.54,390.59 L574.79,390.65 L575.05,390.69 L575.30,390.70 L575.55,390.69 L575.80,390.66 L576.05,390.60 L576.30,390.53 L576.55,390.43 L576.80,390.32 L577.05,390.18 L577.30,390.02 L577.55,389.84 L577.80,389.65 L578.05,389.43 L578.30,389.20 L578.55,388.95 L578.80,388.68 L579.05,388.40 L579.30,388.10 L579.55,387.79 L579.80,387.46 L580.05,387.13 L580.30,386.77 L580.55,386.41 L580.80,386.04 L581.05,385.66 L581.30,385.28 L581.55,384.88 L581.80,384.48 L582.05,384.08 L582.30,383.67 L582.55,383.26 L582.80,382.85 L583.05,382.44 L583.30,382.03 L583.55,381.62 L583.80,381.22 L584.05,380.82 L584.30,380.42 L584.55,380.04 L584.80,379.66 L585.05,379.29 L585.30,378.93 L585.55,378.57 L585.80,378.24 L586.05,377.91 L586.30,377.60 L586.55,377.30 L586.80,377.02 L587.05,376.75 L587.30,376.50 L587.55,376.27 L587.80,376.05 L588.05,375.86 L588.30,375.68 L588.55,375.52 L588.80,375.38 L589.05,375.27 L589.30,375.17 L589.55,375.10 L589.80,375.04 L590.05,375.01 L590.30,375.00 L590.55,375.01 L590.81,375.04 L591.06,375.09 L591.31,375.17 L591.57,375.26 L591.82,375.37 L592.07,375.51 L592.33,375.66 L592.58,375.83 L592.83,376.02 L593.09,376.23 L593.34,376.46 L593.59,376.70 L593.85,376.96 L594.10,377.23 L594.36,377.52 L594.61,377.82 L594.86,378.14 L595.12,378.46 L595.37,378.80 L595.62,379.15 L595.88,379.50 L596.13,379.87 L596.38,380.24 L596.64,380.61 L596.89,380.99 L597.14,381.38 L597.40,381.76 L597.65,382.15 L597.90,382.54 L598.16,382.92 L598.41,383.31 L598.66,383.69 L598.92,384.06 L599.17,384.43 L599.42,384.80 L599.68,385.15 L599.93,385.50 L600.18,385.84 L600.44,386.16 L600.69,386.48 L600.94,386.78 L601.20,387.07 L601.45,387.34 L601.71,387.60 L601.96,387.84 L602.21,388.07 L602.47,388.28 L602.72,388.47 L602.97,388.64 L603.23,388.79 L603.48,388.93 L603.73,389.04 L603.99,389.13 L604.24,389.21 L604.49,389.26 L604.75,389.29 L605.00,389.30 L605.25,389.29 L605.51,389.26 L605.76,389.22 L606.01,389.15 L606.26,389.07 L606.52,388.97 L606.77,388.86 L607.02,388.72 L607.27,388.57 L607.53,388.41 L607.78,388.22 L608.03,388.03 L608.28,387.82 L608.54,387.59 L608.79,387.35 L609.04,387.10 L609.29,386.83 L609.55,386.56 L609.80,386.27 L610.05,385.98 L610.30,385.67 L610.56,385.36 L610.81,385.04 L611.06,384.71 L611.31,384.38 L611.57,384.05 L611.82,383.71 L612.07,383.36 L612.32,383.02 L612.58,382.68 L612.83,382.34 L613.08,381.99 L613.33,381.65 L613.59,381.32 L613.84,380.99 L614.09,380.66 L614.34,380.34 L614.60,380.03 L614.85,379.72 L615.10,379.43 L615.35,379.14 L615.61,378.87 L615.86,378.60 L616.11,378.35 L616.36,378.11 L616.62,377.88 L616.87,377.67 L617.12,377.48 L617.37,377.29 L617.63,377.13 L617.88,376.98 L618.13,376.84 L618.38,376.73 L618.64,376.63 L618.89,376.55 L619.14,376.48 L619.39,376.44 L619.65,376.41 L619.90,376.40 L620.15,376.41 L620.41,376.43 L620.66,376.47 L620.91,376.53 L621.16,376.60 L621.42,376.69 L621.67,376.80 L621.92,376.92 L622.17,377.05 L622.43,377.20 L622.68,377.37 L622.93,377.54 L623.18,377.73 L623.44,377.94 L623.69,378.15 L623.94,378.38 L624.19,378.62 L624.45,378.87 L624.70,379.12 L624.95,379.39 L625.20,379.66 L625.46,379.94 L625.71,380.23 L625.96,380.53 L626.21,380.82 L626.47,381.13 L626.72,381.43 L626.97,381.74 L627.22,382.05 L627.48,382.35 L627.73,382.66 L627.98,382.97 L628.23,383.27 L628.49,383.58 L628.74,383.87 L628.99,384.17 L629.24,384.46 L629.50,384.74 L629.75,385.01 L630.00,385.28 L630.25,385.53 L630.51,385.78 L630.76,386.02 L631.01,386.25 L631.26,386.46 L631.52,386.67 L631.77,386.86 L632.02,387.03 L632.27,387.20 L632.53,387.35 L632.78,387.48 L633.03,387.60 L633.28,387.71 L633.54,387.80 L633.79,387.87 L634.04,387.93 L634.29,387.97 L634.55,387.99 L634.80,388.00 L635.05,387.99 L635.31,387.97 L635.56,387.93 L635.81,387.88 L636.07,387.81 L636.32,387.72 L636.57,387.62 L636.83,387.51 L637.08,387.38 L637.33,387.24 L637.59,387.09 L637.84,386.92 L638.09,386.74 L638.35,386.55 L638.60,386.34 L638.86,386.13 L639.11,385.91 L639.36,385.67 L639.62,385.43 L639.87,385.18 L640.12,384.93 L640.38,384.66 L640.63,384.39 L640.88,384.12 L641.14,383.84 L641.39,383.56 L641.64,383.27 L641.90,382.99 L642.15,382.70 L642.40,382.41 L642.66,382.13 L642.91,381.84 L643.16,381.56 L643.42,381.28 L643.67,381.01 L643.92,380.74 L644.18,380.47 L644.43,380.22 L644.68,379.97 L644.94,379.73 L645.19,379.49 L645.44,379.27 L645.70,379.06 L645.95,378.85 L646.21,378.66 L646.46,378.48 L646.71,378.31 L646.97,378.16 L647.22,378.02 L647.47,377.89 L647.73,377.78 L647.98,377.68 L648.23,377.59 L648.49,377.52 L648.74,377.47 L648.99,377.43 L649.25,377.41 L649.50,377.40 L649.75,377.41 L650.00,377.43 L650.26,377.46 L650.51,377.50 L650.76,377.56 L651.01,377.63 L651.27,377.71 L651.52,377.80 L651.77,377.91 L652.02,378.02 L652.28,378.15 L652.53,378.29 L652.78,378.44 L653.03,378.59 L653.29,378.76 L653.54,378.94 L653.79,379.13 L654.04,379.32 L654.30,379.52 L654.55,379.73 L654.80,379.94 L655.05,380.17 L655.31,380.39 L655.56,380.62 L655.81,380.86 L656.06,381.10 L656.32,381.34 L656.57,381.58 L656.82,381.83 L657.07,382.08 L657.33,382.32 L657.58,382.57 L657.83,382.82 L658.08,383.06 L658.34,383.30 L658.59,383.54 L658.84,383.78 L659.09,384.01 L659.35,384.23 L659.60,384.46 L659.85,384.67 L660.10,384.88 L660.36,385.08 L660.61,385.27 L660.86,385.46 L661.11,385.64 L661.37,385.81 L661.62,385.96 L661.87,386.11 L662.12,386.25 L662.38,386.38 L662.63,386.49 L662.88,386.60 L663.13,386.69 L663.39,386.77 L663.64,386.84 L663.89,386.90 L664.14,386.94 L664.40,386.97 L664.65,386.99 L664.90,387.00 L665.15,386.99 L665.40,386.97 L665.66,386.94 L665.91,386.90 L666.16,386.84 L666.41,386.77 L666.66,386.69 L666.91,386.59 L667.17,386.49 L667.42,386.37 L667.67,386.24 L667.92,386.10" stroke="#D95319"/>
</g>
<path d="M466.15,460.45 v-4.30 M466.15,306.70 v4.30 M533.10,460.45 v-4.30 M533.10,306.70 v4.30 M600.05,460.45 v-4.30 M600.05,306.70 v4.30 M399.20,383.50 h3.00 M667.00,383.50 h-3.00" stroke="#262626" stroke-width="1.1" fill="none"/>
<path d="M398.75,306.70 H667.50 M398.75,460.45 H667.50" fill="none" stroke="#262626" stroke-width="1.3"/>
<path d="M399.15,306.70 V460.45" fill="none" stroke="#262626" stroke-width="0.9"/>
<path d="M666.95,306.70 V460.45" fill="none" stroke="#262626" stroke-width="1.05"/>
<text transform="translate(399.20,492.60) scale(0.715,1)" font-size="23.80" text-anchor="middle">0</text>
<text transform="translate(466.15,492.60) scale(0.715,1)" font-size="23.80" text-anchor="middle">300</text>
<text transform="translate(533.10,492.60) scale(0.715,1)" font-size="23.80" text-anchor="middle">600</text>
<text transform="translate(600.05,492.60) scale(0.715,1)" font-size="23.80" text-anchor="middle">900</text>
<text transform="translate(667.00,492.60) scale(0.715,1)" font-size="23.80" text-anchor="middle">1200</text>
<text transform="translate(392.40,316.11) scale(0.715,1)" font-size="23.80" text-anchor="end">10</text>
<text transform="translate(392.40,392.91) scale(0.715,1)" font-size="23.80" text-anchor="end">9.5</text>
<text transform="translate(392.40,469.86) scale(0.715,1)" font-size="23.80" text-anchor="end">9</text>
<text transform="translate(537.30,528.10) scale(0.762,1)" font-size="25.20" text-anchor="middle">Time (days)</text>
<text transform="translate(533.10,296.55) scale(0.762,1)" font-size="25.20" text-anchor="middle">(d)</text>
<text transform="translate(356.10,368.00) scale(0.762,1)" font-size="25.40" text-anchor="middle">E</text>
</g>
<g id="panel-e">
<clipPath id="cpe"><rect x="44.10" y="568.50" width="268.50" height="143.20"/></clipPath>
<g clip-path="url(#cpe)" fill="none" stroke-width="1.05" stroke-linejoin="round">
<path d="M44.60,640.20 L44.85,637.93 L45.10,635.68 L45.36,633.44 L45.61,631.22 L45.86,629.04 L46.11,626.91 L46.36,624.83 L46.62,622.81 L46.87,620.86 L47.12,618.98 L47.37,617.19 L47.62,615.49 L47.88,613.88 L48.13,612.38 L48.38,610.99 L48.63,609.72 L48.88,608.57 L49.14,607.54 L49.39,606.64 L49.64,605.87 L49.89,605.23 L50.14,604.74 L50.40,604.38 L50.65,604.17 L50.90,604.10 L51.15,604.19 L51.41,604.47 L51.66,604.93 L51.91,605.57 L52.16,606.39 L52.42,607.37 L52.67,608.51 L52.92,609.80 L53.17,611.23 L53.43,612.78 L53.68,614.45 L53.93,616.22 L54.18,618.08 L54.44,620.00 L54.69,621.99 L54.94,624.01 L55.19,626.05 L55.45,628.10 L55.70,630.14 L55.95,632.16 L56.21,634.13 L56.46,636.05 L56.71,637.90 L56.96,639.67 L57.22,641.34 L57.47,642.91 L57.72,644.36 L57.97,645.68 L58.23,646.88 L58.48,647.93 L58.73,648.85 L58.98,649.63 L59.24,650.26 L59.49,650.75 L59.74,651.11 L59.99,651.35 L60.25,651.47 L60.50,651.50 L60.75,651.47 L61.00,651.36 L61.25,651.14 L61.51,650.80 L61.76,650.34 L62.01,649.74 L62.26,649.01 L62.51,648.15 L62.76,647.16 L63.01,646.03 L63.26,644.79 L63.52,643.42 L63.77,641.94 L64.02,640.35 L64.27,638.68 L64.52,636.92 L64.77,635.09 L65.02,633.20 L65.27,631.26 L65.53,629.30 L65.78,627.32 L66.03,625.34 L66.28,623.37 L66.53,621.43 L66.78,619.53 L67.03,617.69 L67.28,615.92 L67.54,614.24 L67.79,612.65 L68.04,611.18 L68.29,609.83 L68.54,608.61 L68.79,607.53 L69.04,606.60 L69.29,605.83 L69.55,605.23 L69.80,604.79 L70.05,604.53 L70.30,604.44 L70.55,604.54 L70.81,604.81 L71.06,605.27 L71.31,605.90 L71.56,606.70 L71.82,607.67 L72.07,608.80 L72.32,610.07 L72.57,611.48 L72.83,613.02 L73.08,614.67 L73.33,616.41 L73.58,618.25 L73.84,620.15 L74.09,622.10 L74.34,624.10 L74.59,626.12 L74.85,628.14 L75.10,630.16 L75.35,632.15 L75.61,634.10 L75.86,636.00 L76.11,637.83 L76.36,639.57 L76.62,641.23 L76.87,642.77 L77.12,644.21 L77.37,645.52 L77.63,646.70 L77.88,647.75 L78.13,648.65 L78.38,649.42 L78.64,650.05 L78.89,650.54 L79.14,650.89 L79.39,651.13 L79.65,651.25 L79.90,651.28 L80.15,651.25 L80.41,651.13 L80.66,650.90 L80.91,650.54 L81.16,650.05 L81.42,649.43 L81.67,648.67 L81.92,647.76 L82.17,646.72 L82.43,645.55 L82.68,644.24 L82.93,642.82 L83.18,641.28 L83.44,639.64 L83.69,637.90 L83.94,636.08 L84.19,634.20 L84.45,632.26 L84.70,630.28 L84.95,628.27 L85.21,626.26 L85.46,624.26 L85.71,622.27 L85.96,620.33 L86.22,618.44 L86.47,616.62 L86.72,614.88 L86.97,613.24 L87.23,611.72 L87.48,610.32 L87.73,609.05 L87.98,607.93 L88.24,606.97 L88.49,606.17 L88.74,605.54 L88.99,605.09 L89.25,604.82 L89.50,604.73 L89.75,604.81 L90.00,605.07 L90.25,605.50 L90.51,606.09 L90.76,606.85 L91.01,607.76 L91.26,608.82 L91.51,610.03 L91.76,611.36 L92.01,612.81 L92.26,614.37 L92.52,616.03 L92.77,617.77 L93.02,619.58 L93.27,621.45 L93.52,623.37 L93.77,625.30 L94.02,627.26 L94.27,629.21 L94.53,631.14 L94.78,633.05 L95.03,634.91 L95.28,636.71 L95.53,638.45 L95.78,640.10 L96.03,641.66 L96.28,643.12 L96.54,644.47 L96.79,645.71 L97.04,646.82 L97.29,647.80 L97.54,648.65 L97.79,649.37 L98.04,649.95 L98.29,650.41 L98.55,650.75 L98.80,650.96 L99.05,651.08 L99.30,651.11 L99.55,651.07 L99.81,650.95 L100.06,650.70 L100.32,650.33 L100.57,649.81 L100.82,649.16 L101.08,648.35 L101.33,647.40 L101.59,646.31 L101.84,645.08 L102.09,643.72 L102.35,642.23 L102.60,640.62 L102.86,638.91 L103.11,637.11 L103.36,635.23 L103.62,633.28 L103.87,631.29 L104.13,629.26 L104.38,627.21 L104.64,625.17 L104.89,623.14 L105.14,621.14 L105.40,619.19 L105.65,617.32 L105.91,615.52 L106.16,613.82 L106.41,612.24 L106.67,610.79 L106.92,609.47 L107.18,608.30 L107.43,607.30 L107.68,606.47 L107.94,605.81 L108.19,605.34 L108.45,605.05 L108.70,604.96 L108.95,605.04 L109.20,605.30 L109.45,605.72 L109.71,606.31 L109.96,607.06 L110.21,607.97 L110.46,609.02 L110.71,610.21 L110.96,611.53 L111.21,612.97 L111.46,614.52 L111.72,616.17 L111.97,617.89 L112.22,619.69 L112.47,621.55 L112.72,623.44 L112.97,625.36 L113.22,627.30 L113.47,629.24 L113.73,631.16 L113.98,633.05 L114.23,634.89 L114.48,636.68 L114.73,638.40 L114.98,640.04 L115.23,641.59 L115.48,643.04 L115.74,644.38 L115.99,645.61 L116.24,646.71 L116.49,647.68 L116.74,648.53 L116.99,649.24 L117.24,649.83 L117.49,650.28 L117.75,650.61 L118.00,650.83 L118.25,650.94 L118.50,650.97 L118.75,650.94 L119.01,650.82 L119.26,650.59 L119.51,650.24 L119.76,649.76 L120.02,649.14 L120.27,648.39 L120.52,647.50 L120.77,646.48 L121.03,645.32 L121.28,644.03 L121.53,642.63 L121.78,641.11 L122.04,639.49 L122.29,637.78 L122.54,635.99 L122.79,634.14 L123.05,632.23 L123.30,630.28 L123.55,628.31 L123.81,626.33 L124.06,624.35 L124.31,622.40 L124.56,620.49 L124.82,618.63 L125.07,616.84 L125.32,615.13 L125.57,613.52 L125.83,612.02 L126.08,610.64 L126.33,609.40 L126.58,608.30 L126.84,607.35 L127.09,606.57 L127.34,605.95 L127.59,605.50 L127.85,605.24 L128.10,605.15 L128.35,605.24 L128.61,605.50 L128.86,605.95 L129.11,606.56 L129.36,607.35 L129.62,608.29 L129.87,609.39 L130.12,610.63 L130.37,612.00 L130.63,613.50 L130.88,615.11 L131.13,616.81 L131.38,618.60 L131.64,620.45 L131.89,622.36 L132.14,624.31 L132.39,626.28 L132.65,628.25 L132.90,630.22 L133.15,632.16 L133.41,634.07 L133.66,635.92 L133.91,637.70 L134.16,639.41 L134.42,641.03 L134.67,642.54 L134.92,643.94 L135.17,645.22 L135.43,646.38 L135.68,647.40 L135.93,648.29 L136.18,649.04 L136.44,649.66 L136.69,650.14 L136.94,650.49 L137.19,650.72 L137.45,650.84 L137.70,650.87 L137.95,650.84 L138.21,650.72 L138.46,650.49 L138.71,650.14 L138.96,649.66 L139.22,649.05 L139.47,648.30 L139.72,647.41 L139.97,646.39 L140.23,645.24 L140.48,643.96 L140.73,642.56 L140.98,641.06 L141.24,639.45 L141.49,637.74 L141.74,635.97 L141.99,634.12 L142.25,632.22 L142.50,630.28 L142.75,628.32 L143.01,626.36 L143.26,624.39 L143.51,622.45 L143.76,620.55 L144.02,618.70 L144.27,616.92 L144.52,615.23 L144.77,613.63 L145.03,612.13 L145.28,610.77 L145.53,609.53 L145.78,608.44 L146.04,607.49 L146.29,606.71 L146.54,606.10 L146.79,605.66 L147.05,605.39 L147.30,605.30 L147.55,605.39 L147.81,605.64 L148.06,606.06 L148.32,606.64 L148.57,607.38 L148.82,608.27 L149.08,609.31 L149.33,610.49 L149.58,611.79 L149.84,613.22 L150.09,614.75 L150.35,616.37 L150.60,618.08 L150.85,619.85 L151.11,621.69 L151.36,623.56 L151.62,625.46 L151.87,627.37 L152.12,629.29 L152.38,631.18 L152.63,633.05 L152.88,634.88 L153.14,636.65 L153.39,638.35 L153.65,639.97 L153.90,641.50 L154.15,642.94 L154.41,644.26 L154.66,645.47 L154.92,646.56 L155.17,647.53 L155.42,648.37 L155.68,649.07 L155.93,649.65 L156.18,650.10 L156.44,650.43 L156.69,650.65 L156.95,650.76 L157.20,650.79 L157.45,650.76 L157.71,650.64 L157.96,650.41 L158.21,650.06 L158.46,649.58 L158.72,648.97 L158.97,648.23 L159.22,647.34 L159.47,646.33 L159.73,645.18 L159.98,643.91 L160.23,642.52 L160.48,641.01 L160.74,639.41 L160.99,637.72 L161.24,635.95 L161.49,634.11 L161.75,632.22 L162.00,630.29 L162.25,628.34 L162.51,626.38 L162.76,624.43 L163.01,622.50 L163.26,620.61 L163.52,618.77 L163.77,616.99 L164.02,615.31 L164.27,613.71 L164.53,612.23 L164.78,610.86 L165.03,609.63 L165.28,608.55 L165.54,607.61 L165.79,606.83 L166.04,606.22 L166.29,605.78 L166.55,605.52 L166.80,605.43 L167.05,605.52 L167.31,605.78 L167.56,606.22 L167.81,606.83 L168.06,607.61 L168.32,608.54 L168.57,609.63 L168.82,610.86 L169.07,612.22 L169.33,613.70 L169.58,615.29 L169.83,616.98 L170.08,618.75 L170.34,620.58 L170.59,622.47 L170.84,624.40 L171.09,626.35 L171.35,628.31 L171.60,630.25 L171.85,632.18 L172.11,634.07 L172.36,635.90 L172.61,637.67 L172.86,639.36 L173.12,640.96 L173.37,642.46 L173.62,643.85 L173.87,645.12 L174.13,646.27 L174.38,647.28 L174.63,648.17 L174.88,648.91 L175.14,649.52 L175.39,650.00 L175.64,650.35 L175.89,650.57 L176.15,650.69 L176.40,650.72 L176.65,650.69 L176.91,650.56 L177.16,650.32 L177.42,649.95 L177.67,649.45 L177.92,648.80 L178.18,648.01 L178.43,647.08 L178.69,646.01 L178.94,644.80 L179.19,643.46 L179.45,642.00 L179.70,640.43 L179.96,638.76 L180.21,636.99 L180.46,635.15 L180.72,633.24 L180.97,631.29 L181.23,629.30 L181.48,627.30 L181.74,625.30 L181.99,623.31 L182.24,621.36 L182.50,619.45 L182.75,617.62 L183.01,615.86 L183.26,614.20 L183.51,612.65 L183.77,611.23 L184.02,609.94 L184.28,608.80 L184.53,607.82 L184.78,607.01 L185.04,606.37 L185.29,605.90 L185.55,605.62 L185.80,605.53 L186.05,605.62 L186.31,605.88 L186.56,606.32 L186.81,606.93 L187.06,607.70 L187.32,608.63 L187.57,609.72 L187.82,610.94 L188.07,612.30 L188.33,613.77 L188.58,615.36 L188.83,617.04 L189.08,618.80 L189.34,620.63 L189.59,622.52 L189.84,624.44 L190.09,626.38 L190.35,628.33 L190.60,630.27 L190.85,632.19 L191.11,634.07 L191.36,635.90 L191.61,637.66 L191.86,639.35 L192.12,640.94 L192.37,642.44 L192.62,643.82 L192.87,645.09 L193.13,646.23 L193.38,647.24 L193.63,648.12 L193.88,648.87 L194.14,649.48 L194.39,649.95 L194.64,650.30 L194.89,650.52 L195.15,650.64 L195.40,650.67 L195.65,650.65 L195.90,650.53 L196.15,650.32 L196.41,649.99 L196.66,649.55 L196.91,648.97 L197.16,648.27 L197.41,647.44 L197.66,646.48 L197.91,645.40 L198.16,644.20 L198.42,642.89 L198.67,641.47 L198.92,639.95 L199.17,638.34 L199.42,636.65 L199.67,634.90 L199.92,633.09 L200.17,631.24 L200.43,629.36 L200.68,627.47 L200.93,625.58 L201.18,623.69 L201.43,621.84 L201.68,620.02 L201.93,618.27 L202.18,616.58 L202.44,614.97 L202.69,613.45 L202.94,612.04 L203.19,610.75 L203.44,609.59 L203.69,608.56 L203.94,607.68 L204.19,606.94 L204.45,606.37 L204.70,605.95 L204.95,605.70 L205.20,605.62 L205.45,605.70 L205.71,605.97 L205.96,606.40 L206.21,607.01 L206.46,607.78 L206.72,608.71 L206.97,609.79 L207.22,611.01 L207.47,612.36 L207.73,613.83 L207.98,615.42 L208.23,617.09 L208.48,618.85 L208.74,620.67 L208.99,622.55 L209.24,624.47 L209.49,626.40 L209.75,628.35 L210.00,630.28 L210.25,632.20 L210.51,634.07 L210.76,635.90 L211.01,637.65 L211.26,639.34 L211.52,640.93 L211.77,642.42 L212.02,643.80 L212.27,645.06 L212.53,646.20 L212.78,647.21 L213.03,648.09 L213.28,648.83 L213.54,649.44 L213.79,649.91 L214.04,650.26 L214.29,650.49 L214.55,650.60 L214.80,650.64 L215.05,650.60 L215.31,650.49 L215.56,650.26 L215.81,649.91 L216.06,649.44 L216.32,648.83 L216.57,648.09 L216.82,647.22 L217.07,646.21 L217.33,645.07 L217.58,643.81 L217.83,642.43 L218.08,640.94 L218.34,639.35 L218.59,637.67 L218.84,635.92 L219.09,634.10 L219.35,632.22 L219.60,630.31 L219.85,628.38 L220.11,626.44 L220.36,624.50 L220.61,622.59 L220.86,620.72 L221.12,618.90 L221.37,617.14 L221.62,615.47 L221.87,613.89 L222.13,612.42 L222.38,611.07 L222.63,609.85 L222.88,608.77 L223.14,607.85 L223.39,607.08 L223.64,606.47 L223.89,606.04 L224.15,605.77 L224.40,605.69 L224.65,605.77 L224.91,606.04 L225.16,606.47 L225.41,607.08 L225.66,607.85 L225.92,608.77 L226.17,609.85 L226.42,611.07 L226.67,612.42 L226.93,613.88 L227.18,615.46 L227.43,617.13 L227.68,618.89 L227.94,620.71 L228.19,622.58 L228.44,624.49 L228.69,626.42 L228.95,628.36 L229.20,630.30 L229.45,632.21 L229.71,634.08 L229.96,635.90 L230.21,637.65 L230.46,639.33 L230.72,640.92 L230.97,642.40 L231.22,643.78 L231.47,645.04 L231.73,646.18 L231.98,647.19 L232.23,648.06 L232.48,648.81 L232.74,649.41 L232.99,649.88 L233.24,650.23 L233.49,650.46 L233.75,650.57 L234.00,650.61 L234.25,650.58 L234.51,650.46 L234.76,650.23 L235.01,649.89 L235.26,649.41 L235.52,648.81 L235.77,648.07 L236.02,647.19 L236.27,646.19 L236.53,645.05 L236.78,643.79 L237.03,642.41 L237.28,640.93 L237.54,639.34 L237.79,637.67 L238.04,635.91 L238.29,634.10 L238.55,632.23 L238.80,630.32 L239.05,628.39 L239.31,626.45 L239.56,624.52 L239.81,622.62 L240.06,620.74 L240.32,618.93 L240.57,617.18 L240.82,615.51 L241.07,613.93 L241.33,612.46 L241.58,611.12 L241.83,609.90 L242.08,608.83 L242.34,607.90 L242.59,607.13 L242.84,606.53 L243.09,606.09 L243.35,605.83 L243.60,605.74 L243.86,605.83 L244.11,606.09 L244.37,606.53 L244.62,607.13 L244.88,607.90 L245.13,608.82 L245.39,609.90 L245.64,611.11 L245.90,612.46 L246.15,613.93 L246.41,615.50 L246.66,617.17 L246.92,618.92 L247.17,620.74 L247.43,622.61 L247.68,624.51 L247.94,626.44 L248.19,628.38 L248.45,630.31 L248.71,632.21 L248.96,634.08 L249.22,635.90 L249.47,637.65 L249.73,639.32 L249.98,640.91 L250.24,642.39 L250.49,643.77 L250.75,645.03 L251.00,646.16 L251.26,647.17 L251.51,648.05 L251.77,648.78 L252.02,649.39 L252.28,649.86 L252.53,650.21 L252.79,650.43 L253.04,650.55 L253.30,650.58 L253.55,650.55 L253.80,650.44 L254.05,650.23 L254.31,649.90 L254.56,649.46 L254.81,648.89 L255.06,648.19 L255.31,647.36 L255.56,646.41 L255.81,645.34 L256.06,644.14 L256.32,642.84 L256.57,641.42 L256.82,639.91 L257.07,638.31 L257.32,636.64 L257.57,634.89 L257.82,633.10 L258.07,631.26 L258.33,629.39 L258.58,627.51 L258.83,625.62 L259.08,623.75 L259.33,621.91 L259.58,620.11 L259.83,618.36 L260.08,616.68 L260.34,615.08 L260.59,613.58 L260.84,612.18 L261.09,610.89 L261.34,609.74 L261.59,608.71 L261.84,607.84 L262.09,607.11 L262.35,606.53 L262.60,606.12 L262.85,605.87 L263.10,605.79 L263.35,605.88 L263.61,606.14 L263.86,606.57 L264.11,607.18 L264.36,607.94 L264.62,608.87 L264.87,609.94 L265.12,611.15 L265.37,612.50 L265.63,613.96 L265.88,615.53 L266.13,617.20 L266.38,618.95 L266.64,620.76 L266.89,622.63 L267.14,624.53 L267.39,626.46 L267.65,628.39 L267.90,630.32 L268.15,632.22 L268.41,634.08 L268.66,635.90 L268.91,637.65 L269.16,639.32 L269.42,640.90 L269.67,642.39 L269.92,643.76 L270.17,645.02 L270.43,646.15 L270.68,647.16 L270.93,648.03 L271.18,648.77 L271.44,649.37 L271.69,649.84 L271.94,650.19 L272.19,650.42 L272.45,650.53 L272.70,650.56 L272.95,650.53 L273.21,650.42 L273.46,650.19 L273.71,649.85 L273.96,649.37 L274.22,648.77 L274.47,648.03 L274.72,647.16 L274.97,646.15 L275.23,645.02 L275.48,643.77 L275.73,642.39 L275.98,640.91 L276.24,639.33 L276.49,637.66 L276.74,635.91 L276.99,634.10 L277.25,632.23 L277.50,630.33 L277.75,628.41 L278.01,626.48 L278.26,624.55 L278.51,622.65 L278.76,620.78 L279.02,618.97 L279.27,617.23 L279.52,615.56 L279.77,613.99 L280.03,612.53 L280.28,611.18 L280.53,609.97 L280.78,608.90 L281.04,607.98 L281.29,607.21 L281.54,606.61 L281.79,606.18 L282.05,605.92 L282.30,605.83 L282.55,605.92 L282.81,606.18 L283.06,606.61 L283.31,607.21 L283.56,607.98 L283.82,608.90 L284.07,609.97 L284.32,611.18 L284.57,612.53 L284.83,613.99 L285.08,615.56 L285.33,617.22 L285.58,618.97 L285.84,620.78 L286.09,622.64 L286.34,624.55 L286.59,626.47 L286.85,628.40 L287.10,630.32 L287.35,632.23 L287.61,634.09 L287.86,635.90 L288.11,637.65 L288.36,639.32 L288.62,640.90 L288.87,642.38 L289.12,643.75 L289.37,645.01 L289.63,646.14 L289.88,647.15 L290.13,648.02 L290.38,648.76 L290.64,649.36 L290.89,649.83 L291.14,650.18 L291.39,650.40 L291.65,650.52 L291.90,650.55 L292.15,650.52 L292.41,650.40 L292.66,650.18 L292.91,649.83 L293.16,649.36 L293.42,648.76 L293.67,648.02 L293.92,647.15 L294.17,646.14 L294.43,645.01 L294.68,643.76 L294.93,642.38 L295.18,640.90 L295.44,639.32 L295.69,637.66 L295.94,635.91 L296.19,634.10 L296.45,632.24 L296.70,630.34 L296.95,628.42 L297.21,626.49 L297.46,624.56 L297.71,622.66 L297.96,620.80 L298.22,618.99 L298.47,617.24 L298.72,615.58 L298.97,614.01 L299.23,612.55 L299.48,611.21 L299.73,610.00 L299.98,608.93 L300.24,608.01 L300.49,607.24 L300.74,606.64 L300.99,606.21 L301.25,605.95 L301.50,605.86 L301.75,605.94 L302.00,606.19 L302.25,606.60 L302.51,607.17 L302.76,607.90 L303.01,608.78 L303.26,609.80 L303.51,610.95 L303.76,612.23 L304.01,613.63 L304.26,615.13 L304.52,616.72 L304.77,618.40 L305.02,620.14 L305.27,621.94 L305.52,623.78 L305.77,625.64 L306.02,627.52 L306.27,629.40 L306.53,631.26 L306.78,633.09 L307.03,634.89 L307.28,636.63 L307.53,638.30 L307.78,639.89 L308.03,641.40 L308.28,642.81 L308.54,644.11 L308.79,645.30 L309.04,646.38 L309.29,647.33 L309.54,648.15 L309.79,648.85 L310.04,649.42 L310.29,649.86 L310.55,650.19 L310.80,650.40 L311.05,650.51 L311.30,650.54 L311.55,650.51 L311.80,650.39 L312.05,650.17 L312.30,649.82 L312.55,649.35 L312.80,648.75 L313.05,648.01 L313.30,647.14 L313.55,646.14" stroke="#0072BD"/>
<path d="M44.60,640.20 L44.87,637.76 L45.13,635.36 L45.40,633.04 L45.67,630.85 L45.93,628.82 L46.20,626.98 L46.47,625.36 L46.73,624.01 L47.00,622.92 L47.27,622.14 L47.53,621.66 L47.80,621.50 L48.05,621.57 L48.30,621.78 L48.55,622.12 L48.80,622.61 L49.05,623.22 L49.30,623.97 L49.56,624.84 L49.81,625.84 L50.06,626.96 L50.31,628.19 L50.56,629.53 L50.81,630.97 L51.06,632.51 L51.31,634.13 L51.56,635.84 L51.81,637.62 L52.06,639.47 L52.31,641.37 L52.57,643.33 L52.82,645.33 L53.07,647.35 L53.32,649.41 L53.57,651.48 L53.82,653.56 L54.07,655.63 L54.32,657.70 L54.57,659.75 L54.82,661.78 L55.07,663.77 L55.32,665.73 L55.58,667.63 L55.83,669.49 L56.08,671.29 L56.33,673.03 L56.58,674.69 L56.83,676.29 L57.08,677.80 L57.33,679.24 L57.58,680.59 L57.83,681.86 L58.08,683.05 L58.33,684.14 L58.59,685.15 L58.84,686.08 L59.09,686.91 L59.34,687.66 L59.59,688.33 L59.84,688.92 L60.09,689.43 L60.34,689.87 L60.59,690.25 L60.84,690.55 L61.09,690.80 L61.34,691.00 L61.60,691.15 L61.85,691.25 L62.10,691.32 L62.35,691.37 L62.60,691.39 L62.85,691.40 L63.10,691.40 L63.35,691.40 L63.61,691.39 L63.86,691.36 L64.12,691.31 L64.37,691.23 L64.63,691.12 L64.88,690.96 L65.13,690.77 L65.39,690.52 L65.64,690.22 L65.90,689.86 L66.15,689.45 L66.41,688.97 L66.66,688.43 L66.91,687.82 L67.17,687.14 L67.42,686.40 L67.68,685.58 L67.93,684.70 L68.18,683.76 L68.44,682.74 L68.69,681.66 L68.95,680.52 L69.20,679.32 L69.46,678.06 L69.71,676.75 L69.96,675.39 L70.22,673.98 L70.47,672.53 L70.73,671.05 L70.98,669.54 L71.24,668.00 L71.49,666.44 L71.74,664.87 L72.00,663.29 L72.25,661.71 L72.51,660.13 L72.76,658.57 L73.02,657.03 L73.27,655.51 L73.52,654.02 L73.78,652.57 L74.03,651.16 L74.29,649.81 L74.54,648.51 L74.79,647.27 L75.05,646.10 L75.30,645.01 L75.56,643.99 L75.81,643.05 L76.07,642.20 L76.32,641.44 L76.57,640.78 L76.83,640.21 L77.08,639.74 L77.34,639.37 L77.59,639.11 L77.85,638.95 L78.10,638.90 L78.35,638.95 L78.61,639.09 L78.86,639.34 L79.11,639.67 L79.37,640.10 L79.62,640.62 L79.87,641.23 L80.13,641.93 L80.38,642.71 L80.63,643.57 L80.89,644.50 L81.14,645.51 L81.39,646.58 L81.65,647.71 L81.90,648.90 L82.16,650.14 L82.41,651.43 L82.66,652.76 L82.92,654.12 L83.17,655.51 L83.42,656.92 L83.68,658.35 L83.93,659.78 L84.18,661.22 L84.44,662.66 L84.69,664.10 L84.94,665.51 L85.20,666.91 L85.45,668.29 L85.70,669.64 L85.96,670.95 L86.21,672.22 L86.46,673.45 L86.72,674.64 L86.97,675.77 L87.22,676.85 L87.48,677.88 L87.73,678.85 L87.98,679.75 L88.24,680.60 L88.49,681.38 L88.74,682.10 L89.00,682.75 L89.25,683.34 L89.51,683.87 L89.76,684.34 L90.01,684.75 L90.27,685.11 L90.52,685.40 L90.77,685.65 L91.03,685.85 L91.28,686.01 L91.53,686.12 L91.79,686.20 L92.04,686.26 L92.29,686.29 L92.55,686.30 L92.80,686.30 L93.05,686.30 L93.30,686.29 L93.55,686.26 L93.81,686.21 L94.06,686.14 L94.31,686.04 L94.56,685.91 L94.81,685.75 L95.06,685.54 L95.32,685.30 L95.57,685.01 L95.82,684.68 L96.07,684.31 L96.32,683.89 L96.58,683.42 L96.83,682.91 L97.08,682.35 L97.33,681.74 L97.58,681.08 L97.83,680.38 L98.08,679.64 L98.34,678.85 L98.59,678.02 L98.84,677.14 L99.09,676.24 L99.34,675.29 L99.59,674.32 L99.85,673.31 L100.10,672.28 L100.35,671.23 L100.60,670.15 L100.85,669.06 L101.11,667.96 L101.36,666.85 L101.61,665.74 L101.86,664.62 L102.11,663.51 L102.36,662.41 L102.62,661.32 L102.87,660.25 L103.12,659.20 L103.37,658.17 L103.62,657.18 L103.87,656.21 L104.12,655.29 L104.38,654.40 L104.63,653.56 L104.88,652.76 L105.13,652.02 L105.38,651.33 L105.64,650.70 L105.89,650.12 L106.14,649.61 L106.39,649.16 L106.64,648.78 L106.89,648.46 L107.15,648.22 L107.40,648.04 L107.65,647.94 L107.90,647.90 L108.15,647.93 L108.40,648.04 L108.65,648.20 L108.90,648.44 L109.15,648.74 L109.40,649.10 L109.65,649.53 L109.90,650.01 L110.15,650.56 L110.40,651.16 L110.65,651.81 L110.90,652.52 L111.15,653.27 L111.40,654.07 L111.65,654.91 L111.90,655.78 L112.15,656.69 L112.40,657.63 L112.65,658.59 L112.90,659.58 L113.15,660.59 L113.40,661.61 L113.65,662.63 L113.90,663.67 L114.15,664.70 L114.40,665.74 L114.65,666.76 L114.90,667.78 L115.15,668.78 L115.40,669.77 L115.65,670.73 L115.90,671.67 L116.15,672.58 L116.40,673.46 L116.65,674.31 L116.90,675.12 L117.15,675.90 L117.40,676.63 L117.65,677.32 L117.90,677.97 L118.15,678.58 L118.40,679.14 L118.65,679.66 L118.90,680.13 L119.15,680.55 L119.40,680.93 L119.65,681.26 L119.90,681.56 L120.15,681.81 L120.40,682.02 L120.65,682.19 L120.90,682.33 L121.15,682.43 L121.40,682.51 L121.65,682.56 L121.90,682.59 L122.15,682.60 L122.40,682.60 L122.65,682.60 L122.90,682.59 L123.16,682.56 L123.41,682.52 L123.66,682.45 L123.91,682.36 L124.16,682.25 L124.41,682.10 L124.67,681.93 L124.92,681.72 L125.17,681.48 L125.42,681.20 L125.67,680.89 L125.92,680.55 L126.18,680.17 L126.43,679.75 L126.68,679.30 L126.93,678.81 L127.18,678.29 L127.43,677.73 L127.69,677.14 L127.94,676.52 L128.19,675.87 L128.44,675.19 L128.69,674.49 L128.94,673.76 L129.19,673.01 L129.45,672.23 L129.70,671.44 L129.95,670.64 L130.20,669.82 L130.45,668.99 L130.71,668.16 L130.96,667.32 L131.21,666.48 L131.46,665.64 L131.71,664.80 L131.96,663.98 L132.22,663.16 L132.47,662.36 L132.72,661.57 L132.97,660.81 L133.22,660.07 L133.47,659.35 L133.72,658.66 L133.98,658.00 L134.23,657.38 L134.48,656.79 L134.73,656.24 L134.98,655.73 L135.24,655.26 L135.49,654.84 L135.74,654.46 L135.99,654.13 L136.24,653.85 L136.49,653.62 L136.75,653.43 L137.00,653.30 L137.25,653.23 L137.50,653.20 L137.75,653.22 L138.01,653.30 L138.26,653.42 L138.51,653.58 L138.76,653.80 L139.02,654.05 L139.27,654.36 L139.52,654.71 L139.77,655.09 L140.03,655.52 L140.28,655.99 L140.53,656.50 L140.78,657.04 L141.04,657.61 L141.29,658.21 L141.54,658.84 L141.79,659.50 L142.05,660.18 L142.30,660.88 L142.55,661.60 L142.80,662.33 L143.06,663.08 L143.31,663.84 L143.56,664.60 L143.81,665.36 L144.07,666.13 L144.32,666.90 L144.57,667.66 L144.82,668.41 L145.08,669.15 L145.33,669.88 L145.58,670.60 L145.83,671.30 L146.09,671.98 L146.34,672.64 L146.59,673.28 L146.84,673.89 L147.10,674.47 L147.35,675.02 L147.60,675.55 L147.85,676.04 L148.11,676.51 L148.36,676.94 L148.61,677.34 L148.86,677.70 L149.12,678.03 L149.37,678.33 L149.62,678.60 L149.87,678.83 L150.13,679.03 L150.38,679.20 L150.63,679.35 L150.88,679.46 L151.14,679.55 L151.39,679.61 L151.64,679.66 L151.89,679.69 L152.15,679.70 L152.40,679.70 L152.65,679.70 L152.90,679.69 L153.15,679.66 L153.40,679.62 L153.65,679.56 L153.91,679.47 L154.16,679.37 L154.41,679.24 L154.66,679.09 L154.91,678.90 L155.16,678.70 L155.41,678.46 L155.66,678.19 L155.91,677.90 L156.16,677.58 L156.41,677.23 L156.66,676.85 L156.92,676.45 L157.17,676.01 L157.42,675.56 L157.67,675.08 L157.92,674.57 L158.17,674.04 L158.42,673.50 L158.67,672.93 L158.92,672.34 L159.17,671.74 L159.42,671.13 L159.67,670.50 L159.93,669.87 L160.18,669.22 L160.43,668.58 L160.68,667.92 L160.93,667.27 L161.18,666.62 L161.43,665.98 L161.68,665.33 L161.93,664.70 L162.18,664.08 L162.43,663.47 L162.68,662.88 L162.94,662.31 L163.19,661.75 L163.44,661.22 L163.69,660.71 L163.94,660.23 L164.19,659.77 L164.44,659.35 L164.69,658.95 L164.94,658.59 L165.19,658.27 L165.44,657.97 L165.69,657.72 L165.95,657.50 L166.20,657.32 L166.45,657.18 L166.70,657.08 L166.95,657.02 L167.20,657.00 L167.45,657.02 L167.70,657.07 L167.95,657.17 L168.20,657.30 L168.45,657.46 L168.70,657.66 L168.95,657.90 L169.20,658.17 L169.45,658.47 L169.70,658.80 L169.95,659.17 L170.20,659.56 L170.45,659.98 L170.70,660.42 L170.95,660.89 L171.20,661.38 L171.45,661.89 L171.70,662.42 L171.95,662.96 L172.20,663.52 L172.45,664.09 L172.70,664.67 L172.95,665.26 L173.20,665.85 L173.45,666.45 L173.70,667.04 L173.95,667.64 L174.20,668.23 L174.45,668.82 L174.70,669.40 L174.95,669.97 L175.20,670.52 L175.45,671.07 L175.70,671.60 L175.95,672.11 L176.20,672.60 L176.45,673.08 L176.70,673.53 L176.95,673.96 L177.20,674.37 L177.45,674.76 L177.70,675.11 L177.95,675.45 L178.20,675.76 L178.45,676.04 L178.70,676.29 L178.95,676.52 L179.20,676.72 L179.45,676.90 L179.70,677.05 L179.95,677.17 L180.20,677.28 L180.45,677.36 L180.70,677.42 L180.95,677.46 L181.20,677.49 L181.45,677.50 L181.70,677.50 L181.95,677.50 L182.21,677.49 L182.46,677.46 L182.71,677.42 L182.97,677.37 L183.22,677.29 L183.47,677.20 L183.73,677.08 L183.98,676.95 L184.23,676.79 L184.49,676.61 L184.74,676.40 L184.99,676.18 L185.25,675.93 L185.50,675.65 L185.76,675.36 L186.01,675.04 L186.26,674.70 L186.52,674.34 L186.77,673.97 L187.02,673.57 L187.28,673.15 L187.53,672.72 L187.78,672.27 L188.04,671.81 L188.29,671.34 L188.54,670.85 L188.80,670.36 L189.05,669.86 L189.30,669.35 L189.56,668.84 L189.81,668.33 L190.06,667.81 L190.32,667.30 L190.57,666.79 L190.82,666.28 L191.08,665.78 L191.33,665.29 L191.58,664.81 L191.84,664.34 L192.09,663.89 L192.34,663.45 L192.60,663.03 L192.85,662.63 L193.11,662.25 L193.36,661.89 L193.61,661.55 L193.87,661.24 L194.12,660.96 L194.37,660.70 L194.63,660.47 L194.88,660.27 L195.13,660.09 L195.39,659.95 L195.64,659.84 L195.89,659.76 L196.15,659.72 L196.40,659.70 L196.65,659.71 L196.90,659.76 L197.15,659.83 L197.40,659.92 L197.65,660.05 L197.91,660.20 L198.16,660.38 L198.41,660.58 L198.66,660.81 L198.91,661.06 L199.16,661.34 L199.41,661.64 L199.66,661.95 L199.91,662.29 L200.16,662.65 L200.41,663.02 L200.66,663.41 L200.92,663.82 L201.17,664.23 L201.42,664.66 L201.67,665.10 L201.92,665.55 L202.17,666.00 L202.42,666.46 L202.67,666.92 L202.92,667.39 L203.17,667.85 L203.42,668.32 L203.67,668.78 L203.93,669.24 L204.18,669.69 L204.43,670.13 L204.68,670.57 L204.93,670.99 L205.18,671.40 L205.43,671.80 L205.68,672.19 L205.93,672.56 L206.18,672.92 L206.43,673.26 L206.68,673.58 L206.94,673.88 L207.19,674.17 L207.44,674.43 L207.69,674.68 L207.94,674.90 L208.19,675.10 L208.44,675.29 L208.69,675.45 L208.94,675.59 L209.19,675.72 L209.44,675.82 L209.69,675.91 L209.95,675.98 L210.20,676.03 L210.45,676.06 L210.70,676.09 L210.95,676.10 L211.20,676.10 L211.45,676.10 L211.71,676.09 L211.96,676.07 L212.21,676.03 L212.46,675.98 L212.72,675.92 L212.97,675.84 L213.22,675.74 L213.47,675.63 L213.73,675.49 L213.98,675.34 L214.23,675.17 L214.48,674.99 L214.74,674.78 L214.99,674.56 L215.24,674.32 L215.49,674.06 L215.75,673.78 L216.00,673.49 L216.25,673.18 L216.50,672.86 L216.76,672.52 L217.01,672.17 L217.26,671.81 L217.51,671.43 L217.77,671.05 L218.02,670.66 L218.27,670.26 L218.52,669.85 L218.78,669.44 L219.03,669.02 L219.28,668.61 L219.53,668.19 L219.79,667.77 L220.04,667.35 L220.29,666.94 L220.54,666.54 L220.80,666.13 L221.05,665.74 L221.30,665.36 L221.55,664.98 L221.81,664.62 L222.06,664.27 L222.31,663.94 L222.56,663.62 L222.82,663.31 L223.07,663.03 L223.32,662.76 L223.57,662.52 L223.83,662.29 L224.08,662.09 L224.33,661.91 L224.58,661.75 L224.84,661.61 L225.09,661.50 L225.34,661.41 L225.59,661.35 L225.85,661.31 L226.10,661.30 L226.35,661.31 L226.61,661.35 L226.86,661.40 L227.11,661.48 L227.36,661.59 L227.62,661.71 L227.87,661.86 L228.12,662.02 L228.37,662.21 L228.63,662.42 L228.88,662.65 L229.13,662.89 L229.38,663.15 L229.64,663.43 L229.89,663.72 L230.14,664.03 L230.39,664.35 L230.65,664.69 L230.90,665.03 L231.15,665.39 L231.40,665.75 L231.66,666.12 L231.91,666.49 L232.16,666.87 L232.41,667.26 L232.67,667.64 L232.92,668.03 L233.17,668.41 L233.42,668.80 L233.68,669.18 L233.93,669.55 L234.18,669.92 L234.43,670.29 L234.69,670.64 L234.94,670.99 L235.19,671.32 L235.44,671.65 L235.70,671.96 L235.95,672.26 L236.20,672.55 L236.45,672.82 L236.71,673.08 L236.96,673.32 L237.21,673.55 L237.46,673.76 L237.72,673.95 L237.97,674.13 L238.22,674.28 L238.47,674.43 L238.73,674.55 L238.98,674.66 L239.23,674.75 L239.48,674.83 L239.74,674.89 L239.99,674.93 L240.24,674.97 L240.49,674.99 L240.75,675.00 L241.00,675.00 L241.25,675.00 L241.51,674.99 L241.76,674.97 L242.01,674.93 L242.27,674.89 L242.52,674.83 L242.77,674.76 L243.03,674.67 L243.28,674.57 L243.53,674.45 L243.79,674.32 L244.04,674.17 L244.29,674.00 L244.55,673.82 L244.80,673.62 L245.06,673.41 L245.31,673.19 L245.56,672.95 L245.82,672.70 L246.07,672.43 L246.32,672.15 L246.58,671.86 L246.83,671.56 L247.08,671.25 L247.34,670.94 L247.59,670.61 L247.84,670.28 L248.10,669.94 L248.35,669.60 L248.60,669.25 L248.86,668.91 L249.11,668.56 L249.36,668.21 L249.62,667.86 L249.87,667.52 L250.12,667.18 L250.38,666.84 L250.63,666.52 L250.88,666.19 L251.14,665.88 L251.39,665.58 L251.64,665.29 L251.90,665.01 L252.15,664.74 L252.41,664.49 L252.66,664.25 L252.91,664.03 L253.17,663.82 L253.42,663.63 L253.67,663.46 L253.93,663.31 L254.18,663.17 L254.43,663.06 L254.69,662.97 L254.94,662.89 L255.19,662.84 L255.45,662.81 L255.70,662.80 L255.95,662.81 L256.21,662.84 L256.46,662.89 L256.71,662.95 L256.97,663.04 L257.22,663.14 L257.47,663.26 L257.73,663.40 L257.98,663.56 L258.23,663.73 L258.49,663.92 L258.74,664.12 L258.99,664.34 L259.25,664.57 L259.50,664.81 L259.76,665.07 L260.01,665.33 L260.26,665.61 L260.52,665.90 L260.77,666.19 L261.02,666.49 L261.28,666.80 L261.53,667.11 L261.78,667.42 L262.04,667.74 L262.29,668.06 L262.54,668.38 L262.80,668.69 L263.05,669.01 L263.30,669.32 L263.56,669.63 L263.81,669.94 L264.06,670.24 L264.32,670.53 L264.57,670.81 L264.82,671.09 L265.08,671.36 L265.33,671.61 L265.58,671.86 L265.84,672.09 L266.09,672.31 L266.34,672.52 L266.60,672.72 L266.85,672.90 L267.11,673.07 L267.36,673.22 L267.61,673.36 L267.87,673.48 L268.12,673.59 L268.37,673.69 L268.63,673.77 L268.88,673.84 L269.13,673.90 L269.39,673.94 L269.64,673.97 L269.89,673.99 L270.15,674.00 L270.40,674.00 L270.65,674.00 L270.91,673.99 L271.16,673.97 L271.41,673.94 L271.66,673.90 L271.92,673.86 L272.17,673.79 L272.42,673.72 L272.67,673.63 L272.93,673.54 L273.18,673.43 L273.43,673.30 L273.68,673.17 L273.94,673.02 L274.19,672.85 L274.44,672.68 L274.69,672.50 L274.95,672.30 L275.20,672.09 L275.45,671.88 L275.70,671.65 L275.96,671.41 L276.21,671.17 L276.46,670.92 L276.71,670.66 L276.97,670.39 L277.22,670.12 L277.47,669.85 L277.72,669.57 L277.98,669.29 L278.23,669.00 L278.48,668.72 L278.73,668.43 L278.99,668.15 L279.24,667.87 L279.49,667.59 L279.74,667.31 L280.00,667.04 L280.25,666.78 L280.50,666.52 L280.75,666.27 L281.01,666.02 L281.26,665.79 L281.51,665.56 L281.76,665.35 L282.02,665.15 L282.27,664.96 L282.52,664.78 L282.77,664.61 L283.03,664.46 L283.28,664.33 L283.53,664.20 L283.78,664.10 L284.04,664.01 L284.29,663.93 L284.54,663.88 L284.79,663.83 L285.05,663.81 L285.30,663.80 L285.55,663.81 L285.80,663.83 L286.05,663.87 L286.30,663.92 L286.55,663.99 L286.81,664.08 L287.06,664.18 L287.31,664.29 L287.56,664.42 L287.81,664.56 L288.06,664.72 L288.31,664.88 L288.56,665.06 L288.81,665.25 L289.06,665.45 L289.31,665.66 L289.56,665.88 L289.82,666.11 L290.07,666.35 L290.32,666.59 L290.57,666.84 L290.82,667.09 L291.07,667.35 L291.32,667.61 L291.57,667.88 L291.82,668.15 L292.07,668.41 L292.32,668.68 L292.57,668.95 L292.83,669.21 L293.08,669.47 L293.33,669.73 L293.58,669.99 L293.83,670.24 L294.08,670.48 L294.33,670.72 L294.58,670.95 L294.83,671.17 L295.08,671.39 L295.33,671.59 L295.58,671.79 L295.84,671.97 L296.09,672.15 L296.34,672.31 L296.59,672.46 L296.84,672.60 L297.09,672.73 L297.34,672.85 L297.59,672.96 L297.84,673.05 L298.09,673.13 L298.34,673.20 L298.59,673.26 L298.85,673.31 L299.10,673.35 L299.35,673.37 L299.60,673.39 L299.85,673.40 L300.10,673.40 L300.35,673.40 L300.61,673.39 L300.86,673.37 L301.11,673.35 L301.36,673.31 L301.62,673.27 L301.87,673.21 L302.12,673.15 L302.37,673.07 L302.63,672.98 L302.88,672.88 L303.13,672.77 L303.38,672.65 L303.64,672.52 L303.89,672.38 L304.14,672.22 L304.39,672.06 L304.65,671.89 L304.90,671.71 L305.15,671.52 L305.40,671.32 L305.66,671.11 L305.91,670.90 L306.16,670.68 L306.41,670.45 L306.67,670.22 L306.92,669.98 L307.17,669.74 L307.42,669.50 L307.68,669.25 L307.93,669.01 L308.18,668.76 L308.43,668.51 L308.69,668.26 L308.94,668.02 L309.19,667.78 L309.44,667.54 L309.70,667.30 L309.95,667.07 L310.20,666.85 L310.45,666.63 L310.71,666.42 L310.96,666.22 L311.21,666.02 L311.46,665.84 L311.72,665.66 L311.97,665.50 L312.22,665.34 L312.47,665.20 L312.73,665.07 L312.98,664.95 L313.23,664.85 L313.48,664.76" stroke="#D95319"/>
</g>
<path d="M111.60,710.50 v-4.30 M111.60,569.70 v4.30 M178.60,710.50 v-4.30 M178.60,569.70 v4.30 M245.60,710.50 v-4.30 M245.60,569.70 v4.30 M44.60,640.10 h3.00 M312.60,640.10 h-3.00" stroke="#262626" stroke-width="1.1" fill="none"/>
<path d="M44.15,569.70 H313.10 M44.15,710.50 H313.10" fill="none" stroke="#262626" stroke-width="1.3"/>
<path d="M44.55,569.70 V710.50" fill="none" stroke="#262626" stroke-width="0.9"/>
<path d="M312.55,569.70 V710.50" fill="none" stroke="#262626" stroke-width="1.05"/>
<text transform="translate(44.60,743.00) scale(0.715,1)" font-size="23.80" text-anchor="middle">0</text>
<text transform="translate(111.60,743.00) scale(0.715,1)" font-size="23.80" text-anchor="middle">300</text>
<text transform="translate(178.60,743.00) scale(0.715,1)" font-size="23.80" text-anchor="middle">600</text>
<text transform="translate(245.60,743.00) scale(0.715,1)" font-size="23.80" text-anchor="middle">900</text>
<text transform="translate(312.60,743.00) scale(0.715,1)" font-size="23.80" text-anchor="middle">1200</text>
<text transform="translate(38.40,579.81) scale(0.715,1)" font-size="23.80" text-anchor="end">4</text>
<text transform="translate(38.40,650.21) scale(0.715,1)" font-size="23.80" text-anchor="end">2</text>
<text transform="translate(38.40,720.61) scale(0.715,1)" font-size="23.80" text-anchor="end">0</text>
<text transform="translate(182.80,778.40) scale(0.762,1)" font-size="25.20" text-anchor="middle">Time (days)</text>
<text transform="translate(178.60,560.15) scale(0.762,1)" font-size="25.20" text-anchor="middle">(d)</text>
<text transform="translate(7.50,657.90) scale(0.762,1)" font-size="25.40" text-anchor="middle">C</text>
</g>
</svg></body></html>
